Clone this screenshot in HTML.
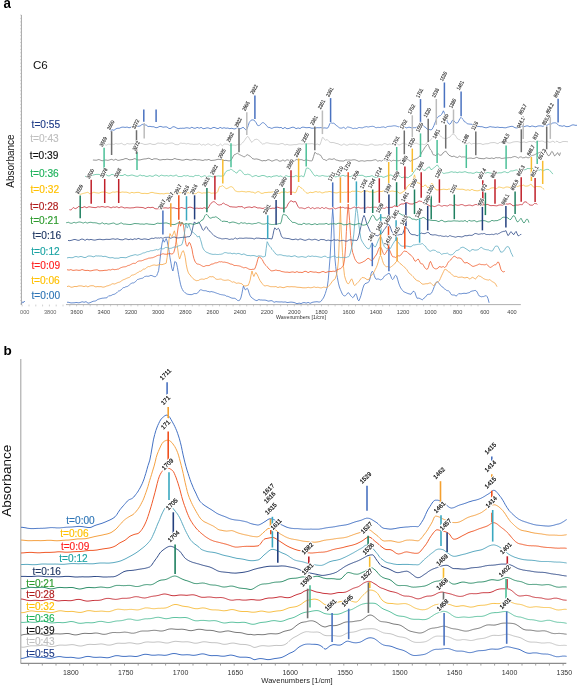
<!DOCTYPE html>
<html><head><meta charset="utf-8"><title>FTIR spectra</title><style>
html,body{margin:0;padding:0;background:#fff;}
svg{display:block;}
text{font-family:"Liberation Sans",Arial,sans-serif;}
.pl{font-weight:bold;font-size:13.5px;fill:#000;}
.c6{font-size:11.6px;fill:#111;}
.absa{font-size:10px;fill:#111;}
.absb{font-size:13.5px;fill:#111;}
.ta{font-size:5.6px;fill:#444;}
.ta2{fill:#666;}
.xla{font-size:5.3px;fill:#333;}
.tb{font-size:7px;fill:#333;}
.xlb{font-size:7.6px;fill:#222;}
.tt{font-size:10.4px;stroke-width:0.15px;}
.la{font-size:5.3px;fill:#1a1a1a;stroke:#1a1a1a;stroke-width:0.12px;}
.lb{font-size:6.1px;fill:#111;stroke:#111;stroke-width:0.2px;}
</style></head>
<body><svg width="577" height="685" viewBox="0 0 577 685">
<rect width="577" height="685" fill="#fff"/>
<text transform="translate(3.6,8.3) scale(0.86,1)" class="pl" style="font-size:15.5px">a</text>
<text x="3.6" y="355" class="pl">b</text>
<text x="33" y="69.3" class="c6">C6</text>
<text transform="translate(13.6,161) rotate(-90)" text-anchor="middle" class="absa">Absorbance</text>
<text transform="translate(10.6,480.7) rotate(-90)" text-anchor="middle" class="absb">Absorbance</text>
<line x1="21.4" y1="15" x2="21.4" y2="305" stroke="#a6a6a6" stroke-width="1"/>
<line x1="20.2" y1="15.0" x2="21.4" y2="15.0" stroke="#b0b0b0" stroke-width="0.6"/><line x1="20.2" y1="18.4" x2="21.4" y2="18.4" stroke="#b0b0b0" stroke-width="0.6"/><line x1="20.2" y1="21.9" x2="21.4" y2="21.9" stroke="#b0b0b0" stroke-width="0.6"/><line x1="20.2" y1="25.3" x2="21.4" y2="25.3" stroke="#b0b0b0" stroke-width="0.6"/><line x1="20.2" y1="28.8" x2="21.4" y2="28.8" stroke="#b0b0b0" stroke-width="0.6"/><line x1="20.2" y1="32.2" x2="21.4" y2="32.2" stroke="#b0b0b0" stroke-width="0.6"/><line x1="20.2" y1="35.6" x2="21.4" y2="35.6" stroke="#b0b0b0" stroke-width="0.6"/><line x1="20.2" y1="39.1" x2="21.4" y2="39.1" stroke="#b0b0b0" stroke-width="0.6"/><line x1="20.2" y1="42.5" x2="21.4" y2="42.5" stroke="#b0b0b0" stroke-width="0.6"/><line x1="20.2" y1="46.0" x2="21.4" y2="46.0" stroke="#b0b0b0" stroke-width="0.6"/><line x1="20.2" y1="49.4" x2="21.4" y2="49.4" stroke="#b0b0b0" stroke-width="0.6"/><line x1="20.2" y1="52.8" x2="21.4" y2="52.8" stroke="#b0b0b0" stroke-width="0.6"/><line x1="20.2" y1="56.3" x2="21.4" y2="56.3" stroke="#b0b0b0" stroke-width="0.6"/><line x1="20.2" y1="59.7" x2="21.4" y2="59.7" stroke="#b0b0b0" stroke-width="0.6"/><line x1="20.2" y1="63.2" x2="21.4" y2="63.2" stroke="#b0b0b0" stroke-width="0.6"/><line x1="20.2" y1="66.6" x2="21.4" y2="66.6" stroke="#b0b0b0" stroke-width="0.6"/><line x1="20.2" y1="70.0" x2="21.4" y2="70.0" stroke="#b0b0b0" stroke-width="0.6"/><line x1="20.2" y1="73.5" x2="21.4" y2="73.5" stroke="#b0b0b0" stroke-width="0.6"/><line x1="20.2" y1="76.9" x2="21.4" y2="76.9" stroke="#b0b0b0" stroke-width="0.6"/><line x1="20.2" y1="80.4" x2="21.4" y2="80.4" stroke="#b0b0b0" stroke-width="0.6"/><line x1="20.2" y1="83.8" x2="21.4" y2="83.8" stroke="#b0b0b0" stroke-width="0.6"/><line x1="20.2" y1="87.2" x2="21.4" y2="87.2" stroke="#b0b0b0" stroke-width="0.6"/><line x1="20.2" y1="90.7" x2="21.4" y2="90.7" stroke="#b0b0b0" stroke-width="0.6"/><line x1="20.2" y1="94.1" x2="21.4" y2="94.1" stroke="#b0b0b0" stroke-width="0.6"/><line x1="20.2" y1="97.6" x2="21.4" y2="97.6" stroke="#b0b0b0" stroke-width="0.6"/><line x1="20.2" y1="101.0" x2="21.4" y2="101.0" stroke="#b0b0b0" stroke-width="0.6"/><line x1="20.2" y1="104.4" x2="21.4" y2="104.4" stroke="#b0b0b0" stroke-width="0.6"/><line x1="20.2" y1="107.9" x2="21.4" y2="107.9" stroke="#b0b0b0" stroke-width="0.6"/><line x1="20.2" y1="111.3" x2="21.4" y2="111.3" stroke="#b0b0b0" stroke-width="0.6"/><line x1="20.2" y1="114.8" x2="21.4" y2="114.8" stroke="#b0b0b0" stroke-width="0.6"/><line x1="20.2" y1="118.2" x2="21.4" y2="118.2" stroke="#b0b0b0" stroke-width="0.6"/><line x1="20.2" y1="121.6" x2="21.4" y2="121.6" stroke="#b0b0b0" stroke-width="0.6"/><line x1="20.2" y1="125.1" x2="21.4" y2="125.1" stroke="#b0b0b0" stroke-width="0.6"/><line x1="20.2" y1="128.5" x2="21.4" y2="128.5" stroke="#b0b0b0" stroke-width="0.6"/><line x1="20.2" y1="132.0" x2="21.4" y2="132.0" stroke="#b0b0b0" stroke-width="0.6"/><line x1="20.2" y1="135.4" x2="21.4" y2="135.4" stroke="#b0b0b0" stroke-width="0.6"/><line x1="20.2" y1="138.8" x2="21.4" y2="138.8" stroke="#b0b0b0" stroke-width="0.6"/><line x1="20.2" y1="142.3" x2="21.4" y2="142.3" stroke="#b0b0b0" stroke-width="0.6"/><line x1="20.2" y1="145.7" x2="21.4" y2="145.7" stroke="#b0b0b0" stroke-width="0.6"/><line x1="20.2" y1="149.2" x2="21.4" y2="149.2" stroke="#b0b0b0" stroke-width="0.6"/><line x1="20.2" y1="152.6" x2="21.4" y2="152.6" stroke="#b0b0b0" stroke-width="0.6"/><line x1="20.2" y1="156.0" x2="21.4" y2="156.0" stroke="#b0b0b0" stroke-width="0.6"/><line x1="20.2" y1="159.5" x2="21.4" y2="159.5" stroke="#b0b0b0" stroke-width="0.6"/><line x1="20.2" y1="162.9" x2="21.4" y2="162.9" stroke="#b0b0b0" stroke-width="0.6"/><line x1="20.2" y1="166.4" x2="21.4" y2="166.4" stroke="#b0b0b0" stroke-width="0.6"/><line x1="20.2" y1="169.8" x2="21.4" y2="169.8" stroke="#b0b0b0" stroke-width="0.6"/><line x1="20.2" y1="173.2" x2="21.4" y2="173.2" stroke="#b0b0b0" stroke-width="0.6"/><line x1="20.2" y1="176.7" x2="21.4" y2="176.7" stroke="#b0b0b0" stroke-width="0.6"/><line x1="20.2" y1="180.1" x2="21.4" y2="180.1" stroke="#b0b0b0" stroke-width="0.6"/><line x1="20.2" y1="183.6" x2="21.4" y2="183.6" stroke="#b0b0b0" stroke-width="0.6"/><line x1="20.2" y1="187.0" x2="21.4" y2="187.0" stroke="#b0b0b0" stroke-width="0.6"/><line x1="20.2" y1="190.4" x2="21.4" y2="190.4" stroke="#b0b0b0" stroke-width="0.6"/><line x1="20.2" y1="193.9" x2="21.4" y2="193.9" stroke="#b0b0b0" stroke-width="0.6"/><line x1="20.2" y1="197.3" x2="21.4" y2="197.3" stroke="#b0b0b0" stroke-width="0.6"/><line x1="20.2" y1="200.8" x2="21.4" y2="200.8" stroke="#b0b0b0" stroke-width="0.6"/><line x1="20.2" y1="204.2" x2="21.4" y2="204.2" stroke="#b0b0b0" stroke-width="0.6"/><line x1="20.2" y1="207.6" x2="21.4" y2="207.6" stroke="#b0b0b0" stroke-width="0.6"/><line x1="20.2" y1="211.1" x2="21.4" y2="211.1" stroke="#b0b0b0" stroke-width="0.6"/><line x1="20.2" y1="214.5" x2="21.4" y2="214.5" stroke="#b0b0b0" stroke-width="0.6"/><line x1="20.2" y1="218.0" x2="21.4" y2="218.0" stroke="#b0b0b0" stroke-width="0.6"/><line x1="20.2" y1="221.4" x2="21.4" y2="221.4" stroke="#b0b0b0" stroke-width="0.6"/><line x1="20.2" y1="224.8" x2="21.4" y2="224.8" stroke="#b0b0b0" stroke-width="0.6"/><line x1="20.2" y1="228.3" x2="21.4" y2="228.3" stroke="#b0b0b0" stroke-width="0.6"/><line x1="20.2" y1="231.7" x2="21.4" y2="231.7" stroke="#b0b0b0" stroke-width="0.6"/><line x1="20.2" y1="235.2" x2="21.4" y2="235.2" stroke="#b0b0b0" stroke-width="0.6"/><line x1="20.2" y1="238.6" x2="21.4" y2="238.6" stroke="#b0b0b0" stroke-width="0.6"/><line x1="20.2" y1="242.0" x2="21.4" y2="242.0" stroke="#b0b0b0" stroke-width="0.6"/><line x1="20.2" y1="245.5" x2="21.4" y2="245.5" stroke="#b0b0b0" stroke-width="0.6"/><line x1="20.2" y1="248.9" x2="21.4" y2="248.9" stroke="#b0b0b0" stroke-width="0.6"/><line x1="20.2" y1="252.4" x2="21.4" y2="252.4" stroke="#b0b0b0" stroke-width="0.6"/><line x1="20.2" y1="255.8" x2="21.4" y2="255.8" stroke="#b0b0b0" stroke-width="0.6"/><line x1="20.2" y1="259.2" x2="21.4" y2="259.2" stroke="#b0b0b0" stroke-width="0.6"/><line x1="20.2" y1="262.7" x2="21.4" y2="262.7" stroke="#b0b0b0" stroke-width="0.6"/><line x1="20.2" y1="266.1" x2="21.4" y2="266.1" stroke="#b0b0b0" stroke-width="0.6"/><line x1="20.2" y1="269.6" x2="21.4" y2="269.6" stroke="#b0b0b0" stroke-width="0.6"/><line x1="20.2" y1="273.0" x2="21.4" y2="273.0" stroke="#b0b0b0" stroke-width="0.6"/><line x1="20.2" y1="276.4" x2="21.4" y2="276.4" stroke="#b0b0b0" stroke-width="0.6"/><line x1="20.2" y1="279.9" x2="21.4" y2="279.9" stroke="#b0b0b0" stroke-width="0.6"/><line x1="20.2" y1="283.3" x2="21.4" y2="283.3" stroke="#b0b0b0" stroke-width="0.6"/><line x1="20.2" y1="286.8" x2="21.4" y2="286.8" stroke="#b0b0b0" stroke-width="0.6"/><line x1="20.2" y1="290.2" x2="21.4" y2="290.2" stroke="#b0b0b0" stroke-width="0.6"/><line x1="20.2" y1="293.6" x2="21.4" y2="293.6" stroke="#b0b0b0" stroke-width="0.6"/><line x1="20.2" y1="297.1" x2="21.4" y2="297.1" stroke="#b0b0b0" stroke-width="0.6"/><line x1="20.2" y1="300.5" x2="21.4" y2="300.5" stroke="#b0b0b0" stroke-width="0.6"/><line x1="20.2" y1="304.0" x2="21.4" y2="304.0" stroke="#b0b0b0" stroke-width="0.6"/>
<line x1="66" y1="304.6" x2="520.8" y2="304.6" stroke="#a6a6a6" stroke-width="0.9"/>
<path d="M21.8,303.5 L22.6,301.8 L23.4,302.6 L24.2,301.2 L25,302" fill="none" stroke="#4472c4" stroke-width="0.8"/>
<line x1="22.2" y1="304.6" x2="22.2" y2="306.4" stroke="#b0b0b0" stroke-width="0.6"/>
<line x1="29.0" y1="304.6" x2="29.0" y2="306.4" stroke="#b0b0b0" stroke-width="0.6"/>
<line x1="35.8" y1="304.6" x2="35.8" y2="306.4" stroke="#b0b0b0" stroke-width="0.6"/>
<line x1="42.6" y1="304.6" x2="42.6" y2="306.4" stroke="#b0b0b0" stroke-width="0.6"/>
<line x1="49.4" y1="304.6" x2="49.4" y2="306.4" stroke="#b0b0b0" stroke-width="0.6"/>
<line x1="56.2" y1="304.6" x2="56.2" y2="306.4" stroke="#b0b0b0" stroke-width="0.6"/>
<line x1="63.0" y1="304.6" x2="63.0" y2="306.4" stroke="#b0b0b0" stroke-width="0.6"/>
<line x1="69.8" y1="304.6" x2="69.8" y2="306.4" stroke="#b0b0b0" stroke-width="0.6"/>
<line x1="76.6" y1="304.6" x2="76.6" y2="306.4" stroke="#b0b0b0" stroke-width="0.6"/>
<line x1="83.4" y1="304.6" x2="83.4" y2="306.4" stroke="#b0b0b0" stroke-width="0.6"/>
<line x1="90.2" y1="304.6" x2="90.2" y2="306.4" stroke="#b0b0b0" stroke-width="0.6"/>
<line x1="97.0" y1="304.6" x2="97.0" y2="306.4" stroke="#b0b0b0" stroke-width="0.6"/>
<line x1="103.8" y1="304.6" x2="103.8" y2="306.4" stroke="#b0b0b0" stroke-width="0.6"/>
<line x1="110.6" y1="304.6" x2="110.6" y2="306.4" stroke="#b0b0b0" stroke-width="0.6"/>
<line x1="117.4" y1="304.6" x2="117.4" y2="306.4" stroke="#b0b0b0" stroke-width="0.6"/>
<line x1="124.2" y1="304.6" x2="124.2" y2="306.4" stroke="#b0b0b0" stroke-width="0.6"/>
<line x1="131.0" y1="304.6" x2="131.0" y2="306.4" stroke="#b0b0b0" stroke-width="0.6"/>
<line x1="137.8" y1="304.6" x2="137.8" y2="306.4" stroke="#b0b0b0" stroke-width="0.6"/>
<line x1="144.6" y1="304.6" x2="144.6" y2="306.4" stroke="#b0b0b0" stroke-width="0.6"/>
<line x1="151.4" y1="304.6" x2="151.4" y2="306.4" stroke="#b0b0b0" stroke-width="0.6"/>
<line x1="158.2" y1="304.6" x2="158.2" y2="306.4" stroke="#b0b0b0" stroke-width="0.6"/>
<line x1="165.0" y1="304.6" x2="165.0" y2="306.4" stroke="#b0b0b0" stroke-width="0.6"/>
<line x1="171.8" y1="304.6" x2="171.8" y2="306.4" stroke="#b0b0b0" stroke-width="0.6"/>
<line x1="178.6" y1="304.6" x2="178.6" y2="306.4" stroke="#b0b0b0" stroke-width="0.6"/>
<line x1="185.4" y1="304.6" x2="185.4" y2="306.4" stroke="#b0b0b0" stroke-width="0.6"/>
<line x1="192.3" y1="304.6" x2="192.3" y2="306.4" stroke="#b0b0b0" stroke-width="0.6"/>
<line x1="199.1" y1="304.6" x2="199.1" y2="306.4" stroke="#b0b0b0" stroke-width="0.6"/>
<line x1="205.9" y1="304.6" x2="205.9" y2="306.4" stroke="#b0b0b0" stroke-width="0.6"/>
<line x1="212.7" y1="304.6" x2="212.7" y2="306.4" stroke="#b0b0b0" stroke-width="0.6"/>
<line x1="219.5" y1="304.6" x2="219.5" y2="306.4" stroke="#b0b0b0" stroke-width="0.6"/>
<line x1="226.3" y1="304.6" x2="226.3" y2="306.4" stroke="#b0b0b0" stroke-width="0.6"/>
<line x1="233.1" y1="304.6" x2="233.1" y2="306.4" stroke="#b0b0b0" stroke-width="0.6"/>
<line x1="239.9" y1="304.6" x2="239.9" y2="306.4" stroke="#b0b0b0" stroke-width="0.6"/>
<line x1="246.7" y1="304.6" x2="246.7" y2="306.4" stroke="#b0b0b0" stroke-width="0.6"/>
<line x1="253.5" y1="304.6" x2="253.5" y2="306.4" stroke="#b0b0b0" stroke-width="0.6"/>
<line x1="260.3" y1="304.6" x2="260.3" y2="306.4" stroke="#b0b0b0" stroke-width="0.6"/>
<line x1="267.1" y1="304.6" x2="267.1" y2="306.4" stroke="#b0b0b0" stroke-width="0.6"/>
<line x1="273.9" y1="304.6" x2="273.9" y2="306.4" stroke="#b0b0b0" stroke-width="0.6"/>
<line x1="280.7" y1="304.6" x2="280.7" y2="306.4" stroke="#b0b0b0" stroke-width="0.6"/>
<line x1="287.5" y1="304.6" x2="287.5" y2="306.4" stroke="#b0b0b0" stroke-width="0.6"/>
<line x1="294.3" y1="304.6" x2="294.3" y2="306.4" stroke="#b0b0b0" stroke-width="0.6"/>
<line x1="301.1" y1="304.6" x2="301.1" y2="306.4" stroke="#b0b0b0" stroke-width="0.6"/>
<line x1="307.9" y1="304.6" x2="307.9" y2="306.4" stroke="#b0b0b0" stroke-width="0.6"/>
<line x1="314.7" y1="304.6" x2="314.7" y2="306.4" stroke="#b0b0b0" stroke-width="0.6"/>
<line x1="321.5" y1="304.6" x2="321.5" y2="306.4" stroke="#b0b0b0" stroke-width="0.6"/>
<line x1="328.3" y1="304.6" x2="328.3" y2="306.4" stroke="#b0b0b0" stroke-width="0.6"/>
<line x1="335.1" y1="304.6" x2="335.1" y2="306.4" stroke="#b0b0b0" stroke-width="0.6"/>
<line x1="341.9" y1="304.6" x2="341.9" y2="306.4" stroke="#b0b0b0" stroke-width="0.6"/>
<line x1="348.7" y1="304.6" x2="348.7" y2="306.4" stroke="#b0b0b0" stroke-width="0.6"/>
<line x1="355.5" y1="304.6" x2="355.5" y2="306.4" stroke="#b0b0b0" stroke-width="0.6"/>
<line x1="362.3" y1="304.6" x2="362.3" y2="306.4" stroke="#b0b0b0" stroke-width="0.6"/>
<line x1="369.1" y1="304.6" x2="369.1" y2="306.4" stroke="#b0b0b0" stroke-width="0.6"/>
<line x1="375.9" y1="304.6" x2="375.9" y2="306.4" stroke="#b0b0b0" stroke-width="0.6"/>
<line x1="382.7" y1="304.6" x2="382.7" y2="306.4" stroke="#b0b0b0" stroke-width="0.6"/>
<line x1="389.5" y1="304.6" x2="389.5" y2="306.4" stroke="#b0b0b0" stroke-width="0.6"/>
<line x1="396.3" y1="304.6" x2="396.3" y2="306.4" stroke="#b0b0b0" stroke-width="0.6"/>
<line x1="403.1" y1="304.6" x2="403.1" y2="306.4" stroke="#b0b0b0" stroke-width="0.6"/>
<line x1="409.9" y1="304.6" x2="409.9" y2="306.4" stroke="#b0b0b0" stroke-width="0.6"/>
<line x1="416.8" y1="304.6" x2="416.8" y2="306.4" stroke="#b0b0b0" stroke-width="0.6"/>
<line x1="423.6" y1="304.6" x2="423.6" y2="306.4" stroke="#b0b0b0" stroke-width="0.6"/>
<line x1="430.4" y1="304.6" x2="430.4" y2="306.4" stroke="#b0b0b0" stroke-width="0.6"/>
<line x1="437.2" y1="304.6" x2="437.2" y2="306.4" stroke="#b0b0b0" stroke-width="0.6"/>
<line x1="444.0" y1="304.6" x2="444.0" y2="306.4" stroke="#b0b0b0" stroke-width="0.6"/>
<line x1="450.8" y1="304.6" x2="450.8" y2="306.4" stroke="#b0b0b0" stroke-width="0.6"/>
<line x1="457.6" y1="304.6" x2="457.6" y2="306.4" stroke="#b0b0b0" stroke-width="0.6"/>
<line x1="464.4" y1="304.6" x2="464.4" y2="306.4" stroke="#b0b0b0" stroke-width="0.6"/>
<line x1="471.2" y1="304.6" x2="471.2" y2="306.4" stroke="#b0b0b0" stroke-width="0.6"/>
<line x1="478.0" y1="304.6" x2="478.0" y2="306.4" stroke="#b0b0b0" stroke-width="0.6"/>
<text x="76.6" y="313.6" class="ta" text-anchor="middle">3600</text>
<text x="103.8" y="313.6" class="ta" text-anchor="middle">3400</text>
<text x="131.0" y="313.6" class="ta" text-anchor="middle">3200</text>
<text x="158.2" y="313.6" class="ta" text-anchor="middle">3000</text>
<text x="185.4" y="313.6" class="ta" text-anchor="middle">2800</text>
<text x="212.7" y="313.6" class="ta" text-anchor="middle">2600</text>
<text x="239.9" y="313.6" class="ta" text-anchor="middle">2400</text>
<text x="267.1" y="313.6" class="ta" text-anchor="middle">2200</text>
<text x="294.3" y="313.6" class="ta" text-anchor="middle">2000</text>
<text x="321.5" y="313.6" class="ta" text-anchor="middle">1800</text>
<text x="348.7" y="313.6" class="ta" text-anchor="middle">1600</text>
<text x="375.9" y="313.6" class="ta" text-anchor="middle">1400</text>
<text x="403.1" y="313.6" class="ta" text-anchor="middle">1200</text>
<text x="430.4" y="313.6" class="ta" text-anchor="middle">1000</text>
<text x="457.6" y="313.6" class="ta" text-anchor="middle">800</text>
<text x="484.8" y="313.6" class="ta" text-anchor="middle">600</text>
<text x="512.0" y="313.6" class="ta" text-anchor="middle">400</text>
<text x="24.7" y="313.6" class="ta ta2" text-anchor="middle">000</text>
<text x="50.2" y="313.6" class="ta ta2" text-anchor="middle">3800</text>
<text x="301" y="319" class="xla" text-anchor="middle">Wavenumbers [1/cm]</text>
<line x1="20.8" y1="359" x2="20.8" y2="663.5" stroke="#a6a6a6" stroke-width="1.1"/>
<line x1="20.8" y1="663.4" x2="566.3" y2="663.4" stroke="#8c8c8c" stroke-width="1.1"/>
<line x1="28.6" y1="663.4" x2="28.6" y2="665.6" stroke="#8c8c8c" stroke-width="0.8"/>
<line x1="42.3" y1="663.4" x2="42.3" y2="665.6" stroke="#8c8c8c" stroke-width="0.8"/>
<line x1="56.0" y1="663.4" x2="56.0" y2="665.6" stroke="#8c8c8c" stroke-width="0.8"/>
<line x1="69.7" y1="663.4" x2="69.7" y2="665.6" stroke="#8c8c8c" stroke-width="0.8"/>
<line x1="83.4" y1="663.4" x2="83.4" y2="665.6" stroke="#8c8c8c" stroke-width="0.8"/>
<line x1="97.1" y1="663.4" x2="97.1" y2="665.6" stroke="#8c8c8c" stroke-width="0.8"/>
<line x1="110.8" y1="663.4" x2="110.8" y2="665.6" stroke="#8c8c8c" stroke-width="0.8"/>
<line x1="124.5" y1="663.4" x2="124.5" y2="665.6" stroke="#8c8c8c" stroke-width="0.8"/>
<line x1="138.2" y1="663.4" x2="138.2" y2="665.6" stroke="#8c8c8c" stroke-width="0.8"/>
<line x1="151.9" y1="663.4" x2="151.9" y2="665.6" stroke="#8c8c8c" stroke-width="0.8"/>
<line x1="165.6" y1="663.4" x2="165.6" y2="665.6" stroke="#8c8c8c" stroke-width="0.8"/>
<line x1="179.3" y1="663.4" x2="179.3" y2="665.6" stroke="#8c8c8c" stroke-width="0.8"/>
<line x1="193.0" y1="663.4" x2="193.0" y2="665.6" stroke="#8c8c8c" stroke-width="0.8"/>
<line x1="206.8" y1="663.4" x2="206.8" y2="665.6" stroke="#8c8c8c" stroke-width="0.8"/>
<line x1="220.5" y1="663.4" x2="220.5" y2="665.6" stroke="#8c8c8c" stroke-width="0.8"/>
<line x1="234.2" y1="663.4" x2="234.2" y2="665.6" stroke="#8c8c8c" stroke-width="0.8"/>
<line x1="247.9" y1="663.4" x2="247.9" y2="665.6" stroke="#8c8c8c" stroke-width="0.8"/>
<line x1="261.6" y1="663.4" x2="261.6" y2="665.6" stroke="#8c8c8c" stroke-width="0.8"/>
<line x1="275.3" y1="663.4" x2="275.3" y2="665.6" stroke="#8c8c8c" stroke-width="0.8"/>
<line x1="289.0" y1="663.4" x2="289.0" y2="665.6" stroke="#8c8c8c" stroke-width="0.8"/>
<line x1="302.7" y1="663.4" x2="302.7" y2="665.6" stroke="#8c8c8c" stroke-width="0.8"/>
<line x1="316.4" y1="663.4" x2="316.4" y2="665.6" stroke="#8c8c8c" stroke-width="0.8"/>
<line x1="330.1" y1="663.4" x2="330.1" y2="665.6" stroke="#8c8c8c" stroke-width="0.8"/>
<line x1="343.8" y1="663.4" x2="343.8" y2="665.6" stroke="#8c8c8c" stroke-width="0.8"/>
<line x1="357.5" y1="663.4" x2="357.5" y2="665.6" stroke="#8c8c8c" stroke-width="0.8"/>
<line x1="371.2" y1="663.4" x2="371.2" y2="665.6" stroke="#8c8c8c" stroke-width="0.8"/>
<line x1="384.9" y1="663.4" x2="384.9" y2="665.6" stroke="#8c8c8c" stroke-width="0.8"/>
<line x1="398.6" y1="663.4" x2="398.6" y2="665.6" stroke="#8c8c8c" stroke-width="0.8"/>
<line x1="412.3" y1="663.4" x2="412.3" y2="665.6" stroke="#8c8c8c" stroke-width="0.8"/>
<line x1="426.0" y1="663.4" x2="426.0" y2="665.6" stroke="#8c8c8c" stroke-width="0.8"/>
<line x1="439.7" y1="663.4" x2="439.7" y2="665.6" stroke="#8c8c8c" stroke-width="0.8"/>
<line x1="453.4" y1="663.4" x2="453.4" y2="665.6" stroke="#8c8c8c" stroke-width="0.8"/>
<line x1="467.1" y1="663.4" x2="467.1" y2="665.6" stroke="#8c8c8c" stroke-width="0.8"/>
<line x1="480.9" y1="663.4" x2="480.9" y2="665.6" stroke="#8c8c8c" stroke-width="0.8"/>
<line x1="494.6" y1="663.4" x2="494.6" y2="665.6" stroke="#8c8c8c" stroke-width="0.8"/>
<line x1="508.3" y1="663.4" x2="508.3" y2="665.6" stroke="#8c8c8c" stroke-width="0.8"/>
<line x1="522.0" y1="663.4" x2="522.0" y2="665.6" stroke="#8c8c8c" stroke-width="0.8"/>
<line x1="535.7" y1="663.4" x2="535.7" y2="665.6" stroke="#8c8c8c" stroke-width="0.8"/>
<line x1="549.4" y1="663.4" x2="549.4" y2="665.6" stroke="#8c8c8c" stroke-width="0.8"/>
<line x1="563.1" y1="663.4" x2="563.1" y2="665.6" stroke="#8c8c8c" stroke-width="0.8"/>
<text x="70.9" y="675.4" class="tb" text-anchor="middle">1800</text>
<text x="125.7" y="675.4" class="tb" text-anchor="middle">1750</text>
<text x="180.5" y="675.4" class="tb" text-anchor="middle">1700</text>
<text x="235.4" y="675.4" class="tb" text-anchor="middle">1650</text>
<text x="290.2" y="675.4" class="tb" text-anchor="middle">1600</text>
<text x="345.0" y="675.4" class="tb" text-anchor="middle">1550</text>
<text x="399.8" y="675.4" class="tb" text-anchor="middle">1500</text>
<text x="454.6" y="675.4" class="tb" text-anchor="middle">1450</text>
<text x="509.5" y="675.4" class="tb" text-anchor="middle">1400</text>
<text x="564.3" y="675.4" class="tb" text-anchor="middle">1350</text>
<text x="297" y="683.4" class="xlb" text-anchor="middle">Wavenumbers [1/cm]</text>
<path d="M67.0,302.3 L68.0,302.2 L69.0,302.4 L70.0,302.7 L71.0,302.9 L72.0,302.9 L73.0,302.8 L74.0,302.8 L75.0,302.7 L76.0,302.5 L77.0,302.5 L78.0,302.8 L79.0,302.8 L80.0,302.5 L81.0,302.2 L82.0,301.8 L83.0,301.9 L84.0,302.3 L85.0,302.0 L86.0,301.6 L87.0,302.4 L88.0,303.1 L89.0,303.1 L90.0,302.6 L91.0,302.3 L92.0,301.7 L93.0,301.4 L93.9,301.1 L94.9,301.1 L95.9,300.8 L96.9,300.1 L97.9,299.4 L98.9,299.1 L99.9,298.8 L100.9,298.5 L101.9,298.3 L102.9,298.1 L103.9,298.1 L104.9,297.9 L105.9,297.9 L106.9,297.8 L107.8,296.7 L108.8,295.7 L109.8,295.9 L110.8,295.6 L111.8,295.2 L112.8,294.5 L113.8,294.4 L114.7,294.1 L115.7,293.5 L116.7,292.8 L117.7,291.8 L118.7,290.9 L119.7,290.8 L120.7,290.2 L121.7,289.1 L122.7,288.2 L123.7,287.5 L124.7,287.5 L125.7,286.8 L126.7,286.6 L127.7,286.3 L128.6,285.6 L129.6,284.8 L130.6,283.9 L131.6,283.3 L132.6,282.9 L133.6,282.9 L134.6,282.3 L135.5,281.7 L136.5,280.5 L137.5,279.5 L138.5,279.3 L139.5,278.9 L140.5,278.6 L141.5,278.4 L142.5,278.2 L143.5,277.6 L144.5,276.6 L145.5,276.4 L146.4,276.2 L147.3,276.3 L148.2,276.3 L149.2,276.1 L150.1,275.6 L151.0,275.3 L151.9,275.7 L152.9,276.0 L153.8,276.5 L154.8,276.7 L155.7,276.6 L156.7,275.6 L157.6,273.4 L158.6,270.7 L159.8,261.5 L161.1,249.8 L162.1,243.0 L163.0,239.3 L164.3,242.2 L165.2,240.6 L166.2,238.5 L167.1,241.0 L168.1,245.9 L169.1,251.4 L170.0,257.7 L171.0,263.2 L171.9,268.6 L172.9,271.0 L173.9,266.6 L174.8,261.5 L175.6,262.1 L176.3,262.4 L177.4,267.4 L178.6,274.5 L179.6,279.7 L180.5,284.2 L181.4,287.3 L182.4,289.5 L183.4,291.2 L184.3,291.9 L185.2,292.8 L186.2,293.6 L187.2,294.1 L188.1,294.3 L189.1,294.5 L190.0,294.6 L191.0,294.6 L191.9,294.6 L192.9,294.2 L193.9,293.7 L194.8,293.5 L195.8,293.6 L196.8,293.5 L197.7,292.9 L198.7,291.8 L199.6,290.3 L200.6,289.8 L201.5,289.9 L202.4,290.3 L203.4,290.6 L204.3,290.7 L205.3,290.7 L206.2,290.8 L207.2,291.4 L208.1,291.3 L209.1,291.8 L210.1,291.9 L211.0,291.6 L211.9,291.6 L212.9,292.0 L213.8,292.1 L214.8,292.5 L215.8,292.9 L216.7,293.2 L217.7,293.6 L218.6,293.8 L219.6,294.3 L220.5,294.5 L221.5,294.7 L222.4,294.8 L223.4,295.0 L224.4,295.1 L225.3,295.4 L226.3,296.2 L227.2,296.2 L228.2,296.5 L229.2,296.9 L230.1,297.4 L231.1,297.8 L232.0,298.2 L233.0,298.2 L233.9,298.3 L234.8,298.3 L235.8,298.9 L236.8,299.7 L237.7,300.5 L238.7,300.6 L239.6,300.3 L240.8,298.1 L241.9,293.7 L242.7,289.4 L243.4,286.1 L244.4,288.1 L245.3,289.9 L246.2,289.2 L247.2,288.3 L248.2,289.9 L249.1,293.1 L250.1,295.6 L251.1,297.1 L252.0,298.0 L252.9,298.5 L253.9,299.3 L254.9,300.0 L255.9,300.4 L256.9,300.6 L258.0,300.0 L259.0,299.4 L260.0,300.1 L261.0,299.9 L262.0,300.1 L263.0,300.1 L264.0,300.1 L265.0,300.1 L266.0,300.3 L267.0,300.6 L268.0,301.1 L269.0,301.1 L270.0,300.8 L271.0,300.7 L272.0,300.7 L273.0,301.4 L274.0,302.3 L275.0,302.0 L276.0,301.6 L277.0,301.8 L278.0,301.9 L279.0,301.9 L280.0,302.0 L281.0,301.9 L282.0,301.9 L283.0,302.1 L284.0,302.1 L285.0,301.9 L286.0,302.1 L287.0,302.5 L288.0,302.5 L289.0,302.3 L290.0,302.2 L291.0,302.1 L292.0,302.2 L293.0,302.3 L294.0,302.5 L295.0,302.8 L296.0,303.3 L297.0,303.7 L298.0,303.4 L299.0,303.2 L300.0,303.2 L301.0,303.7 L302.0,303.1 L303.0,302.7 L304.0,302.6 L305.0,302.7 L306.0,303.1 L307.0,302.9 L308.0,302.4 L309.0,302.7 L310.0,303.4 L311.0,303.0 L312.0,302.4 L313.0,302.2 L314.0,302.0 L315.0,301.9 L316.0,301.8 L317.0,301.7 L318.0,301.9 L319.1,302.1 L320.2,301.8 L321.3,301.0 L322.4,299.3 L323.4,298.0 L324.3,296.0 L325.3,293.5 L326.2,290.5 L327.2,287.4 L328.2,280.3 L329.1,269.5 L330.1,257.0 L331.1,238.4 L332.0,219.0 L332.7,209.1 L333.5,219.1 L334.8,257.1 L335.7,266.4 L336.5,273.1 L337.4,277.7 L338.4,283.1 L339.4,287.0 L340.4,289.6 L341.4,291.9 L342.4,294.2 L343.5,295.5 L344.5,295.9 L345.5,295.6 L346.6,294.6 L347.6,293.1 L348.6,292.7 L349.6,294.1 L350.6,295.7 L351.7,296.6 L352.7,297.7 L353.7,296.9 L354.8,294.9 L355.8,293.7 L356.8,295.8 L357.8,299.6 L358.8,300.9 L359.8,298.8 L360.9,295.7 L361.9,291.9 L362.9,288.1 L364.0,285.0 L365.0,283.7 L366.0,283.3 L367.1,282.9 L368.1,282.4 L369.1,281.5 L370.2,278.1 L371.2,273.2 L372.3,271.2 L373.3,272.4 L374.2,275.3 L375.2,278.0 L376.2,279.3 L377.2,279.0 L378.2,278.9 L379.3,279.3 L380.3,279.9 L381.3,279.6 L382.3,279.1 L383.4,277.7 L384.4,276.1 L385.4,275.4 L386.3,274.9 L387.1,274.3 L388.0,273.8 L388.9,273.3 L389.8,273.8 L390.8,276.1 L391.7,278.6 L392.6,279.6 L393.6,278.6 L394.6,276.3 L395.6,275.2 L396.6,276.1 L397.6,279.2 L398.7,283.1 L399.7,285.8 L400.7,287.9 L401.8,289.5 L402.8,290.7 L403.8,291.8 L404.8,292.2 L405.9,292.7 L406.9,293.1 L407.9,293.5 L409.0,293.9 L410.0,294.0 L411.0,294.3 L412.0,292.9 L413.0,291.4 L414.0,291.3 L415.0,292.6 L416.1,296.1 L417.1,298.3 L418.1,298.1 L419.1,298.2 L420.2,298.7 L421.2,299.2 L422.2,299.9 L423.2,299.1 L424.2,297.9 L425.3,297.2 L426.3,295.9 L427.2,294.7 L428.2,294.3 L429.2,294.3 L430.2,294.1 L431.3,293.3 L432.3,291.6 L433.3,289.2 L434.3,286.5 L435.4,284.3 L436.4,282.1 L437.4,281.6 L438.4,282.5 L439.4,283.8 L440.5,285.2 L441.5,286.4 L442.5,286.8 L443.5,288.1 L444.5,288.9 L445.6,289.5 L446.6,290.4 L447.6,290.7 L448.6,290.9 L449.6,291.8 L450.6,293.6 L451.7,294.9 L452.7,295.0 L453.7,295.0 L454.8,295.0 L455.8,296.1 L456.8,295.7 L457.8,294.5 L458.8,293.5 L459.9,293.8 L460.9,293.8 L461.9,293.7 L462.9,293.4 L464.0,293.3 L465.0,293.3 L466.0,293.5 L467.1,293.2 L468.1,292.8 L469.1,292.8 L470.1,291.9 L471.1,291.4 L472.1,291.0 L473.2,290.9 L474.2,290.6 L475.2,290.4 L476.2,290.9 L477.2,292.1 L478.2,294.3 L479.3,296.0 L480.3,296.4 L481.3,296.8 L482.3,296.6 L483.4,296.6 L484.4,296.2 L485.4,295.8 L486.3,295.7 L487.1,296.6 L488.0,298.6 L489.1,302.8" fill="none" stroke="#4472c4" stroke-width="0.8" stroke-linejoin="round"/><path d="M67.0,286.6 L68.0,286.3 L69.0,286.0 L70.0,286.7 L71.0,287.2 L72.0,287.2 L73.0,287.0 L74.0,286.6 L75.0,286.4 L76.0,286.6 L77.0,286.5 L78.0,286.1 L79.0,285.9 L80.0,285.9 L81.0,285.9 L82.0,286.0 L83.0,286.3 L84.0,286.6 L85.0,286.3 L86.0,285.8 L87.0,286.5 L88.0,287.0 L89.0,286.2 L90.0,286.0 L91.0,285.7 L92.0,285.8 L93.0,285.7 L94.0,286.0 L95.0,286.7 L96.0,286.9 L97.0,286.6 L98.0,286.6 L99.0,286.7 L100.0,286.7 L101.0,286.6 L102.0,286.9 L103.0,287.2 L104.0,287.0 L105.0,286.8 L105.9,286.4 L106.9,285.9 L107.9,285.8 L108.9,285.5 L109.8,285.0 L110.8,284.8 L111.8,284.0 L112.8,283.7 L113.8,283.9 L114.8,284.0 L115.8,283.5 L116.8,283.0 L117.8,282.6 L118.7,282.3 L119.7,282.1 L120.7,281.5 L121.7,280.7 L122.7,280.1 L123.7,279.6 L124.7,279.3 L125.7,278.8 L126.7,278.3 L127.7,277.9 L128.6,277.6 L129.6,277.3 L130.6,276.3 L131.6,275.2 L132.6,275.0 L133.6,274.9 L134.6,274.4 L135.5,274.0 L136.5,273.3 L137.5,272.6 L138.5,272.2 L139.5,271.3 L140.5,271.3 L141.5,270.9 L142.5,269.7 L143.5,269.1 L144.6,269.1 L145.6,268.5 L146.6,267.6 L147.6,267.0 L148.6,266.5 L149.6,266.6 L150.7,266.0 L151.7,265.6 L152.8,265.2 L153.8,265.0 L154.8,265.0 L155.9,265.3 L156.9,265.3 L158.0,265.0 L159.0,264.8 L160.0,264.4 L161.0,264.5 L162.0,264.7 L163.0,264.3 L164.1,264.0 L165.1,263.7 L166.2,263.2 L167.1,257.6 L168.1,248.1 L169.1,238.9 L170.0,233.6 L170.9,235.4 L171.9,236.6 L173.2,233.9 L174.4,230.8 L175.6,235.5 L176.7,242.9 L177.7,248.9 L178.6,255.5 L179.6,259.0 L180.6,256.2 L181.5,253.3 L182.4,251.3 L183.4,250.7 L184.4,253.5 L185.3,257.7 L186.2,264.2 L187.2,269.1 L188.1,272.1 L189.1,274.0 L190.1,275.0 L191.0,276.3 L192.0,277.4 L192.9,278.5 L193.9,279.3 L194.8,279.9 L195.8,280.4 L196.7,280.7 L197.7,280.5 L198.6,280.4 L199.6,279.7 L200.6,279.3 L201.5,279.1 L202.4,279.1 L203.4,279.3 L204.4,279.2 L205.3,278.6 L206.2,278.6 L207.2,278.3 L208.2,277.7 L209.1,276.9 L210.1,276.7 L211.0,276.7 L211.9,276.9 L212.9,276.5 L213.8,277.0 L214.8,278.2 L215.8,278.9 L216.7,279.3 L217.7,279.4 L218.6,279.3 L219.6,279.1 L220.5,279.0 L221.5,279.2 L222.4,279.8 L223.4,280.1 L224.4,280.3 L225.3,280.3 L226.3,280.2 L227.3,280.0 L228.4,280.0 L229.4,280.4 L230.4,280.9 L231.5,281.7 L232.5,282.2 L233.6,281.8 L234.6,282.0 L235.6,283.1 L236.7,283.3 L237.7,283.1 L238.8,283.0 L239.8,283.3 L240.8,283.5 L241.9,283.8 L242.9,285.0 L244.0,285.8 L245.0,286.0 L246.1,285.9 L247.1,285.4 L248.2,285.4 L249.1,283.2 L250.1,280.2 L251.1,274.8 L252.0,271.0 L252.9,274.3 L253.9,276.5 L254.9,274.0 L255.8,272.5 L256.9,274.0 L258.0,276.2 L259.0,278.6 L260.0,280.5 L261.0,282.0 L262.1,283.4 L263.1,284.7 L264.2,285.8 L265.3,285.9 L266.3,285.6 L267.3,285.6 L268.2,285.8 L269.2,286.2 L270.2,286.6 L271.2,286.7 L272.2,286.7 L273.1,286.7 L274.1,286.8 L275.1,286.6 L276.1,286.6 L277.1,287.2 L278.0,287.6 L279.0,287.1 L280.0,286.9 L281.0,287.1 L282.0,287.4 L283.0,287.7 L284.0,287.6 L285.0,287.2 L286.0,286.9 L287.0,286.6 L288.0,286.6 L289.0,286.8 L290.0,286.8 L291.0,286.7 L292.0,286.7 L293.0,286.8 L294.0,286.8 L295.0,286.8 L296.0,287.0 L297.0,287.2 L298.0,287.3 L299.0,287.3 L300.0,287.4 L301.0,287.5 L302.0,287.7 L303.0,287.8 L304.0,287.8 L305.1,287.8 L306.1,287.8 L307.1,287.6 L308.1,287.3 L309.1,287.5 L310.1,287.8 L311.1,287.7 L312.1,287.6 L313.1,287.2 L314.2,286.9 L315.2,287.3 L316.2,287.5 L317.2,287.3 L318.2,287.3 L319.2,287.6 L320.2,287.8 L321.2,287.9 L322.3,287.6 L323.3,287.2 L324.3,287.2 L325.3,287.4 L326.3,287.5 L327.2,287.2 L328.2,286.6 L329.1,285.7 L330.1,284.5 L331.1,283.1 L332.0,281.8 L332.9,280.5 L333.9,280.0 L335.1,278.8 L336.4,275.2 L337.4,270.2 L338.4,261.1 L339.7,230.0 L340.4,206.0 L341.2,230.0 L342.5,252.7 L343.5,266.7 L344.5,275.6 L345.5,279.2 L346.6,282.0 L347.6,283.5 L348.6,283.7 L349.6,282.3 L350.7,280.0 L351.7,278.8 L352.7,281.1 L353.8,284.5 L354.8,285.6 L355.8,284.4 L356.8,283.6 L357.8,282.6 L358.8,281.5 L359.8,280.2 L360.9,278.7 L361.9,277.7 L362.9,277.5 L363.9,277.8 L364.9,278.0 L366.0,278.9 L367.0,279.6 L368.0,279.7 L369.1,279.1 L370.1,277.4 L371.1,275.5 L372.2,274.7 L373.2,273.5 L374.2,271.7 L375.2,269.6 L376.2,267.7 L377.2,265.3 L378.3,261.7 L379.4,257.6 L380.5,255.3 L381.5,257.1 L382.4,260.3 L383.4,263.3 L384.4,265.1 L385.4,266.0 L386.4,266.7 L387.5,266.6 L388.5,266.7 L389.5,267.2 L390.5,267.2 L391.5,266.5 L392.6,265.6 L393.6,264.7 L394.6,264.0 L395.9,262.0 L397.1,260.9 L398.0,261.1 L399.0,262.4 L399.9,263.4 L400.9,263.9 L401.8,265.0 L402.8,265.7 L403.8,266.7 L404.9,267.6 L405.9,268.5 L406.9,269.7 L407.9,271.4 L408.9,272.9 L409.9,273.7 L410.9,274.5 L412.0,275.5 L413.0,276.6 L414.0,277.5 L415.0,279.0 L416.1,279.9 L417.1,280.6 L418.1,280.9 L419.2,281.2 L420.2,282.3 L421.2,283.0 L422.2,284.1 L423.1,284.2 L424.1,284.1 L425.1,283.9 L426.1,283.7 L427.1,283.8 L428.2,283.5 L429.2,283.1 L430.2,282.8 L431.3,283.5 L432.3,284.5 L433.3,285.7 L434.3,284.9 L435.4,283.3 L436.4,282.3 L437.4,282.4 L438.4,281.4 L439.4,280.7 L440.4,278.4 L441.5,275.9 L442.5,273.8 L443.5,271.7 L444.6,269.5 L445.6,269.4 L446.6,269.8 L447.6,271.1 L448.6,271.8 L449.6,272.0 L450.6,273.3 L451.7,274.5 L452.7,275.1 L453.7,276.0 L454.8,276.5 L455.8,276.3 L456.8,276.5 L457.8,277.2 L458.8,277.4 L459.9,277.2 L460.9,277.2 L461.9,277.0 L462.9,277.3 L464.0,277.8 L465.0,277.9 L466.0,277.6 L467.0,277.3 L468.1,277.8 L469.1,278.7 L470.1,279.1 L471.1,278.1 L472.2,277.3 L473.2,277.6 L474.2,278.2 L475.2,279.1 L476.2,278.4 L477.2,276.8 L478.3,275.7 L479.3,276.1 L480.3,276.3 L481.3,277.0 L482.3,277.6 L483.4,278.5 L484.4,279.0 L485.4,279.4 L486.4,279.7 L487.4,279.9 L488.5,280.1 L489.5,279.6 L490.5,280.2 L491.5,281.0 L492.6,281.8 L493.6,282.3 L494.6,282.8 L495.6,284.1 L497.0,286.7" fill="none" stroke="#f5a243" stroke-width="0.8" stroke-linejoin="round"/><path d="M67.0,269.8 L68.0,269.8 L69.0,270.2 L70.0,269.8 L71.0,269.6 L72.0,270.1 L73.0,270.4 L74.0,270.3 L75.0,270.2 L76.0,270.0 L77.0,270.0 L78.0,270.3 L79.0,270.3 L80.0,270.3 L81.0,270.0 L82.0,269.5 L83.0,269.8 L84.0,270.2 L85.0,270.4 L86.0,270.5 L87.0,270.4 L88.0,270.3 L89.0,270.7 L90.0,270.9 L91.0,270.8 L92.0,270.6 L93.0,270.3 L94.0,270.1 L95.0,270.0 L96.0,269.9 L97.0,269.8 L98.0,270.1 L99.0,270.7 L100.0,270.8 L101.0,270.7 L102.0,270.7 L103.0,270.6 L104.0,270.4 L105.0,270.3 L106.0,270.3 L106.9,270.3 L107.9,270.0 L108.9,269.7 L109.9,269.9 L110.8,270.0 L111.8,269.5 L112.8,269.2 L113.8,269.5 L114.8,269.7 L115.7,269.5 L116.7,269.4 L117.7,269.1 L118.7,269.0 L119.7,268.3 L120.7,267.8 L121.7,267.4 L122.7,267.1 L123.7,266.9 L124.7,266.8 L125.6,266.7 L126.6,266.3 L127.6,265.7 L128.6,265.4 L129.6,265.2 L130.6,264.6 L131.6,264.1 L132.6,263.6 L133.6,263.3 L134.6,263.4 L135.6,263.3 L136.6,262.3 L137.6,261.5 L138.6,261.1 L139.5,260.9 L140.5,260.9 L141.5,260.8 L142.5,260.5 L143.5,260.1 L144.5,259.6 L145.5,259.3 L146.5,259.0 L147.5,258.7 L148.5,258.2 L149.5,258.1 L150.5,258.0 L151.6,257.8 L152.6,257.7 L153.6,257.3 L154.6,256.9 L155.6,256.5 L156.6,255.9 L157.6,255.5 L158.5,255.2 L159.5,255.2 L160.4,255.0 L161.4,254.3 L162.3,253.9 L163.3,253.8 L164.3,254.1 L165.2,254.2 L166.2,254.3 L167.1,254.1 L168.1,253.9 L169.1,253.6 L170.0,253.6 L171.0,253.9 L171.9,254.0 L172.9,253.7 L173.8,252.4 L174.8,249.0 L175.7,244.3 L176.9,236.1 L178.2,227.0 L179.5,221.1 L180.5,226.2 L181.2,224.7 L182.0,222.2 L183.4,225.0 L184.4,232.3 L185.3,240.3 L186.2,244.7 L187.2,246.3 L188.1,244.9 L189.1,242.4 L190.1,243.2 L191.0,245.8 L192.0,249.2 L192.9,254.5 L193.9,258.5 L194.8,261.0 L195.8,262.7 L196.8,263.8 L197.7,264.1 L198.6,264.2 L199.6,264.5 L200.6,265.0 L201.5,265.6 L202.4,266.1 L203.4,266.5 L204.4,266.4 L205.3,265.9 L206.2,265.6 L207.2,265.6 L208.2,265.6 L209.1,265.5 L210.1,265.0 L211.0,264.3 L212.0,264.0 L212.9,264.0 L213.8,263.6 L214.8,263.0 L215.8,262.8 L216.7,262.8 L217.7,262.5 L218.6,262.0 L219.6,261.7 L220.5,261.9 L221.5,261.7 L222.4,262.0 L223.4,262.2 L224.3,262.1 L225.3,262.3 L226.3,262.5 L227.2,262.7 L228.2,263.0 L229.1,263.4 L230.1,264.0 L231.1,264.1 L232.2,264.3 L233.2,264.9 L234.2,265.5 L235.3,265.5 L236.3,265.5 L237.4,265.7 L238.4,265.8 L239.4,266.0 L240.5,266.3 L241.5,266.9 L242.5,267.2 L243.6,267.8 L244.6,267.7 L245.6,267.5 L246.7,267.9 L247.7,268.4 L248.7,269.0 L249.8,269.4 L250.8,269.5 L251.8,269.5 L252.9,269.2 L253.9,269.3 L254.9,268.7 L255.8,266.2 L256.8,263.2 L257.7,259.6 L258.6,257.1 L259.5,257.0 L260.5,257.6 L261.4,258.8 L262.3,259.6 L263.1,261.3 L264.0,263.1 L265.1,264.7 L266.1,265.6 L267.2,266.7 L268.1,268.0 L269.1,269.0 L270.0,269.9 L271.0,270.6 L271.9,271.0 L272.9,270.7 L273.9,270.6 L274.9,270.3 L275.9,270.0 L276.9,270.3 L277.9,270.6 L278.9,270.6 L279.9,270.7 L280.9,271.2 L281.9,271.6 L282.9,271.7 L283.9,271.9 L284.9,272.1 L285.9,272.2 L287.0,272.1 L288.0,272.2 L289.0,272.4 L290.0,272.4 L291.0,272.1 L292.0,272.0 L293.0,271.9 L294.0,272.2 L295.0,272.5 L296.0,272.0 L297.0,271.6 L298.0,272.1 L299.0,272.5 L300.0,272.2 L301.0,272.4 L302.0,272.5 L303.0,272.3 L304.0,271.6 L305.0,271.3 L306.0,271.4 L307.0,271.9 L308.0,272.6 L309.0,272.3 L310.0,271.5 L311.0,271.6 L312.0,271.9 L313.0,272.0 L314.0,272.2 L315.0,272.1 L316.0,272.0 L317.0,272.4 L318.0,272.7 L319.0,272.7 L320.0,272.6 L321.0,272.1 L322.0,271.7 L323.0,271.5 L324.0,271.7 L325.0,272.4 L326.0,272.5 L327.0,272.0 L328.0,271.8 L329.0,271.6 L330.0,271.5 L331.0,271.4 L332.0,271.7 L332.9,271.1 L333.9,271.3 L334.9,271.4 L335.8,270.8 L336.8,270.0 L337.7,269.6 L338.7,269.3 L339.6,268.8 L340.6,268.7 L341.6,267.7 L342.5,266.4 L343.5,265.2 L344.6,259.2 L345.6,246.7 L346.4,231.4 L347.2,216.0 L348.2,204.0 L349.6,220.4 L350.6,235.7 L351.7,247.1 L352.7,252.5 L353.8,255.8 L354.8,258.8 L355.8,260.6 L356.8,261.9 L357.8,262.9 L358.8,263.2 L359.8,263.2 L360.9,262.8 L361.9,262.4 L362.9,262.0 L363.9,261.3 L364.9,260.9 L366.0,259.9 L367.0,259.0 L368.0,258.2 L369.0,258.7 L370.1,259.6 L371.1,260.5 L372.1,260.3 L373.1,259.6 L374.1,257.9 L375.2,256.2 L376.2,255.0 L377.3,252.8 L378.4,249.6 L379.4,247.6 L380.5,247.0 L381.5,248.4 L382.4,251.1 L383.4,253.6 L384.4,254.8 L385.4,253.6 L386.4,251.8 L387.5,249.9 L388.5,249.5 L389.5,250.0 L390.5,252.2 L391.6,255.0 L392.6,256.6 L393.6,256.9 L394.6,257.0 L395.6,257.5 L396.6,256.7 L397.7,255.9 L398.7,255.8 L399.7,255.9 L400.7,255.2 L401.7,253.9 L402.8,252.3 L403.8,251.3 L404.8,251.0 L405.9,251.5 L406.9,251.6 L407.9,252.7 L409.0,253.9 L410.0,254.5 L411.1,255.3 L412.1,256.5 L413.1,257.7 L414.2,259.9 L415.2,261.3 L416.2,260.8 L417.2,259.6 L418.2,259.0 L419.2,260.5 L420.3,262.9 L421.3,264.0 L422.3,263.7 L423.4,265.2 L424.4,267.1 L425.4,268.4 L426.4,269.2 L427.4,269.1 L428.4,267.4 L429.5,263.1 L430.5,261.4 L431.6,263.8 L432.8,266.8 L433.8,268.1 L434.7,268.5 L435.7,268.9 L436.6,268.8 L437.7,268.4 L438.9,266.9 L440.0,266.5 L441.1,267.3 L442.2,266.9 L443.4,266.6 L444.5,267.5 L445.5,267.0 L446.6,265.6 L447.6,263.3 L448.6,261.8 L449.7,260.7 L450.7,260.0 L451.7,258.6 L452.8,257.3 L453.8,256.4 L454.8,256.3 L455.8,257.0 L456.8,257.7 L457.8,258.2 L458.8,257.8 L459.8,258.1 L460.9,258.5 L461.9,259.3 L462.9,260.8 L463.9,262.4 L464.9,262.9 L466.0,262.8 L467.0,262.4 L468.0,263.2 L469.0,263.8 L470.1,264.5 L471.1,265.3 L472.1,266.1 L473.1,266.4 L474.1,266.2 L475.2,265.8 L476.2,265.4 L477.2,265.1 L478.2,264.5 L479.3,264.0 L480.3,264.3 L481.3,264.6 L482.4,264.6 L483.4,264.7 L484.4,264.8 L485.4,264.7 L486.5,264.2 L487.5,264.9 L488.5,266.1 L489.5,267.2 L490.5,267.4 L491.6,266.8 L492.6,266.1 L493.6,265.4 L494.6,264.8 L495.6,264.9 L496.6,263.7 L497.7,262.1 L498.7,262.3 L499.7,265.0 L500.8,269.2 L501.8,270.9 L502.8,271.7 L503.8,271.9 L504.8,271.3" fill="none" stroke="#f05a2a" stroke-width="0.8" stroke-linejoin="round"/><path d="M67.0,257.8 L68.0,257.8 L69.0,257.4 L70.0,257.6 L71.0,257.7 L72.0,257.7 L73.0,257.6 L74.0,257.0 L75.0,256.7 L76.0,256.5 L77.0,256.7 L78.0,257.1 L79.0,257.0 L80.0,256.5 L81.0,256.5 L82.0,256.7 L83.0,257.1 L84.0,257.5 L85.0,257.5 L86.0,257.4 L87.0,256.7 L88.0,256.1 L89.0,256.0 L90.0,256.0 L91.0,256.1 L92.0,256.3 L93.0,256.8 L94.0,256.8 L95.0,256.1 L96.0,255.8 L97.0,256.0 L98.0,256.0 L99.0,255.9 L100.0,256.2 L101.0,255.9 L102.0,256.2 L103.0,256.6 L104.0,256.5 L105.0,256.2 L106.0,256.6 L107.0,256.9 L108.0,257.3 L109.0,257.6 L110.0,257.8 L111.0,257.8 L112.0,257.6 L113.0,257.7 L114.0,258.1 L115.0,258.3 L116.0,258.1 L117.0,258.2 L118.0,258.2 L119.0,258.2 L120.0,257.6 L121.0,257.5 L122.0,257.5 L123.0,257.5 L124.0,257.6 L125.0,257.7 L126.0,257.8 L127.0,257.3 L128.0,256.8 L129.0,256.5 L130.0,256.1 L131.0,255.7 L132.0,255.6 L133.0,255.2 L133.9,255.0 L134.9,254.7 L135.9,254.7 L136.8,255.1 L137.8,255.2 L138.8,254.8 L139.7,254.5 L140.7,254.2 L141.6,253.8 L142.6,253.2 L143.6,252.9 L144.5,252.8 L145.5,252.4 L146.5,251.9 L147.4,251.6 L148.4,251.6 L149.4,251.3 L150.3,250.8 L151.3,250.7 L152.3,250.7 L153.3,250.5 L154.2,250.1 L155.2,250.1 L156.2,249.4 L157.3,249.8 L158.3,250.0 L159.3,249.0 L160.4,248.3 L161.4,248.7 L162.4,248.9 L163.5,248.7 L164.5,248.2 L165.5,247.5 L166.6,247.5 L167.6,247.7 L168.6,248.1 L169.6,248.4 L170.7,248.3 L171.7,248.1 L172.7,247.6 L173.8,247.2 L174.8,247.0 L175.8,247.2 L176.7,246.9 L177.7,246.5 L178.6,245.9 L179.6,245.6 L180.5,245.4 L181.5,245.0 L182.4,243.2 L183.4,239.2 L184.3,234.5 L185.1,228.2 L185.8,224.1 L186.6,226.5 L187.3,228.1 L188.1,226.1 L188.8,224.0 L190.0,228.1 L190.8,230.3 L191.6,231.5 L192.7,232.0 L193.7,233.1 L194.8,233.9 L195.8,234.7 L196.7,235.7 L197.5,237.0 L198.3,236.7 L199.2,236.0 L200.5,239.5 L201.5,243.0 L202.4,246.7 L203.4,249.0 L204.3,250.3 L205.3,251.4 L206.2,252.1 L207.2,252.5 L208.2,252.9 L209.1,253.5 L210.0,253.7 L211.0,254.0 L211.9,254.2 L212.9,254.4 L213.8,254.4 L214.8,254.3 L215.8,254.3 L216.7,254.5 L217.7,254.5 L218.6,254.5 L219.6,254.3 L220.5,254.3 L221.5,254.1 L222.4,253.9 L223.4,253.3 L224.4,252.7 L225.3,252.6 L226.3,252.7 L227.2,253.0 L228.2,253.2 L229.2,253.2 L230.1,253.0 L231.1,253.3 L232.0,253.8 L233.0,253.7 L233.9,253.2 L234.9,253.5 L235.8,253.8 L236.8,253.9 L237.8,253.4 L238.9,253.5 L239.9,253.8 L240.9,254.3 L241.9,254.7 L243.0,254.1 L244.0,253.9 L245.0,254.5 L246.0,255.0 L247.1,255.4 L248.1,255.6 L249.1,255.4 L250.1,255.8 L251.1,255.7 L252.1,255.6 L253.1,255.5 L254.1,255.6 L255.0,255.8 L256.0,256.2 L257.0,256.5 L258.0,256.1 L259.0,255.7 L260.0,256.2 L261.1,255.9 L262.1,256.7 L263.2,256.9 L264.2,256.6 L265.3,256.2 L266.2,248.6 L267.2,241.7 L268.1,243.3 L269.1,245.7 L270.1,246.5 L271.0,247.7 L271.9,249.4 L272.9,250.5 L273.9,251.4 L274.8,252.7 L275.8,254.1 L276.7,254.5 L277.7,255.0 L278.7,254.9 L279.8,254.7 L280.8,254.8 L281.8,255.0 L282.8,255.4 L283.9,255.7 L284.9,255.7 L285.9,255.8 L286.9,256.1 L288.0,256.1 L289.0,255.9 L290.0,256.2 L291.0,256.6 L292.0,256.5 L293.0,256.2 L294.0,255.9 L295.0,255.7 L296.0,256.3 L297.0,256.8 L297.9,257.0 L298.9,257.1 L299.9,256.9 L300.9,256.7 L301.9,256.6 L302.9,256.7 L303.9,257.0 L304.9,257.2 L305.9,257.3 L306.9,256.9 L307.9,256.1 L308.9,256.0 L309.9,256.5 L310.9,256.4 L311.9,256.0 L312.8,256.1 L313.8,256.4 L314.8,256.4 L315.8,256.3 L316.8,256.5 L317.8,256.7 L318.8,256.9 L319.8,257.1 L320.8,257.3 L321.8,257.3 L322.8,256.8 L323.8,256.4 L324.8,256.2 L325.8,256.3 L326.7,257.2 L327.7,257.6 L328.7,257.5 L329.7,257.3 L330.7,257.1 L331.7,256.8 L332.7,256.4 L333.7,256.2 L334.7,256.2 L335.7,256.8 L336.7,257.6 L337.7,257.4 L338.7,257.0 L339.7,257.3 L340.7,257.6 L341.6,257.5 L342.6,257.5 L343.6,257.4 L344.6,257.4 L345.6,257.5 L346.6,257.4 L347.6,256.9 L348.6,256.8 L349.6,255.3 L350.6,252.1 L351.7,247.7 L352.7,242.7 L353.8,234.1 L354.8,222.4 L355.6,212.6 L356.4,206.1 L357.6,213.4 L358.8,224.4 L359.9,232.7 L360.9,238.6 L361.9,241.0 L362.9,242.7 L364.0,244.3 L365.0,245.9 L366.0,247.1 L367.1,248.1 L368.1,248.7 L369.1,248.8 L370.1,247.4 L371.1,244.7 L372.1,243.0 L373.1,244.6 L374.2,246.5 L375.2,247.0 L376.1,245.8 L377.0,243.5 L377.9,241.2 L378.9,239.0 L379.8,237.3 L380.7,236.7 L381.6,238.3 L382.5,241.7 L383.5,244.8 L384.4,246.7 L385.4,247.7 L386.4,248.6 L387.5,248.6 L388.5,248.7 L389.5,248.9 L390.4,248.5 L391.4,246.7 L392.3,244.9 L393.3,243.3 L394.2,241.8 L395.2,240.4 L396.1,240.4 L397.1,241.1 L398.0,242.3 L399.0,243.2 L399.9,244.5 L400.9,245.8 L401.8,246.0 L402.8,246.3 L403.9,246.2 L404.9,246.0 L405.9,246.0 L406.9,246.2 L407.9,246.3 L409.0,246.5 L410.0,246.8 L411.0,246.6 L411.9,246.1 L412.9,245.3 L413.8,244.8 L414.8,245.0 L415.8,244.7 L416.7,244.6 L417.7,244.4 L418.6,244.3 L419.6,244.2 L420.5,244.2 L421.5,243.8 L422.4,243.6 L423.4,244.5 L424.3,245.4 L425.3,246.0 L426.2,247.4 L427.2,248.8 L428.2,249.9 L429.2,250.7 L430.2,251.3 L431.3,250.8 L432.3,250.3 L433.3,250.1 L434.3,250.3 L435.4,250.5 L436.4,251.5 L437.4,252.1 L438.4,252.2 L439.4,252.3 L440.4,253.4 L441.5,254.3 L442.5,254.0 L443.5,253.6 L444.5,253.5 L445.5,253.5 L446.6,253.3 L447.6,253.2 L448.6,254.1 L449.6,254.6 L450.6,254.9 L451.7,254.7 L452.7,254.4 L453.7,253.5 L454.7,252.2 L455.8,251.1 L456.8,250.4 L457.8,250.3 L458.8,249.9 L459.8,248.7 L460.9,247.7 L461.9,247.5 L462.9,247.1 L463.9,247.5 L464.9,248.1 L466.0,248.8 L467.0,249.4 L468.0,250.1 L469.1,250.9 L470.1,251.5 L471.1,250.2 L472.1,249.6 L473.1,249.5 L474.2,250.0 L475.2,250.1 L476.2,250.1 L477.2,249.9 L478.2,249.7 L479.3,248.7 L480.3,247.8 L481.3,247.4 L482.3,248.0 L483.4,248.8 L484.4,249.2 L485.4,249.5 L486.4,249.7 L487.4,249.8 L488.5,249.9 L489.5,250.5 L490.5,250.8 L491.6,251.0 L492.6,250.8 L493.6,249.0 L494.6,247.3 L495.7,246.0 L496.7,246.1 L497.7,246.2 L498.7,247.9 L499.8,250.3 L500.8,252.2 L501.8,252.0 L502.8,251.8 L503.8,250.9 L504.9,249.3 L505.9,247.5 L506.9,246.9 L507.9,246.5 L508.9,247.2 L510.0,249.6 L511.0,252.6 L512.0,254.5 L513.0,256.7" fill="none" stroke="#5aa9c0" stroke-width="0.8" stroke-linejoin="round"/><path d="M68.0,240.3 L69.0,240.7 L70.0,240.6 L71.0,240.4 L72.0,240.2 L73.0,239.8 L74.0,239.5 L75.0,239.5 L76.0,239.7 L77.0,240.1 L78.0,240.3 L79.0,240.3 L80.0,239.9 L81.0,239.2 L82.0,239.1 L83.0,239.2 L84.0,239.7 L85.0,240.4 L86.0,239.8 L87.0,239.1 L88.0,239.5 L89.0,239.9 L90.0,239.6 L91.0,239.4 L92.0,239.7 L93.0,239.9 L94.0,240.1 L95.0,240.1 L96.0,239.9 L97.0,239.6 L98.0,239.5 L99.0,239.3 L100.0,239.3 L101.0,239.4 L102.0,239.7 L103.0,239.7 L104.0,239.7 L105.0,239.5 L106.0,239.3 L107.0,239.3 L108.0,239.4 L109.0,239.4 L110.0,239.4 L111.0,239.2 L112.0,238.9 L113.0,238.9 L114.0,238.9 L115.0,239.3 L116.0,239.2 L117.0,238.8 L118.0,238.9 L119.0,239.3 L120.0,239.6 L121.0,239.7 L122.0,239.8 L123.0,239.8 L124.0,239.3 L125.0,238.8 L126.0,238.9 L127.0,239.1 L128.0,239.5 L129.0,239.7 L130.0,239.2 L131.0,239.0 L132.0,239.6 L133.0,239.6 L134.0,238.9 L135.0,238.8 L136.0,239.3 L137.0,239.1 L138.0,238.4 L139.0,238.5 L140.0,239.1 L141.0,239.3 L142.0,239.4 L143.0,239.2 L144.0,238.9 L145.0,239.0 L146.0,239.0 L147.0,239.3 L148.0,239.5 L149.0,239.5 L150.0,238.9 L150.9,238.6 L151.9,238.2 L152.8,238.4 L153.8,238.5 L154.8,238.0 L155.7,237.8 L156.7,238.0 L157.6,238.1 L158.6,237.9 L159.5,238.1 L160.5,237.7 L161.5,237.8 L162.5,238.2 L163.4,238.1 L164.4,237.6 L165.4,237.4 L166.4,237.4 L167.4,237.3 L168.4,237.2 L169.4,237.6 L170.3,238.2 L171.3,238.0 L172.3,237.5 L173.3,237.2 L174.3,237.0 L175.3,237.4 L176.3,237.8 L177.3,237.9 L178.2,237.9 L179.2,237.8 L180.2,237.6 L181.2,237.5 L182.2,237.4 L183.2,237.3 L184.2,237.2 L185.1,237.3 L186.1,237.2 L187.1,236.8 L188.1,236.7 L189.1,236.8 L190.0,236.2 L191.0,234.7 L192.1,230.9 L193.3,225.2 L194.4,221.9 L195.4,223.1 L196.5,223.5 L197.5,223.2 L198.5,222.3 L199.5,223.2 L200.5,225.0 L201.5,227.1 L202.4,229.5 L203.4,230.3 L204.3,229.5 L205.3,227.6 L206.2,226.6 L207.2,227.7 L208.1,229.4 L209.1,230.7 L210.1,231.3 L211.0,232.4 L211.9,233.4 L212.9,234.6 L213.8,235.5 L214.8,236.1 L215.8,236.5 L216.7,237.2 L217.7,237.6 L218.6,238.0 L219.6,238.2 L220.5,238.4 L221.5,238.8 L222.5,238.9 L223.4,238.8 L224.4,238.7 L225.3,238.5 L226.3,238.6 L227.3,238.7 L228.3,239.1 L229.3,239.4 L230.3,239.3 L231.3,239.0 L232.2,239.1 L233.2,239.3 L234.2,238.6 L235.2,237.9 L236.2,238.5 L237.2,239.0 L238.2,238.6 L239.2,238.2 L240.2,238.2 L241.2,238.2 L242.2,238.3 L243.2,238.4 L244.1,238.2 L245.1,238.1 L246.1,238.0 L247.1,238.1 L248.1,238.2 L249.1,238.2 L250.1,238.2 L251.1,238.3 L252.1,238.3 L253.1,238.6 L254.1,239.1 L255.0,238.7 L256.0,238.0 L257.0,238.1 L258.0,238.2 L259.0,238.1 L260.0,238.4 L261.0,238.4 L262.0,238.7 L263.0,238.5 L264.0,238.4 L265.0,238.7 L266.0,238.8 L267.0,238.6 L268.0,238.5 L269.0,238.5 L270.0,238.6 L271.0,238.9 L272.0,238.9 L272.9,235.4 L273.9,230.3 L274.8,227.8 L275.8,229.1 L276.7,229.7 L277.4,228.9 L278.2,228.2 L279.2,229.4 L280.3,232.5 L281.3,235.8 L282.4,237.5 L283.3,238.1 L284.3,238.1 L285.2,238.2 L286.2,238.4 L287.1,238.5 L288.1,238.5 L289.1,238.6 L290.0,239.0 L291.0,239.2 L292.0,239.6 L293.0,239.6 L294.0,239.5 L295.0,239.2 L296.0,239.0 L297.0,239.5 L298.0,240.0 L299.0,239.4 L300.0,238.9 L301.0,239.1 L302.0,239.4 L303.0,239.8 L304.0,240.1 L305.0,240.3 L306.0,240.2 L306.9,239.8 L307.9,239.5 L308.9,239.1 L309.9,239.3 L310.9,239.8 L311.9,239.9 L312.9,239.8 L313.9,239.5 L314.9,239.2 L315.9,239.5 L316.9,239.8 L317.9,240.3 L318.9,240.6 L319.9,239.9 L320.9,239.4 L321.9,239.5 L322.9,239.6 L323.9,239.6 L324.9,239.9 L325.9,240.5 L326.9,240.6 L327.9,240.1 L328.9,240.2 L329.9,240.5 L330.9,240.7 L331.9,240.7 L332.9,240.2 L333.9,239.7 L334.9,239.9 L335.9,240.3 L336.9,240.1 L337.9,239.9 L338.9,240.5 L339.9,241.0 L340.8,240.7 L341.8,240.5 L342.8,240.4 L343.8,240.4 L344.8,240.9 L345.8,241.1 L346.8,241.1 L347.8,240.8 L348.8,240.1 L349.8,239.9 L350.8,239.9 L351.8,240.0 L352.8,240.3 L353.8,240.3 L354.8,240.3 L355.8,240.4 L356.8,240.6 L357.8,238.9 L358.9,235.2 L359.9,231.0 L360.9,226.6 L361.9,222.2 L363.0,217.6 L364.0,215.4 L365.0,217.5 L366.0,221.1 L367.0,224.3 L368.0,226.4 L369.1,229.0 L370.1,231.3 L371.1,232.4 L372.1,232.9 L373.1,234.1 L374.2,234.9 L375.2,235.0 L376.2,235.4 L377.2,235.8 L378.2,235.5 L379.3,234.5 L380.3,234.1 L381.3,233.7 L382.3,232.8 L383.4,230.8 L384.4,229.3 L385.4,228.2 L386.3,226.7 L387.1,225.4 L388.0,224.7 L388.9,224.5 L389.8,225.9 L390.8,228.4 L391.7,231.2 L392.6,232.7 L393.6,233.9 L394.6,234.7 L395.7,235.0 L396.7,235.3 L397.7,234.9 L398.7,234.9 L399.8,234.5 L400.8,234.3 L401.8,234.6 L402.8,233.6 L403.9,230.5 L404.9,228.1 L405.9,227.5 L406.9,228.2 L407.9,229.4 L409.0,231.6 L410.0,233.4 L411.0,234.0 L412.0,234.6 L413.1,234.7 L414.1,234.7 L415.1,234.8 L416.1,235.3 L417.1,235.7 L418.1,235.5 L419.1,234.5 L420.2,233.7 L421.2,233.0 L422.2,233.4 L423.1,233.5 L424.0,233.6 L424.9,233.6 L425.9,233.2 L426.8,232.7 L427.7,232.4 L428.9,232.7 L430.0,234.3 L431.0,234.6 L432.1,234.9 L433.1,235.0 L434.2,234.8 L435.2,234.8 L436.2,235.0 L437.3,235.3 L438.3,235.7 L439.4,235.8 L440.4,235.6 L441.4,236.0 L442.4,236.2 L443.5,236.4 L444.5,236.4 L445.5,236.1 L446.5,236.2 L447.6,236.7 L448.6,236.4 L449.6,235.7 L450.6,235.8 L451.7,236.3 L452.7,236.5 L453.7,236.7 L454.8,237.0 L455.8,237.2 L456.8,236.8 L457.8,236.5 L458.8,236.5 L459.9,236.7 L460.9,236.8 L461.9,237.0 L462.9,236.6 L464.0,236.1 L465.0,235.6 L466.0,235.7 L467.0,235.8 L468.0,235.5 L469.1,235.2 L470.1,235.3 L471.1,235.4 L472.1,235.3 L473.1,234.8 L474.2,233.9 L475.2,233.5 L476.2,233.6 L477.2,233.9 L478.2,234.3 L479.3,234.2 L480.3,234.0 L481.3,233.7 L482.3,233.9 L483.4,233.6 L484.4,233.5 L485.4,234.1 L486.4,234.5 L487.4,234.5 L488.5,234.5 L489.5,234.6 L490.5,234.5 L491.6,234.3 L492.6,234.4 L493.6,234.6 L494.6,234.2 L495.6,233.8 L496.7,233.8 L497.7,234.2 L498.7,233.5 L499.8,233.1 L500.8,232.4 L501.8,231.9 L502.8,231.6 L503.8,231.3 L504.9,231.3 L505.9,230.6 L506.9,233.1 L507.9,235.6 L508.9,234.9 L510.0,232.9 L511.0,231.6 L512.0,232.9 L513.0,234.2 L514.0,234.5 L515.0,232.7 L516.1,231.4 L517.1,233.7 L518.1,235.8 L519.2,235.6 L520.2,234.6 L521.3,234.4" fill="none" stroke="#2f4a88" stroke-width="0.8" stroke-linejoin="round"/><path d="M66.2,222.7 L67.2,222.6 L68.2,222.2 L69.2,222.7 L70.2,223.1 L71.2,223.3 L72.2,223.2 L73.2,222.6 L74.2,222.3 L75.2,222.8 L76.2,222.9 L77.2,222.5 L78.2,222.2 L79.2,222.0 L80.2,222.1 L81.2,222.3 L82.2,222.7 L83.2,223.1 L84.2,222.7 L85.2,222.1 L86.2,222.6 L87.2,223.1 L88.1,222.8 L89.1,222.5 L90.1,222.3 L91.1,222.3 L92.1,222.6 L93.1,222.8 L94.1,222.7 L95.1,222.8 L96.1,222.9 L97.1,223.1 L98.1,223.6 L99.1,223.8 L100.1,223.9 L101.1,223.4 L102.1,222.7 L103.1,223.2 L104.1,224.0 L105.1,223.8 L106.1,223.4 L107.1,223.8 L108.1,224.1 L109.1,224.0 L110.1,223.8 L111.1,223.5 L112.1,223.3 L113.1,223.0 L114.1,223.1 L115.1,223.8 L116.1,224.3 L117.1,224.3 L118.1,224.2 L119.1,223.8 L120.1,223.3 L121.1,222.8 L122.1,223.3 L123.1,224.0 L124.1,224.1 L125.1,224.0 L126.1,224.2 L127.1,224.3 L128.1,224.4 L129.1,224.5 L130.0,224.5 L131.0,224.5 L132.0,224.2 L133.0,224.0 L134.0,223.6 L135.0,223.5 L136.0,223.6 L137.0,223.7 L138.0,223.7 L139.0,223.8 L140.0,224.1 L141.0,224.1 L142.0,224.0 L143.0,224.1 L144.0,224.3 L145.0,224.0 L146.0,223.7 L147.0,223.8 L148.0,223.9 L149.0,224.3 L150.0,224.1 L151.0,224.4 L152.0,224.3 L153.0,224.5 L154.0,224.5 L155.0,224.2 L156.0,223.8 L157.0,223.2 L158.0,223.1 L159.0,223.4 L160.0,223.4 L161.0,223.3 L162.0,223.3 L163.0,223.2 L164.0,223.1 L165.0,223.0 L166.0,222.9 L167.0,223.0 L168.0,223.4 L169.0,223.7 L170.0,224.0 L171.0,224.3 L172.0,224.4 L173.0,224.5 L174.0,224.6 L175.0,224.4 L176.0,224.0 L177.0,223.5 L178.0,222.9 L179.0,222.9 L180.0,223.0 L181.0,223.0 L182.0,222.8 L183.0,223.6 L184.0,224.4 L185.0,223.9 L186.0,223.4 L187.0,223.8 L188.0,224.1 L189.0,223.8 L190.0,223.6 L191.0,223.8 L192.0,224.0 L193.0,224.3 L194.0,224.3 L195.0,224.1 L196.0,223.6 L197.0,223.4 L198.0,223.0 L199.0,223.0 L200.0,222.0 L201.0,220.7 L202.0,220.1 L203.0,219.8 L204.0,217.8 L204.9,215.7 L205.9,214.6 L206.9,214.5 L207.9,215.6 L208.9,217.3 L210.0,218.0 L211.0,218.3 L212.0,217.5 L213.0,217.2 L213.9,217.3 L214.9,217.2 L215.9,216.6 L216.9,217.4 L217.9,218.0 L219.0,218.9 L220.0,219.7 L221.0,220.4 L222.0,221.5 L223.0,221.3 L224.0,221.1 L225.0,221.3 L226.0,221.5 L227.0,221.5 L228.0,221.8 L229.0,222.8 L230.0,222.8 L231.0,222.4 L232.0,222.1 L233.0,222.0 L234.0,222.2 L235.1,222.5 L236.1,222.8 L237.1,223.2 L238.1,223.6 L239.1,224.0 L240.1,223.2 L241.1,222.5 L242.1,223.0 L243.1,223.3 L244.1,222.9 L245.2,222.9 L246.2,223.6 L247.2,223.8 L248.2,223.4 L249.2,223.4 L250.2,223.6 L251.2,223.9 L252.2,224.0 L253.2,223.8 L254.2,223.5 L255.2,223.5 L256.3,223.4 L257.3,222.9 L258.3,222.6 L259.3,222.8 L260.3,223.1 L261.3,223.7 L262.3,224.0 L263.3,224.1 L264.3,224.1 L265.4,223.9 L266.4,223.5 L267.4,222.9 L268.4,223.4 L269.4,224.1 L270.4,224.3 L271.4,224.5 L272.4,224.5 L273.4,224.5 L274.4,224.4 L275.4,224.3 L276.5,224.2 L277.5,224.0 L278.5,223.7 L279.5,223.5 L280.5,223.7 L281.5,221.0 L282.4,216.2 L283.4,214.2 L284.3,214.6 L285.3,215.0 L286.2,215.3 L287.2,216.2 L288.1,217.9 L289.1,219.1 L290.1,219.9 L291.0,220.9 L291.9,221.9 L292.9,222.7 L293.9,222.3 L294.9,222.6 L295.9,223.0 L297.0,223.6 L298.0,224.2 L299.0,224.4 L300.0,224.1 L301.0,224.6 L302.0,224.5 L303.0,223.6 L304.0,223.1 L305.0,223.8 L306.0,224.2 L307.0,224.1 L308.0,223.9 L309.0,223.7 L310.0,224.0 L311.0,224.6 L312.0,224.6 L313.0,224.4 L314.0,224.0 L315.0,223.7 L316.0,224.1 L317.0,224.7 L318.0,224.3 L319.0,223.9 L320.0,224.0 L321.0,224.0 L322.0,224.0 L323.0,224.0 L324.0,224.0 L325.0,223.9 L326.0,223.4 L327.0,223.6 L328.0,224.4 L329.0,224.4 L330.0,223.9 L331.0,223.9 L332.0,224.0 L333.0,223.8 L334.0,223.6 L335.0,223.9 L336.0,224.3 L337.0,223.8 L338.0,223.3 L339.0,223.3 L340.0,223.3 L341.0,223.5 L342.0,223.9 L343.0,224.6 L344.0,224.9 L345.0,224.7 L346.0,224.6 L347.0,224.7 L348.0,224.3 L349.0,223.6 L350.0,223.7 L351.0,224.1 L352.0,224.4 L353.0,224.7 L354.0,224.8 L355.0,224.8 L356.0,224.5 L357.0,224.1 L358.0,223.8 L359.0,223.5 L360.0,223.8 L361.0,224.2 L362.0,224.8 L363.0,225.2 L364.0,225.1 L365.0,224.9 L366.0,224.6 L367.0,224.3 L367.9,223.4 L368.9,221.8 L369.9,219.8 L370.8,217.7 L371.8,215.9 L372.7,215.1 L373.8,215.8 L374.9,218.0 L376.1,220.1 L377.2,220.3 L378.2,219.6 L379.2,218.1 L380.3,217.2 L381.3,217.2 L382.3,217.6 L383.2,217.9 L384.2,217.8 L385.1,217.6 L386.1,218.1 L387.0,218.8 L388.0,219.2 L389.0,219.6 L389.9,218.7 L390.9,217.3 L391.9,216.0 L392.8,214.7 L393.8,213.3 L394.8,212.0 L395.7,211.2 L396.7,210.9 L397.7,211.8 L398.7,213.2 L399.8,213.6 L400.8,214.0 L401.8,215.0 L402.8,215.2 L403.9,215.1 L404.9,215.3 L405.9,216.0 L406.9,216.5 L407.9,216.8 L409.0,217.1 L410.0,217.3 L411.0,218.2 L412.0,219.1 L413.1,219.1 L414.1,219.1 L415.1,219.5 L416.1,220.0 L417.1,219.6 L418.1,219.3 L419.1,218.6 L420.2,218.4 L421.2,218.5 L422.2,217.8 L423.2,217.4 L424.1,217.7 L425.1,218.3 L426.1,219.2 L427.1,220.2 L428.1,220.1 L429.0,219.8 L430.0,220.1 L431.0,220.3 L432.0,220.4 L433.0,220.5 L434.0,220.5 L435.0,220.5 L436.0,220.6 L437.0,220.9 L438.0,221.5 L439.0,221.5 L440.0,221.0 L441.0,220.3 L442.0,220.3 L443.0,220.8 L444.0,221.6 L445.0,221.8 L446.0,221.7 L447.0,221.4 L448.0,221.1 L449.0,221.1 L450.0,221.2 L451.0,221.2 L452.0,221.1 L453.0,220.9 L454.0,220.8 L455.0,220.9 L456.0,221.0 L457.0,221.0 L458.0,221.0 L459.0,221.3 L460.0,221.2 L461.0,221.0 L462.0,221.0 L463.0,221.3 L464.0,221.0 L465.0,220.4 L466.0,221.1 L467.0,222.1 L468.0,221.3 L469.0,220.2 L470.0,220.7 L471.0,221.1 L472.0,221.0 L473.0,220.9 L474.0,220.6 L475.0,220.7 L476.0,221.6 L477.0,221.9 L478.0,221.4 L479.0,221.0 L480.0,221.0 L481.0,220.7 L482.0,220.8 L483.0,220.7 L484.0,220.6 L485.0,220.8 L486.0,221.1 L487.0,221.6 L488.0,222.0 L489.0,221.9 L490.0,221.7 L491.0,220.9 L492.0,220.3 L493.0,220.7 L494.0,221.0 L495.0,220.7 L496.0,220.6 L497.0,220.7 L498.0,220.4 L499.0,219.7 L500.0,219.7 L501.0,218.8 L501.9,218.0 L502.9,217.3 L503.8,217.2 L504.8,217.3 L505.8,217.6 L506.9,217.3 L507.9,218.1 L509.0,218.8 L510.0,219.8 L511.0,219.2 L512.0,217.5 L513.0,215.9 L514.0,215.8 L515.0,216.7 L516.0,219.5 L517.0,221.6 L518.0,221.9 L519.0,220.7 L520.0,219.4 L521.0,218.2 L522.0,220.0 L523.0,222.1 L524.0,223.0 L525.0,221.9 L526.0,219.9 L527.0,218.9 L528.0,219.9 L529.0,222.7" fill="none" stroke="#2f8f6a" stroke-width="0.8" stroke-linejoin="round"/><path d="M69.4,209.7 L70.4,209.9 L71.3,209.8 L72.3,208.6 L73.3,207.5 L74.2,208.1 L75.2,208.7 L76.1,208.3 L77.1,207.9 L78.1,206.9 L79.0,206.3 L80.0,207.0 L81.0,207.6 L82.0,207.6 L83.0,207.4 L84.0,206.8 L85.0,206.7 L86.0,207.6 L87.0,207.7 L88.0,207.0 L89.0,206.8 L90.0,206.9 L91.0,207.1 L92.0,207.3 L93.0,207.4 L94.0,207.5 L95.0,207.6 L96.0,207.6 L97.0,207.1 L98.0,206.7 L99.0,207.0 L100.0,207.1 L101.0,206.7 L102.0,206.6 L103.0,206.7 L104.0,206.9 L105.0,207.2 L106.0,207.1 L107.0,206.7 L108.0,206.7 L109.0,207.0 L110.0,207.4 L111.0,207.9 L112.0,207.5 L113.0,206.9 L114.0,207.1 L115.0,207.4 L116.0,207.0 L117.0,206.7 L118.0,207.4 L119.0,207.9 L120.0,207.3 L121.0,206.9 L122.0,207.0 L123.0,207.3 L124.0,207.9 L125.0,208.0 L126.0,207.7 L127.0,207.7 L128.0,207.8 L129.0,207.9 L130.0,208.0 L131.0,207.9 L132.0,207.8 L133.0,207.8 L134.0,207.7 L135.0,207.4 L136.0,207.2 L137.0,207.2 L138.0,207.2 L139.0,207.3 L140.0,207.4 L141.0,207.4 L142.0,207.5 L143.0,207.6 L144.0,207.9 L145.0,208.5 L146.0,208.3 L147.0,207.6 L148.0,207.4 L149.0,207.3 L150.0,207.8 L151.0,207.5 L152.0,207.4 L153.0,207.3 L154.0,208.0 L155.0,208.7 L156.0,208.8 L157.0,208.9 L158.0,208.7 L159.0,208.6 L160.0,208.8 L161.0,208.7 L162.0,208.3 L163.0,208.0 L164.0,207.9 L165.0,207.9 L166.0,207.8 L167.0,208.0 L168.0,208.2 L169.0,208.0 L170.0,207.5 L171.0,207.7 L172.0,208.0 L173.0,207.9 L174.0,207.8 L175.0,208.1 L176.0,208.4 L177.0,208.6 L178.0,208.7 L179.0,208.5 L180.0,208.1 L181.0,207.6 L182.0,207.5 L183.0,208.0 L184.0,208.3 L185.0,208.4 L186.0,208.3 L187.0,208.1 L188.0,207.7 L189.0,207.2 L190.0,207.2 L191.0,207.2 L192.0,207.7 L193.0,208.1 L194.0,208.3 L195.0,208.4 L196.0,208.2 L197.0,208.1 L198.0,208.3 L199.0,208.4 L200.0,208.2 L201.0,208.2 L202.0,208.5 L203.0,208.3 L204.0,207.6 L205.0,207.9 L206.0,208.5 L207.0,208.6 L208.0,208.2 L209.0,206.6 L210.0,204.7 L211.1,203.2 L212.2,202.3 L213.4,201.7 L214.5,201.8 L215.5,202.6 L216.4,203.5 L217.4,204.4 L218.3,204.8 L219.3,205.0 L220.4,204.7 L221.4,204.7 L222.4,203.5 L223.5,203.1 L224.6,203.8 L225.7,204.6 L226.8,204.8 L227.8,205.4 L228.9,205.9 L230.0,206.8 L231.0,206.7 L232.0,206.9 L233.0,207.0 L234.0,207.0 L235.0,207.1 L236.0,207.2 L237.0,207.1 L238.0,206.7 L239.0,206.6 L240.0,206.8 L241.0,206.7 L242.0,206.5 L243.0,207.2 L244.0,208.2 L245.0,208.0 L246.0,207.5 L247.0,207.3 L248.0,207.1 L249.0,207.0 L250.0,207.0 L251.0,207.4 L252.0,207.7 L253.0,207.1 L254.0,206.7 L255.0,206.9 L256.0,207.2 L257.0,207.8 L258.0,208.0 L259.0,207.9 L260.0,207.9 L261.0,208.2 L262.0,208.3 L263.0,208.5 L264.0,208.1 L265.0,207.6 L266.0,207.9 L267.0,208.4 L268.0,208.5 L269.0,208.5 L270.0,208.6 L271.0,208.5 L272.0,208.2 L273.0,208.1 L274.0,208.3 L275.0,208.2 L276.0,207.4 L277.0,207.1 L278.0,207.3 L279.0,207.6 L280.0,208.0 L281.0,208.1 L282.0,208.1 L283.0,208.2 L284.0,208.2 L285.0,208.0 L286.0,207.9 L287.0,206.4 L288.0,204.0 L289.0,202.8 L290.0,201.3 L291.0,200.8 L292.0,201.0 L293.0,202.0 L294.0,201.9 L295.0,201.4 L295.9,201.9 L296.8,204.0 L297.8,206.1 L298.7,207.5 L299.6,208.0 L300.6,207.9 L301.6,207.9 L302.6,208.1 L303.6,208.4 L304.6,208.7 L305.6,208.4 L306.6,207.8 L307.6,207.5 L308.6,207.2 L309.6,207.8 L310.6,208.6 L311.6,208.2 L312.6,207.6 L313.6,208.2 L314.6,208.7 L315.6,208.3 L316.6,207.9 L317.6,207.9 L318.6,207.9 L319.6,208.4 L320.6,208.4 L321.6,207.6 L322.6,207.6 L323.6,208.4 L324.6,208.4 L325.6,207.7 L326.6,207.9 L327.6,208.4 L328.6,208.7 L329.6,208.9 L330.6,208.8 L331.6,208.7 L332.6,208.2 L333.6,207.7 L334.6,208.4 L335.6,208.8 L336.6,208.4 L337.6,208.0 L338.6,207.7 L339.6,207.6 L340.6,207.7 L341.6,207.6 L342.6,207.3 L343.6,207.5 L344.5,208.0 L345.5,208.1 L346.5,207.9 L347.5,208.0 L348.5,208.1 L349.5,208.4 L350.5,208.7 L351.5,208.3 L352.5,207.8 L353.5,207.4 L354.5,207.1 L355.5,207.7 L356.5,208.0 L357.5,207.5 L358.5,207.3 L359.5,207.8 L360.5,208.1 L361.5,208.1 L362.5,208.0 L363.5,207.9 L364.5,208.0 L365.5,208.2 L366.5,207.8 L367.5,207.2 L368.5,207.3 L369.5,207.6 L370.5,207.5 L371.5,207.3 L372.5,207.4 L373.5,207.3 L374.5,207.2 L375.5,207.2 L376.5,207.3 L377.5,207.6 L378.5,208.2 L379.5,208.7 L380.5,208.8 L381.5,208.7 L382.5,208.3 L383.5,208.2 L384.5,208.4 L385.5,207.9 L386.5,207.1 L387.5,207.6 L388.4,207.4 L389.2,207.5 L390.1,207.5 L391.0,207.2 L392.0,207.5 L393.0,206.9 L394.0,205.8 L395.0,206.0 L396.0,206.3 L397.0,206.7 L398.0,206.5 L399.0,205.4 L400.0,204.7 L401.0,204.1 L402.0,203.9 L403.0,204.0 L404.0,203.9 L405.0,203.0 L406.0,202.7 L407.0,202.7 L408.0,203.0 L409.0,203.7 L410.0,203.9 L411.0,204.0 L412.0,204.0 L413.0,204.0 L414.0,203.4 L415.0,202.6 L416.0,202.7 L417.0,202.4 L418.1,201.6 L419.1,200.9 L420.2,201.3 L421.2,201.1 L422.1,202.0 L423.1,203.0 L424.1,204.1 L425.0,204.3 L426.0,204.3 L427.0,204.3 L428.0,204.8 L429.0,205.5 L430.0,206.0 L431.0,206.3 L432.1,205.9 L433.1,206.2 L434.2,206.6 L435.2,206.4 L436.2,206.1 L437.3,205.4 L438.3,205.0 L439.4,205.1 L440.4,205.7 L441.4,206.1 L442.4,206.1 L443.4,205.6 L444.4,205.5 L445.3,205.6 L446.3,205.8 L447.3,206.0 L448.3,205.6 L449.3,204.9 L450.3,204.9 L451.3,204.9 L452.3,205.3 L453.3,205.6 L454.3,205.1 L455.2,204.7 L456.2,205.0 L457.2,205.3 L458.2,205.3 L459.2,205.2 L460.2,204.8 L461.2,204.6 L462.2,204.6 L463.2,204.9 L464.2,205.5 L465.1,205.8 L466.1,205.7 L467.1,205.5 L468.1,205.2 L469.1,205.1 L470.1,205.1 L471.1,205.4 L472.1,205.9 L473.1,205.5 L474.1,205.0 L475.1,204.7 L476.0,204.4 L477.0,204.7 L478.0,205.0 L479.0,205.0 L480.0,205.0 L481.0,205.1 L482.0,205.0 L483.0,204.8 L484.0,204.8 L485.0,204.9 L486.0,204.8 L487.0,204.3 L488.0,204.5 L489.0,205.1 L490.0,205.5 L491.0,205.7 L492.0,205.6 L493.0,205.5 L494.0,205.6 L495.0,205.7 L496.0,205.8 L497.0,205.9 L498.0,205.4 L499.0,205.0 L500.0,205.0 L501.0,204.9 L502.0,205.2 L503.0,205.0 L504.0,204.4 L505.0,204.0 L506.0,203.9 L507.0,204.0 L508.0,204.2 L509.0,203.8 L510.0,203.7 L511.0,204.0 L512.0,205.2 L513.0,205.6 L514.0,205.8 L515.0,205.2 L516.0,205.0 L517.1,205.1 L518.1,205.1 L519.2,204.8 L520.2,204.6 L521.3,204.7 L522.3,204.7 L523.2,203.4 L524.1,202.1 L525.0,201.8 L526.0,201.9 L527.0,202.5 L528.0,203.5 L529.0,204.5 L530.0,205.0 L530.9,205.2 L531.9,205.2 L532.8,205.1 L533.7,204.3 L534.7,203.3 L535.6,203.6 L536.4,203.5 L537.2,204.6" fill="none" stroke="#c8343c" stroke-width="0.8" stroke-linejoin="round"/><path d="M76.6,193.5 L77.6,193.5 L78.6,193.8 L79.7,194.2 L80.7,194.3 L81.7,193.9 L82.7,193.6 L83.7,193.3 L84.7,193.1 L85.8,192.8 L86.8,192.5 L87.8,192.3 L88.8,192.9 L89.8,193.8 L90.8,193.6 L91.9,193.2 L92.9,192.6 L93.9,192.2 L94.9,192.5 L95.9,192.8 L96.9,192.9 L98.0,193.0 L99.0,193.2 L100.0,192.7 L101.0,192.3 L102.0,192.1 L103.0,192.1 L104.0,192.0 L105.0,191.9 L106.0,192.3 L107.0,192.7 L108.0,193.0 L109.0,193.3 L110.0,193.2 L111.0,192.9 L112.0,192.3 L113.0,191.9 L114.0,192.2 L115.0,192.2 L116.0,191.9 L117.0,191.8 L118.0,191.9 L119.0,192.1 L120.0,192.5 L121.0,192.3 L122.0,192.0 L123.0,192.0 L124.0,192.2 L125.0,192.2 L126.0,192.1 L127.0,192.3 L128.0,192.6 L129.0,193.0 L130.0,193.3 L131.0,192.6 L132.0,192.3 L133.0,192.7 L134.0,192.9 L135.0,192.7 L136.0,192.5 L137.0,192.4 L138.0,192.4 L139.0,192.4 L140.0,192.8 L141.0,193.3 L142.0,193.4 L143.0,193.5 L144.0,193.4 L145.0,193.3 L146.0,193.5 L147.0,193.6 L148.0,193.5 L149.0,193.3 L150.0,192.8 L151.0,192.5 L152.0,192.4 L153.0,192.5 L154.0,192.9 L155.0,193.1 L156.0,193.2 L157.0,193.3 L158.0,193.5 L159.0,193.6 L160.0,193.8 L161.0,193.7 L162.0,193.6 L163.0,193.8 L164.0,193.9 L165.0,193.6 L166.0,193.3 L167.0,193.4 L168.0,193.2 L169.0,193.5 L170.0,193.5 L171.0,193.2 L172.0,193.1 L173.0,193.4 L174.0,193.6 L175.0,193.7 L176.0,193.5 L176.9,193.1 L177.9,192.9 L178.9,192.7 L179.9,192.7 L180.9,192.7 L181.9,192.9 L182.9,193.2 L183.9,193.1 L184.9,193.1 L185.9,193.0 L186.9,192.9 L187.9,192.8 L188.9,192.7 L189.9,193.1 L190.9,193.4 L191.9,193.3 L192.8,193.3 L193.8,193.6 L194.8,193.7 L195.8,193.7 L196.8,193.2 L197.8,192.2 L198.8,192.1 L199.8,192.5 L200.8,192.8 L201.8,193.2 L202.8,193.1 L203.8,192.8 L204.8,192.9 L205.8,192.9 L206.8,192.6 L207.8,192.2 L208.7,192.3 L209.7,192.5 L210.7,193.0 L211.7,193.3 L212.7,193.1 L213.7,193.0 L214.7,193.2 L215.7,193.3 L216.7,192.8 L217.7,191.8 L218.6,188.9 L219.6,186.5 L220.5,186.5 L221.5,186.2 L222.4,185.6 L223.4,186.4 L224.3,187.1 L225.3,188.0 L226.2,188.7 L227.2,188.4 L228.2,188.0 L229.3,187.3 L230.3,186.8 L231.4,186.7 L232.5,187.1 L233.5,188.4 L234.6,189.9 L235.6,191.2 L236.7,191.3 L237.7,191.7 L238.8,191.7 L239.8,191.7 L240.8,191.5 L241.9,191.3 L242.9,191.5 L243.9,191.7 L245.0,191.7 L246.0,192.2 L247.0,191.7 L248.0,191.7 L249.0,191.6 L250.0,191.7 L251.0,192.1 L252.0,192.2 L253.0,192.1 L254.0,192.6 L255.0,193.3 L256.0,192.7 L257.0,191.9 L258.0,191.7 L259.0,191.7 L260.0,192.5 L261.0,193.3 L262.0,193.3 L263.0,193.3 L264.0,192.8 L265.0,192.5 L266.0,192.6 L267.0,192.5 L268.0,192.3 L269.0,192.2 L270.0,192.3 L271.0,192.2 L272.0,192.1 L273.0,191.9 L274.0,191.7 L275.0,192.4 L276.0,193.4 L277.0,193.3 L278.0,193.2 L279.0,193.2 L280.0,193.2 L281.0,192.4 L282.0,191.9 L283.0,192.4 L284.0,192.6 L285.0,192.0 L286.0,191.9 L287.0,192.6 L288.0,192.6 L289.0,191.9 L290.0,192.0 L291.0,192.5 L292.0,192.4 L293.0,191.9 L294.0,192.5 L295.0,192.8 L295.9,192.4 L296.8,190.1 L297.7,187.5 L298.6,186.0 L299.7,186.6 L300.9,187.9 L302.0,188.3 L303.0,189.5 L304.0,190.4 L305.0,191.6 L306.0,192.6 L307.0,193.2 L308.0,193.2 L309.0,192.9 L310.0,192.2 L311.0,192.3 L312.0,192.7 L313.0,192.5 L314.0,192.1 L315.0,191.8 L316.0,191.5 L317.0,191.9 L318.0,192.3 L319.0,191.9 L320.0,191.8 L321.0,192.5 L322.0,193.0 L323.0,192.8 L324.0,192.5 L325.0,192.0 L326.0,191.9 L327.0,192.0 L328.0,191.8 L329.0,191.5 L330.0,191.5 L331.0,191.8 L332.0,192.1 L333.0,192.3 L334.0,192.5 L335.0,192.8 L336.0,192.9 L337.0,192.9 L338.0,192.6 L339.0,192.2 L340.0,192.0 L341.0,192.0 L342.0,192.4 L343.0,192.5 L344.0,192.2 L345.0,192.1 L346.0,192.4 L347.0,192.1 L348.0,191.6 L349.0,191.9 L350.0,192.4 L351.0,191.9 L352.0,191.1 L353.0,191.2 L354.0,191.4 L355.0,191.2 L356.0,191.1 L357.0,191.2 L358.0,191.4 L359.0,191.6 L360.0,191.8 L361.0,192.2 L362.0,192.0 L363.0,191.0 L364.0,190.8 L365.0,191.4 L366.0,191.3 L367.0,190.9 L368.0,191.3 L369.0,191.9 L370.0,191.9 L371.0,191.8 L372.0,192.0 L373.0,192.3 L374.0,192.3 L375.0,192.2 L376.0,191.9 L377.0,191.5 L378.0,191.1 L379.0,191.0 L380.0,191.4 L381.0,191.6 L382.0,191.4 L383.0,191.1 L384.0,191.0 L385.0,190.8 L386.0,190.7 L387.0,191.2 L388.0,192.1 L389.0,191.9 L390.0,191.5 L391.0,191.2 L392.0,191.0 L393.0,191.1 L394.0,191.3 L395.0,191.6 L396.0,191.3 L397.0,191.5 L398.0,192.0 L399.0,193.0 L400.0,193.3 L401.0,193.1 L402.0,192.5 L403.0,191.8 L404.0,191.0 L405.0,190.6 L406.0,189.0 L407.0,186.9 L408.0,185.7 L409.0,184.9 L410.0,184.3 L411.0,183.5 L412.0,182.0 L413.0,180.7 L413.8,177.1 L414.5,174.8 L415.2,177.8 L416.0,181.2 L417.0,182.5 L418.0,182.9 L419.0,183.1 L420.0,183.5 L421.0,184.7 L422.0,186.1 L423.0,186.9 L424.0,185.8 L425.0,185.0 L426.0,185.3 L427.0,186.8 L428.0,188.0 L429.0,186.7 L430.0,185.5 L431.0,183.8 L432.0,183.6 L433.0,184.4 L434.0,186.8 L435.0,188.4 L436.0,189.8 L437.0,189.8 L438.0,190.2 L439.0,189.5 L440.0,189.7 L441.0,189.6 L442.0,189.5 L443.0,189.2 L444.0,189.2 L445.0,189.4 L446.0,189.5 L447.0,189.7 L448.0,189.3 L449.0,188.9 L450.0,189.3 L451.0,189.3 L452.0,189.0 L453.0,188.8 L454.0,189.2 L455.0,189.4 L456.0,189.0 L457.0,188.9 L458.0,189.1 L459.0,189.2 L460.0,189.3 L461.0,189.3 L462.0,189.2 L463.0,189.3 L464.0,189.6 L465.0,189.9 L466.0,190.3 L467.0,190.0 L468.0,189.7 L469.0,190.1 L470.0,190.5 L471.0,189.8 L472.0,189.3 L473.0,189.9 L474.0,190.4 L475.0,190.5 L476.0,190.7 L477.0,190.8 L478.0,190.8 L479.0,190.5 L480.0,190.1 L481.0,189.7 L482.0,189.9 L483.0,190.2 L484.0,190.2 L485.0,190.0 L485.9,189.7 L486.9,189.4 L487.9,189.4 L488.9,189.5 L489.9,188.8 L490.9,188.1 L491.9,187.9 L492.9,187.8 L493.9,187.8 L494.9,188.0 L495.9,188.6 L496.8,188.6 L497.8,187.5 L498.8,187.0 L499.8,187.1 L500.8,187.4 L501.8,187.6 L502.8,188.0 L503.9,188.0 L504.9,187.6 L505.9,187.0 L506.9,187.0 L507.9,187.0 L509.0,187.3 L510.0,187.5 L511.0,186.7 L512.0,186.1 L513.1,185.9 L514.1,185.8 L515.1,185.9 L516.1,186.2 L517.2,186.6 L518.2,186.3 L519.2,185.8 L520.2,185.9 L521.3,186.0 L522.3,185.6 L523.2,185.0 L524.2,185.6 L525.1,186.1 L526.1,186.1 L527.0,186.1 L528.0,185.9 L528.9,185.6 L529.9,184.8 L530.8,184.3 L531.8,184.9 L532.8,186.6 L533.7,187.0 L534.8,187.4 L535.8,186.7 L536.9,186.4 L537.9,186.6 L539.0,186.6 L540.0,186.7 L541.0,186.8 L542.1,187.6 L543.2,188.7 L544.2,189.4" fill="none" stroke="#f8c14a" stroke-width="0.8" stroke-linejoin="round"/><path d="M85.0,176.3 L86.0,176.5 L87.0,177.0 L88.0,176.9 L89.0,176.7 L90.0,176.1 L91.0,175.5 L92.0,175.3 L93.0,175.1 L94.0,174.8 L95.0,174.6 L96.0,174.4 L97.0,174.4 L98.0,174.4 L99.0,174.4 L100.0,174.8 L101.0,175.0 L102.0,175.6 L103.0,175.1 L104.0,174.4 L105.0,174.4 L106.0,174.5 L107.0,175.3 L108.0,175.9 L109.0,175.9 L110.0,175.6 L111.0,174.8 L112.0,174.3 L113.0,174.6 L114.0,175.1 L115.0,175.8 L116.0,175.7 L117.0,175.1 L118.0,175.1 L119.0,175.3 L120.0,175.4 L121.0,175.5 L122.0,175.5 L123.0,175.5 L124.0,174.8 L125.0,174.4 L126.0,175.1 L127.0,175.7 L128.0,175.8 L129.0,175.7 L130.0,175.4 L131.0,175.1 L132.0,175.0 L133.0,175.2 L134.0,175.6 L135.0,175.9 L136.0,176.2 L137.0,176.3 L138.0,176.3 L139.0,175.6 L140.0,174.9 L141.0,175.3 L142.0,175.9 L143.0,175.7 L144.0,175.5 L145.0,176.0 L146.0,176.4 L147.0,176.4 L148.0,176.3 L149.0,175.8 L150.0,175.6 L151.0,176.1 L152.0,176.3 L153.0,176.3 L154.0,175.8 L155.0,175.0 L156.0,175.0 L157.0,175.3 L158.0,175.9 L159.0,176.5 L160.1,175.8 L161.1,175.1 L162.1,175.3 L163.1,175.6 L164.1,175.8 L165.1,175.9 L166.1,175.6 L167.1,175.6 L168.1,176.1 L169.1,176.0 L170.1,175.4 L171.1,175.4 L172.1,175.9 L173.1,176.0 L174.1,175.9 L175.1,175.5 L176.1,174.9 L177.1,175.7 L178.2,176.5 L179.2,176.5 L180.2,176.5 L181.2,176.6 L182.2,176.4 L183.2,175.8 L184.2,175.5 L185.2,175.9 L186.2,175.9 L187.2,175.5 L188.2,175.7 L189.2,176.3 L190.2,176.4 L191.2,176.3 L192.2,176.5 L193.2,176.8 L194.2,176.1 L195.2,175.4 L196.3,175.5 L197.3,175.6 L198.3,175.4 L199.3,175.5 L200.3,176.5 L201.3,176.9 L202.3,176.6 L203.3,176.2 L204.3,175.7 L205.3,175.9 L206.3,176.5 L207.3,176.5 L208.3,176.2 L209.3,176.1 L210.3,176.1 L211.3,176.4 L212.3,176.8 L213.3,176.8 L214.4,176.7 L215.4,176.4 L216.4,176.2 L217.4,176.0 L218.4,175.9 L219.4,176.0 L220.4,176.1 L221.4,176.1 L222.4,175.9 L223.4,176.1 L224.3,174.6 L225.3,172.5 L226.2,171.4 L227.3,170.7 L228.4,170.4 L229.5,170.2 L230.6,169.3 L231.6,169.6 L232.7,170.3 L233.7,171.2 L234.8,171.7 L235.8,172.8 L236.8,173.1 L237.7,172.0 L238.7,170.6 L239.6,170.2 L240.6,170.2 L241.5,171.1 L242.5,172.3 L243.4,173.5 L244.4,174.5 L245.3,174.6 L246.3,174.6 L247.3,174.2 L248.3,174.3 L249.2,174.6 L250.2,174.9 L251.2,175.8 L252.2,176.7 L253.2,176.4 L254.1,176.0 L255.1,175.7 L256.1,175.4 L257.1,176.0 L258.0,176.5 L259.0,176.4 L260.0,176.3 L261.0,175.8 L262.0,175.5 L263.0,175.5 L264.0,175.6 L265.0,175.9 L266.0,176.4 L267.0,177.0 L268.0,176.9 L269.0,176.4 L270.0,176.6 L271.0,177.2 L272.0,176.8 L273.0,176.2 L274.0,176.1 L275.0,176.0 L276.0,175.8 L277.0,175.6 L278.0,176.1 L279.0,176.5 L280.0,176.0 L281.0,175.9 L281.9,176.7 L282.9,177.2 L283.9,176.8 L284.9,176.3 L285.9,175.7 L286.9,175.8 L287.9,176.4 L288.9,176.5 L289.9,176.4 L290.9,176.5 L291.9,176.7 L292.9,176.7 L293.9,176.6 L294.9,176.1 L295.9,175.6 L296.9,176.0 L297.9,176.4 L298.9,176.5 L299.9,176.5 L300.9,176.0 L301.9,175.8 L302.9,176.7 L303.9,176.7 L305.0,172.9 L306.2,168.4 L307.1,168.0 L308.1,168.2 L309.1,168.5 L310.0,169.7 L311.0,170.5 L311.9,172.0 L312.9,173.6 L313.9,174.9 L314.8,175.9 L315.8,175.9 L316.8,175.2 L317.8,175.7 L318.8,176.2 L319.8,176.1 L320.8,176.0 L321.8,175.6 L322.8,175.5 L323.8,175.8 L324.8,176.1 L325.8,176.2 L326.8,176.3 L327.8,176.4 L328.8,176.0 L329.9,175.4 L330.9,175.2 L331.9,175.2 L332.9,175.7 L333.9,176.4 L334.9,176.7 L335.9,176.9 L336.9,176.5 L337.9,176.2 L338.9,176.5 L339.9,176.6 L340.9,176.1 L341.9,175.7 L342.9,175.4 L343.9,175.6 L344.9,176.1 L345.9,176.1 L346.9,175.7 L347.9,176.0 L348.9,176.6 L349.9,176.6 L350.9,176.5 L351.9,175.8 L352.9,175.1 L353.9,175.4 L354.9,175.7 L355.9,176.2 L357.0,176.4 L358.0,175.6 L359.0,175.2 L360.0,175.4 L361.0,175.4 L362.0,175.2 L363.0,175.5 L364.0,176.2 L365.0,176.6 L366.0,176.9 L367.0,176.7 L368.0,176.4 L369.0,176.6 L370.0,176.3 L371.0,176.1 L372.0,175.5 L373.0,176.3 L374.0,176.9 L375.0,177.2 L376.0,177.4 L377.0,177.3 L378.0,177.0 L379.0,176.4 L380.0,176.5 L381.0,176.2 L382.0,176.6 L383.0,177.3 L384.0,177.2 L385.0,176.8 L386.0,176.4 L387.0,176.0 L388.0,175.7 L389.0,175.4 L390.0,175.1 L391.0,174.9 L392.0,175.6 L393.0,176.1 L394.0,175.8 L395.0,175.5 L396.0,175.1 L397.0,174.9 L398.0,175.0 L399.0,175.6 L400.0,176.3 L401.0,177.3 L402.0,177.7 L403.0,177.5 L404.0,176.9 L405.0,177.6 L406.0,177.1 L407.0,177.5 L408.0,177.9 L409.0,176.9 L410.0,176.1 L411.0,175.7 L412.0,174.9 L413.0,173.2 L414.0,171.8 L415.0,170.5 L416.0,168.9 L417.0,167.8 L418.0,166.6 L419.0,166.3 L420.0,166.4 L421.2,168.2 L422.5,169.1 L423.7,170.2 L424.9,170.4 L426.1,169.5 L427.3,167.9 L428.2,167.7 L429.1,166.7 L430.1,168.1 L431.0,169.7 L432.2,169.2 L433.4,168.2 L434.6,167.3 L435.8,166.3 L436.7,165.2 L437.6,165.2 L438.5,166.6 L439.4,167.9 L440.6,170.9 L441.9,172.2 L442.8,173.1 L443.7,173.4 L444.6,173.4 L445.5,173.1 L446.6,172.9 L447.8,172.8 L448.9,172.6 L450.0,172.1 L451.0,171.9 L452.0,171.7 L453.0,172.2 L454.0,172.3 L455.0,172.0 L456.0,172.1 L457.0,172.7 L458.0,172.6 L459.0,172.0 L460.0,172.0 L461.0,172.3 L462.0,172.3 L463.0,172.2 L464.0,171.9 L465.0,171.6 L466.0,172.0 L467.0,172.4 L468.0,172.7 L469.0,172.9 L470.0,172.8 L471.0,172.8 L472.0,173.2 L473.0,173.3 L474.0,173.2 L475.0,172.8 L476.0,172.1 L477.0,172.1 L478.0,172.5 L479.0,172.6 L480.0,172.5 L481.0,172.2 L482.0,171.7 L483.0,172.6 L484.0,173.6 L485.0,173.3 L486.0,173.0 L487.0,172.6 L488.0,172.4 L489.0,172.8 L490.0,173.0 L491.0,173.1 L492.0,173.1 L493.0,173.3 L494.0,173.4 L495.0,173.5 L496.0,173.4 L497.0,173.0 L498.0,172.9 L499.0,172.8 L500.0,172.8 L501.0,172.9 L502.0,172.6 L503.0,172.1 L504.1,171.8 L505.1,171.7 L506.1,172.3 L507.1,172.7 L508.1,172.6 L509.1,172.1 L510.1,171.2 L511.1,170.9 L512.2,171.0 L513.2,170.8 L514.2,170.5 L515.2,170.2 L516.2,169.9 L517.2,170.2 L518.2,170.6 L519.3,170.1 L520.3,169.7 L521.3,169.4 L522.3,169.5 L523.2,169.6 L524.2,169.8 L525.1,169.7 L526.1,169.4 L527.0,168.7 L528.0,168.4 L528.9,168.6 L529.9,168.6 L530.9,168.4 L531.8,168.3 L532.8,168.5 L533.7,168.8 L534.6,169.1 L535.6,169.4 L536.5,169.7 L537.5,169.9 L538.4,169.9 L539.4,170.2 L540.4,169.6 L541.3,169.8 L542.3,170.5 L543.2,170.8 L544.2,170.3 L545.2,169.8 L546.1,169.5 L547.1,169.3 L548.0,169.5 L549.0,169.7 L550.0,170.7 L550.9,171.9 L551.8,172.6 L552.8,174.1" fill="none" stroke="#5fc3a1" stroke-width="0.8" stroke-linejoin="round"/><path d="M92.9,160.1 L93.9,160.0 L94.9,160.2 L95.9,160.2 L96.9,160.2 L97.9,159.7 L98.9,159.5 L99.9,159.9 L100.9,160.3 L101.9,160.7 L102.9,160.7 L103.9,160.3 L104.9,160.1 L105.9,160.0 L106.9,160.2 L107.9,160.4 L108.9,160.1 L109.9,159.8 L110.9,159.5 L111.9,159.3 L112.9,159.9 L113.9,160.3 L114.9,159.6 L115.9,159.2 L116.9,159.9 L117.9,160.4 L118.9,160.3 L119.9,160.1 L120.9,159.8 L122.0,159.6 L123.0,159.5 L124.0,159.1 L125.0,158.6 L126.0,158.6 L127.0,158.7 L128.0,159.2 L129.0,159.8 L130.0,159.8 L131.0,159.7 L132.0,159.6 L133.0,159.4 L134.0,158.8 L135.0,158.6 L136.0,159.2 L137.0,159.7 L138.0,159.9 L139.0,160.0 L140.0,159.9 L141.0,159.7 L142.0,159.4 L143.0,159.2 L144.0,159.0 L145.0,158.9 L146.0,158.9 L147.0,158.6 L148.0,158.3 L149.0,158.2 L150.0,158.7 L151.0,159.2 L152.0,159.8 L153.0,159.2 L154.0,158.8 L155.0,158.8 L156.0,158.8 L157.0,158.9 L158.0,159.3 L159.0,159.8 L160.0,160.0 L161.0,159.9 L162.0,159.7 L163.0,159.5 L164.0,159.5 L165.0,159.7 L166.0,159.4 L167.0,159.2 L168.0,159.3 L169.0,159.5 L170.0,159.6 L171.0,159.7 L172.0,159.6 L173.0,159.4 L174.0,158.7 L175.0,158.5 L176.0,159.0 L177.0,159.3 L178.0,159.4 L179.0,159.5 L180.0,159.7 L181.0,159.9 L182.0,160.2 L183.0,160.1 L184.0,160.0 L185.0,159.7 L186.0,159.3 L187.0,159.4 L188.0,159.5 L189.0,159.8 L190.0,160.1 L191.0,160.1 L192.0,160.0 L193.0,159.6 L194.0,159.4 L195.0,159.4 L196.0,159.6 L197.0,159.8 L198.0,159.9 L199.0,159.7 L200.0,159.9 L201.0,160.1 L202.0,160.3 L203.0,160.5 L204.0,160.1 L205.0,159.7 L206.0,159.9 L207.0,160.0 L208.0,159.6 L209.0,159.4 L210.0,160.1 L211.0,160.5 L212.0,160.4 L213.0,160.3 L214.0,160.2 L215.0,160.1 L216.0,159.8 L217.0,159.5 L218.0,159.3 L219.0,159.3 L220.0,159.5 L221.0,159.6 L222.0,159.6 L223.0,160.1 L224.0,160.6 L225.0,160.4 L226.0,160.3 L227.0,160.6 L228.0,160.8 L229.0,160.9 L230.0,160.8 L231.0,160.1 L231.9,158.8 L232.9,156.9 L233.9,155.1 L234.8,154.4 L235.8,154.2 L236.7,153.5 L237.7,153.3 L238.6,154.0 L239.6,154.7 L240.6,155.1 L241.5,155.6 L242.4,156.0 L243.4,156.6 L244.3,156.8 L245.3,156.4 L246.2,155.4 L247.2,154.6 L248.2,155.1 L249.1,155.6 L250.1,156.2 L251.0,157.1 L252.0,158.1 L252.9,158.9 L253.9,158.9 L254.9,159.3 L255.9,158.9 L256.9,159.0 L258.0,159.3 L259.0,159.5 L260.0,160.1 L261.0,160.3 L262.0,161.0 L263.0,160.7 L264.0,160.5 L265.0,160.7 L266.0,160.8 L267.0,160.1 L268.0,159.7 L269.1,159.8 L270.1,160.2 L271.1,160.9 L272.1,161.1 L273.1,160.8 L274.1,160.4 L275.1,159.9 L276.1,159.8 L277.1,159.7 L278.1,160.4 L279.1,161.1 L280.1,161.1 L281.1,161.1 L282.1,160.3 L283.1,159.9 L284.1,160.8 L285.1,161.1 L286.1,160.2 L287.2,159.8 L288.2,160.1 L289.2,160.4 L290.2,160.6 L291.2,160.8 L292.2,161.0 L293.2,161.1 L294.2,161.2 L295.2,160.4 L296.2,159.5 L297.2,159.7 L298.2,159.9 L299.2,159.8 L300.2,159.7 L301.2,159.6 L302.2,159.8 L303.2,160.4 L304.3,160.5 L305.3,160.0 L306.3,159.9 L307.3,160.2 L308.3,160.4 L309.3,160.7 L310.3,160.8 L311.3,160.9 L312.3,160.5 L313.6,156.4 L314.8,152.3 L315.8,152.9 L316.7,153.7 L317.7,154.1 L318.6,154.1 L319.6,154.8 L320.6,155.2 L321.5,156.7 L322.5,158.6 L323.4,159.4 L324.4,159.5 L325.3,160.0 L326.2,160.5 L327.2,160.2 L328.2,159.2 L329.1,158.9 L330.1,159.0 L331.0,159.2 L331.9,159.4 L332.9,159.2 L333.9,158.7 L334.8,159.0 L335.8,159.9 L336.9,160.2 L337.9,160.3 L339.0,160.9 L340.0,160.8 L341.0,161.0 L342.0,160.9 L343.0,161.1 L344.0,161.0 L345.0,160.2 L346.0,159.9 L347.0,160.1 L347.9,160.2 L348.9,160.0 L349.9,160.1 L350.9,160.2 L351.9,160.1 L352.9,159.8 L353.9,159.8 L354.9,159.8 L355.9,160.1 L356.9,160.5 L357.9,160.9 L358.9,161.4 L359.9,161.1 L360.9,160.8 L361.8,160.8 L362.8,160.8 L363.8,161.1 L364.8,161.2 L365.8,160.9 L366.8,160.7 L367.8,160.6 L368.8,160.7 L369.8,160.7 L370.8,160.7 L371.8,160.6 L372.8,160.3 L373.8,160.0 L374.8,159.8 L375.8,159.7 L376.7,160.3 L377.7,161.1 L378.7,160.9 L379.7,160.5 L380.7,160.8 L381.7,161.1 L382.7,160.3 L383.7,159.6 L384.7,160.1 L385.7,160.6 L386.7,161.0 L387.7,161.1 L388.7,160.1 L389.7,159.9 L390.6,160.9 L391.6,161.2 L392.6,160.5 L393.6,160.3 L394.6,160.5 L395.6,160.6 L396.6,160.7 L397.6,160.7 L398.6,160.7 L399.6,160.5 L400.6,160.2 L401.6,160.7 L402.6,161.3 L403.6,160.7 L404.5,160.1 L405.5,159.8 L406.5,159.5 L407.5,159.5 L408.5,159.8 L409.5,160.8 L410.5,161.2 L411.5,160.5 L412.5,159.9 L413.5,159.7 L414.4,159.4 L415.4,159.1 L416.4,158.6 L417.3,158.1 L418.2,157.5 L419.1,156.7 L420.0,156.0 L420.9,154.3 L421.9,152.0 L422.8,150.8 L423.7,149.4 L424.6,147.8 L425.5,146.7 L426.7,145.1 L427.9,144.2 L428.5,145.4 L429.7,148.4 L430.6,149.9 L431.6,150.8 L432.5,153.4 L433.4,154.9 L434.6,155.0 L435.8,155.7 L437.0,154.2 L438.2,153.8 L439.4,154.9 L440.7,155.3 L441.9,154.7 L443.1,152.8 L444.3,152.2 L445.5,150.9 L446.7,152.4 L447.9,153.9 L448.9,155.1 L450.0,155.8 L451.0,156.0 L451.9,156.8 L452.9,156.4 L453.9,156.1 L454.8,156.5 L455.8,157.1 L456.8,157.3 L457.7,157.5 L458.6,156.8 L459.6,156.1 L460.6,156.5 L461.5,157.1 L462.5,156.9 L463.6,156.9 L464.6,156.9 L465.6,157.1 L466.6,158.0 L467.7,158.4 L468.7,158.2 L469.7,158.1 L470.8,158.1 L471.8,158.2 L472.8,158.5 L473.8,158.4 L474.9,158.2 L475.9,157.6 L476.9,157.3 L477.9,157.9 L479.0,158.4 L480.0,158.3 L481.0,158.6 L482.0,158.6 L483.0,158.7 L484.0,158.8 L485.1,158.4 L486.1,157.8 L487.1,158.0 L488.1,158.3 L489.1,158.4 L490.1,158.5 L491.1,158.1 L492.1,158.0 L493.1,158.5 L494.1,158.6 L495.1,157.9 L496.2,157.6 L497.2,157.8 L498.2,157.8 L499.2,157.6 L500.2,157.9 L501.2,158.4 L502.2,158.4 L503.2,158.3 L504.2,158.1 L505.2,158.0 L506.3,157.9 L507.3,157.8 L508.3,157.7 L509.3,157.6 L510.3,157.7 L511.3,157.6 L512.3,157.1 L513.3,156.8 L514.3,156.5 L515.4,156.6 L516.4,157.0 L517.4,157.5 L518.4,158.1 L519.4,157.3 L520.4,156.9 L521.4,157.0 L522.3,157.8 L523.2,157.7 L524.2,157.8 L525.2,157.2 L526.2,157.1 L527.3,157.6 L528.3,157.8 L529.3,157.4 L530.3,156.7 L531.4,155.8 L532.4,155.4 L533.4,155.2 L534.4,154.8 L535.5,154.3 L536.5,153.7 L537.5,153.2 L538.5,152.9 L539.4,152.5 L540.4,152.0 L541.4,151.4 L542.3,151.0 L543.3,150.5 L544.2,150.7 L545.2,150.6 L546.2,151.9 L547.1,153.9 L548.0,155.5 L549.0,155.7 L549.9,155.0 L550.9,152.9 L551.8,151.4 L552.8,152.2 L553.7,154.4 L554.7,156.0 L555.7,155.1 L556.6,153.8 L557.6,152.6 L558.5,154.5 L559.5,155.6 L560.4,152.6" fill="none" stroke="#7a7a7a" stroke-width="0.8" stroke-linejoin="round"/><path d="M102.6,145.0 L103.6,145.0 L104.6,144.5 L105.6,144.9 L106.6,145.1 L107.6,144.5 L108.7,144.1 L109.7,144.3 L110.7,144.3 L111.7,144.1 L112.7,144.1 L113.7,144.4 L114.7,144.1 L115.7,143.5 L116.7,143.7 L117.7,144.0 L118.7,143.9 L119.7,143.8 L120.8,143.5 L121.8,143.3 L122.8,144.1 L123.8,144.7 L124.8,144.8 L125.8,144.5 L126.8,143.6 L127.8,143.5 L128.8,143.9 L129.8,144.0 L130.8,143.9 L131.8,143.8 L132.9,143.6 L133.9,143.7 L134.9,143.9 L135.9,143.9 L136.9,143.9 L137.9,143.5 L138.9,143.2 L139.9,143.3 L140.9,143.4 L141.9,143.5 L142.9,143.8 L143.9,144.3 L145.0,144.5 L146.0,144.4 L147.0,144.3 L148.0,144.1 L149.0,143.8 L150.0,143.5 L151.0,143.8 L152.0,144.3 L153.0,144.4 L154.0,144.5 L155.0,144.4 L156.0,144.1 L157.0,143.4 L158.0,143.0 L159.1,143.2 L160.1,143.3 L161.1,143.1 L162.1,143.2 L163.1,143.4 L164.1,143.8 L165.1,144.2 L166.1,144.0 L167.1,143.7 L168.1,143.5 L169.1,143.3 L170.1,143.2 L171.1,143.0 L172.1,143.0 L173.1,143.2 L174.1,143.9 L175.1,144.5 L176.1,144.6 L177.2,144.7 L178.2,144.7 L179.2,144.1 L180.2,143.2 L181.2,143.1 L182.2,143.4 L183.2,143.4 L184.2,143.3 L185.2,143.6 L186.2,144.0 L187.2,143.7 L188.2,143.5 L189.2,143.8 L190.2,144.1 L191.2,144.1 L192.2,144.1 L193.2,144.4 L194.2,144.4 L195.2,144.3 L196.3,144.3 L197.3,144.3 L198.3,144.0 L199.3,143.5 L200.3,144.2 L201.3,145.2 L202.3,144.8 L203.3,144.3 L204.3,144.8 L205.3,145.2 L206.3,144.6 L207.3,144.1 L208.3,143.9 L209.3,144.1 L210.3,145.1 L211.3,145.4 L212.3,144.9 L213.3,144.5 L214.4,144.2 L215.4,144.6 L216.4,145.5 L217.4,145.7 L218.4,145.6 L219.4,144.9 L220.4,144.0 L221.4,144.9 L222.4,145.7 L223.4,144.8 L224.4,144.1 L225.4,144.1 L226.4,144.2 L227.4,144.2 L228.4,144.6 L229.4,145.3 L230.4,145.5 L231.4,145.3 L232.5,145.1 L233.5,145.1 L234.5,145.2 L235.5,145.4 L236.5,145.0 L237.5,144.6 L238.5,144.3 L239.5,144.1 L240.5,144.7 L241.5,143.8 L242.4,143.0 L243.4,141.8 L244.4,140.6 L245.3,139.2 L246.3,137.7 L247.2,136.7 L248.2,136.7 L249.1,138.1 L250.1,140.0 L251.0,141.5 L252.0,142.4 L252.9,141.3 L253.9,140.3 L254.9,139.4 L255.8,139.5 L256.8,139.2 L257.7,139.6 L258.6,140.3 L259.6,141.2 L260.6,142.1 L261.5,143.3 L262.4,144.1 L263.4,143.8 L264.4,143.8 L265.4,143.1 L266.3,142.8 L267.3,142.8 L268.3,143.0 L269.3,143.3 L270.2,143.6 L271.2,143.7 L272.2,143.8 L273.2,143.8 L274.1,143.9 L275.1,144.0 L276.1,144.1 L277.1,144.3 L278.0,144.4 L279.0,144.3 L280.0,144.0 L281.0,143.6 L282.0,143.6 L283.0,143.6 L284.0,144.3 L285.0,145.1 L286.0,144.6 L287.0,144.2 L288.0,144.7 L289.0,145.0 L290.0,145.0 L291.0,145.0 L292.0,144.9 L293.0,144.8 L294.0,144.6 L295.0,144.6 L296.0,144.7 L297.0,144.5 L298.0,144.1 L299.0,143.9 L300.0,143.8 L301.0,144.0 L302.0,144.2 L303.0,144.0 L304.0,143.8 L305.0,143.8 L306.0,143.8 L307.0,143.8 L308.0,143.8 L309.0,143.8 L310.0,143.8 L311.0,143.7 L312.0,143.6 L313.0,143.8 L314.0,144.2 L315.0,144.8 L316.0,144.6 L317.0,143.9 L318.0,144.2 L319.0,144.9 L320.0,144.8 L321.2,141.4 L322.4,137.4 L323.4,137.7 L324.3,139.3 L325.3,140.2 L326.2,139.9 L327.2,139.5 L328.1,140.5 L329.1,141.6 L330.1,142.3 L331.0,142.6 L332.0,142.5 L333.0,142.5 L334.0,142.7 L335.0,143.0 L336.0,143.4 L337.0,143.6 L338.0,143.7 L339.0,144.3 L340.0,144.7 L341.0,145.2 L342.0,145.2 L343.0,144.4 L344.0,143.8 L345.0,144.5 L346.0,145.1 L347.0,145.2 L348.0,145.1 L349.0,144.3 L350.0,144.1 L351.0,144.4 L352.0,144.3 L353.0,144.1 L354.0,144.1 L355.1,144.3 L356.1,144.6 L357.1,145.0 L358.1,144.5 L359.1,143.9 L360.1,144.2 L361.1,144.5 L362.1,144.6 L363.1,144.8 L364.1,145.0 L365.1,145.2 L366.1,145.3 L367.1,145.3 L368.1,145.3 L369.1,145.0 L370.1,144.4 L371.1,144.2 L372.1,144.1 L373.1,144.5 L374.1,145.1 L375.1,145.2 L376.1,145.1 L377.1,145.1 L378.1,145.0 L379.1,144.8 L380.1,144.6 L381.1,145.0 L382.1,145.0 L383.2,144.2 L384.2,143.6 L385.2,143.7 L386.2,144.0 L387.2,144.6 L388.2,144.5 L389.2,144.0 L390.2,144.1 L391.2,144.5 L392.2,144.5 L393.2,144.4 L394.2,144.5 L395.2,144.5 L396.2,144.1 L397.2,143.8 L398.2,144.6 L399.2,145.0 L400.2,144.6 L401.2,144.1 L402.2,143.5 L403.2,143.3 L404.2,143.6 L405.2,143.9 L406.2,144.1 L407.2,144.4 L408.2,144.8 L409.2,144.6 L410.2,144.4 L411.3,144.6 L412.3,144.9 L413.3,144.3 L414.3,143.7 L415.3,143.4 L416.3,143.2 L417.3,143.6 L418.3,144.0 L419.3,144.5 L420.3,144.6 L421.3,144.2 L422.3,144.2 L423.3,144.5 L424.3,144.6 L425.3,144.2 L426.2,143.8 L427.2,142.2 L428.1,141.9 L429.1,141.1 L430.1,140.3 L431.0,139.7 L431.9,138.3 L432.9,137.2 L433.9,135.1 L434.8,133.1 L435.8,130.4 L436.7,129.5 L437.7,130.5 L438.6,132.9 L439.6,135.1 L440.6,136.0 L441.5,137.0 L442.4,137.8 L443.4,138.1 L444.4,138.4 L445.3,138.5 L446.3,138.6 L447.2,138.3 L448.2,137.5 L449.1,137.5 L450.1,136.9 L451.0,135.7 L452.0,134.4 L452.9,134.1 L453.9,134.3 L454.8,134.9 L455.8,136.2 L456.8,137.8 L457.7,139.0 L458.6,139.4 L459.6,139.7 L460.6,140.5 L461.5,141.4 L462.4,142.4 L463.4,143.2 L464.4,143.6 L465.3,143.2 L466.3,143.7 L467.3,143.8 L468.2,143.2 L469.2,142.6 L470.2,143.3 L471.2,144.2 L472.2,143.8 L473.1,143.5 L474.1,143.5 L475.1,143.5 L476.1,143.7 L477.1,143.8 L478.0,143.7 L479.0,143.5 L480.0,143.7 L481.0,143.6 L482.0,144.3 L483.0,144.5 L484.0,144.2 L485.0,143.9 L486.0,143.8 L487.0,143.7 L488.0,143.8 L489.0,143.4 L490.0,142.9 L491.0,142.7 L492.0,142.7 L493.0,142.6 L494.0,142.5 L495.0,142.7 L496.0,143.0 L497.0,143.5 L498.0,143.7 L499.0,142.8 L500.0,142.2 L501.0,142.4 L502.0,142.7 L503.0,143.2 L504.0,143.1 L505.0,142.3 L506.0,142.2 L507.0,142.5 L508.0,142.8 L509.0,143.1 L510.0,143.0 L511.0,142.8 L512.0,142.4 L513.0,142.0 L514.0,141.9 L515.0,141.7 L516.0,141.7 L517.0,141.6 L518.0,141.7 L519.0,141.9 L520.0,142.2 L521.0,142.8 L522.0,142.4 L523.0,142.1 L524.0,141.9 L525.0,142.1 L526.0,142.7 L527.0,142.4 L528.0,141.8 L529.0,141.6 L530.0,141.4 L531.0,141.6 L532.0,141.9 L533.0,141.5 L534.0,141.2 L535.0,142.1 L536.0,142.5 L537.0,141.6 L538.0,141.0 L539.0,141.4 L540.0,141.4 L541.0,141.1 L542.0,141.0 L543.0,141.2 L544.0,141.7 L545.0,142.4 L546.0,142.0 L547.0,141.3 L548.0,141.6 L549.0,142.3 L550.0,142.2 L551.0,142.1 L552.0,141.5 L553.0,141.0 L554.0,141.9 L555.0,142.5 L556.0,141.5 L557.0,141.1 L558.0,141.9 L559.0,142.5 L560.0,142.6 L561.0,142.4 L562.0,141.8 L563.0,141.5 L564.0,141.5 L565.0,141.5 L566.0,141.5 L567.0,141.7 L568.0,141.8" fill="none" stroke="#c4c4c4" stroke-width="0.8" stroke-linejoin="round"/><path d="M110.0,131.1 L111.0,130.5 L112.0,129.7 L113.0,130.1 L114.0,130.3 L115.0,129.5 L116.0,128.8 L117.0,128.4 L118.0,128.2 L119.0,128.3 L120.0,128.0 L121.0,127.4 L122.0,127.2 L123.0,127.1 L124.0,127.2 L125.0,127.4 L126.0,127.3 L127.0,127.0 L128.0,127.4 L129.0,127.8 L130.0,127.5 L131.0,127.2 L132.0,127.1 L133.0,126.9 L134.0,126.7 L135.0,126.8 L136.0,126.3 L137.1,126.2 L138.1,126.3 L139.1,126.2 L140.1,126.0 L141.1,125.2 L142.2,124.4 L143.2,124.6 L144.2,125.2 L145.1,125.0 L146.1,124.9 L147.1,125.8 L148.1,126.6 L149.0,126.4 L150.0,126.4 L151.0,126.5 L152.0,126.8 L153.0,126.7 L154.0,126.8 L155.0,127.4 L156.0,127.7 L157.0,127.6 L158.0,127.3 L159.0,126.7 L160.0,126.4 L161.0,126.5 L162.0,126.8 L163.0,127.2 L164.0,127.1 L165.0,126.9 L166.0,126.9 L167.0,127.0 L168.0,127.8 L169.0,128.5 L170.0,128.5 L171.0,128.3 L172.0,127.4 L173.0,126.7 L174.0,126.8 L175.0,127.0 L176.0,127.7 L177.0,128.2 L178.0,128.5 L179.0,128.7 L180.0,128.1 L181.0,128.4 L182.0,128.2 L183.0,128.2 L184.0,128.3 L185.0,128.1 L186.0,127.8 L187.0,127.8 L188.0,127.9 L189.0,128.2 L190.0,128.4 L191.0,127.6 L192.0,127.2 L193.0,127.9 L194.0,128.2 L195.0,128.3 L196.0,128.0 L197.0,127.4 L198.0,127.6 L199.0,128.2 L200.0,128.0 L201.0,127.3 L202.0,127.9 L203.0,128.7 L204.0,128.6 L205.0,128.4 L206.0,128.1 L207.0,127.8 L208.0,127.9 L209.0,128.1 L210.0,128.6 L211.0,128.7 L212.0,128.0 L213.0,127.6 L214.0,127.4 L215.0,127.6 L216.0,128.1 L217.0,128.4 L218.0,128.6 L219.0,128.2 L220.0,127.4 L221.0,127.7 L222.0,128.4 L223.0,128.1 L224.0,127.7 L225.0,128.0 L226.0,128.3 L227.0,128.1 L228.0,128.0 L229.0,128.5 L230.0,128.7 L231.0,128.3 L232.0,128.3 L233.0,128.7 L234.0,128.9 L235.0,128.9 L236.0,128.4 L237.0,127.5 L238.0,127.8 L239.0,128.7 L240.0,128.7 L241.0,128.5 L242.0,127.9 L243.0,127.3 L244.0,127.9 L245.2,129.2 L246.3,130.2 L247.2,128.5 L248.2,125.6 L249.2,122.6 L250.1,121.3 L251.1,120.2 L252.0,119.9 L252.9,119.9 L253.9,120.0 L254.8,121.1 L255.8,122.2 L256.8,124.0 L257.7,125.5 L258.6,125.6 L259.6,125.3 L260.5,124.6 L261.5,123.3 L262.4,122.7 L263.4,122.7 L264.3,123.3 L265.3,124.1 L266.2,125.2 L267.2,126.5 L268.2,127.4 L269.1,127.4 L270.1,127.7 L271.1,128.3 L272.1,128.3 L273.1,127.8 L274.1,127.5 L275.0,127.3 L276.0,127.3 L277.0,127.2 L278.0,127.3 L279.0,127.5 L280.0,127.8 L281.0,127.2 L282.0,128.1 L283.0,128.8 L284.0,127.9 L285.0,127.4 L286.0,128.2 L287.0,128.7 L288.0,128.6 L289.0,128.4 L290.0,128.1 L291.0,127.7 L292.0,127.3 L293.0,127.2 L294.0,127.4 L295.0,127.9 L296.0,128.7 L297.0,128.4 L298.0,127.9 L299.0,128.2 L300.0,128.6 L301.0,127.9 L302.0,127.2 L303.0,127.2 L304.0,127.2 L305.0,127.5 L306.0,127.7 L307.0,127.7 L308.0,127.6 L309.0,127.5 L310.0,127.6 L311.0,128.1 L312.0,128.2 L313.0,128.2 L314.0,128.1 L315.0,128.1 L316.0,127.9 L317.0,127.7 L318.0,127.7 L319.0,127.8 L320.0,127.7 L321.0,127.6 L322.0,127.9 L323.0,128.1 L324.0,127.9 L325.0,127.9 L326.0,128.1 L327.0,128.2 L327.9,127.9 L328.8,126.2 L329.7,123.8 L330.6,122.8 L331.6,123.0 L332.7,123.3 L333.7,123.2 L334.8,123.9 L335.8,125.0 L336.7,125.9 L337.7,126.4 L338.6,127.2 L339.6,127.9 L340.5,128.1 L341.5,128.1 L342.5,127.8 L343.5,127.3 L344.5,127.9 L345.5,128.7 L346.5,127.9 L347.5,127.0 L348.5,127.1 L349.5,127.3 L350.5,127.6 L351.5,127.9 L352.5,128.4 L353.5,128.6 L354.5,128.3 L355.5,128.3 L356.5,128.5 L357.5,128.2 L358.5,127.6 L359.5,127.5 L360.5,127.7 L361.5,127.8 L362.5,127.8 L363.5,127.4 L364.5,127.0 L365.5,126.8 L366.5,126.6 L367.5,126.9 L368.5,127.0 L369.6,126.7 L370.6,126.5 L371.6,126.4 L372.6,126.3 L373.6,126.5 L374.6,126.9 L375.6,127.6 L376.6,127.7 L377.6,127.4 L378.6,127.4 L379.6,127.5 L380.6,127.4 L381.6,127.1 L382.6,127.0 L383.6,126.9 L384.6,127.3 L385.6,127.6 L386.6,127.0 L387.6,126.5 L388.6,126.4 L389.6,126.3 L390.6,126.3 L391.6,126.2 L392.6,126.0 L393.6,125.8 L394.6,125.8 L395.6,125.9 L396.6,126.2 L397.6,126.5 L398.6,126.8 L399.6,126.6 L400.5,126.3 L401.5,126.5 L402.4,126.9 L403.4,127.0 L404.3,126.9 L405.2,127.3 L406.2,127.9 L407.2,127.7 L408.1,127.4 L409.1,127.2 L410.0,127.4 L411.0,127.7 L411.9,127.9 L412.9,127.8 L413.9,127.7 L414.8,127.7 L415.8,127.8 L416.7,126.9 L417.7,126.3 L418.6,125.6 L419.6,125.1 L420.6,123.9 L421.5,123.6 L422.4,124.2 L423.4,125.8 L424.3,126.6 L425.3,127.1 L426.2,128.2 L427.2,129.1 L428.1,129.4 L429.1,129.4 L430.0,129.8 L431.0,129.8 L431.9,129.5 L432.9,127.8 L433.9,125.7 L434.8,123.2 L435.8,121.0 L436.7,118.4 L437.7,117.5 L438.6,116.3 L439.6,115.9 L440.5,115.5 L441.5,114.5 L442.4,113.0 L443.4,110.8 L444.4,112.9 L445.3,115.4 L446.3,118.1 L447.2,121.4 L448.2,123.2 L449.1,124.2 L450.1,124.0 L451.0,123.0 L452.0,120.9 L452.9,120.0 L453.9,120.6 L454.8,122.0 L455.8,122.8 L456.8,123.0 L457.7,122.7 L458.7,121.1 L459.9,118.5 L461.1,117.4 L462.2,118.6 L463.3,119.7 L464.4,121.7 L465.3,122.0 L466.3,122.8 L467.2,123.6 L468.2,123.9 L469.1,124.0 L470.1,124.2 L471.0,124.1 L472.0,124.4 L473.0,124.8 L473.9,125.3 L474.9,125.8 L475.9,126.3 L476.9,126.6 L478.0,126.5 L479.0,126.4 L480.0,126.7 L481.0,126.7 L482.0,126.7 L483.0,127.0 L484.0,127.4 L485.0,127.6 L486.0,127.8 L487.0,127.6 L488.0,127.3 L489.0,127.0 L490.0,126.6 L491.0,126.8 L492.0,127.0 L493.0,127.1 L494.0,127.1 L495.0,127.4 L496.0,127.4 L497.0,127.1 L498.0,127.1 L499.0,127.4 L500.0,127.5 L501.0,127.5 L502.0,127.4 L503.0,127.5 L504.0,127.8 L505.0,127.7 L506.0,127.9 L507.0,127.3 L508.0,127.1 L509.0,126.9 L510.0,126.6 L511.0,126.4 L512.0,126.3 L513.0,126.5 L514.0,127.2 L515.0,127.7 L516.0,127.9 L517.0,127.9 L518.0,127.6 L519.0,127.2 L520.0,126.7 L521.0,126.3 L522.0,126.1 L523.0,126.3 L524.0,126.7 L525.0,126.4 L526.0,126.0 L527.0,125.9 L528.0,125.9 L529.0,126.4 L530.0,126.8 L531.0,126.3 L532.0,125.9 L533.0,126.2 L534.0,126.4 L535.0,126.8 L536.0,126.8 L537.0,126.3 L538.0,126.0 L539.0,125.9 L540.0,125.9 L541.0,125.9 L542.0,126.1 L542.9,126.4 L543.9,125.8 L544.9,124.9 L545.9,124.9 L546.8,125.3 L547.8,124.8 L548.8,124.1 L549.8,124.2 L550.7,124.4 L551.7,123.7 L552.7,123.0 L553.7,122.9 L554.6,122.8 L555.6,122.9 L556.6,123.4 L557.7,124.3 L558.9,125.6 L560.0,125.8 L561.0,125.8 L562.0,126.3 L563.0,126.1 L564.0,125.6 L565.0,126.1 L566.0,126.6 L567.0,126.6 L568.0,126.6 L569.0,126.4 L570.0,126.1 L571.0,125.5 L572.0,125.0 L573.0,124.9 L574.0,124.9 L575.0,125.3 L576.0,125.3 L577.0,125.3" fill="none" stroke="#4472c4" stroke-width="0.8" stroke-linejoin="round"/><path d="M21.0,527.3 L22.0,527.3 L23.0,527.4 L24.0,527.6 L25.0,527.7 L26.0,527.9 L27.0,528.1 L27.9,528.3 L28.9,528.4 L29.9,528.5 L30.9,528.6 L31.9,528.6 L32.9,528.6 L33.9,528.6 L34.9,528.5 L35.9,528.5 L36.9,528.4 L37.9,528.4 L38.8,528.4 L39.8,528.4 L40.8,528.3 L41.8,528.3 L42.8,528.3 L43.8,528.2 L44.8,528.2 L45.8,528.1 L46.8,528.0 L47.8,527.9 L48.7,527.8 L49.7,527.7 L50.7,527.6 L51.7,527.6 L52.7,527.6 L53.7,527.7 L54.7,527.7 L55.7,527.8 L56.7,527.9 L57.6,527.9 L58.6,527.9 L59.6,527.9 L60.6,527.8 L61.6,527.7 L62.6,527.6 L63.6,527.5 L64.7,527.4 L65.7,527.3 L66.7,527.2 L67.7,527.2 L68.8,527.1 L69.8,527.1 L70.8,527.0 L71.8,527.0 L72.8,526.9 L73.9,526.8 L74.9,526.7 L75.9,526.6 L76.9,526.5 L78.0,526.4 L79.0,526.4 L80.0,526.4 L81.0,526.5 L82.0,526.6 L83.0,526.7 L84.0,526.9 L85.0,527.1 L86.0,527.2 L87.0,527.4 L88.0,527.5 L89.0,527.5 L90.0,527.5 L91.0,527.3 L92.0,526.9 L93.0,526.4 L94.0,525.9 L95.0,525.5 L96.0,525.1 L97.0,524.8 L98.0,524.5 L99.0,524.2 L100.0,523.9 L101.0,523.6 L102.0,523.3 L103.0,522.9 L104.0,522.5 L105.0,522.1 L106.0,521.7 L107.0,521.2 L108.0,520.8 L109.0,520.4 L110.0,519.9 L111.0,519.4 L112.0,518.9 L113.0,518.3 L114.0,517.6 L115.0,516.8 L116.0,515.7 L117.0,514.3 L118.0,512.7 L119.0,511.1 L120.0,509.7 L121.1,508.3 L122.2,507.0 L123.3,505.8 L124.4,504.5 L125.4,503.4 L126.4,502.2 L127.3,501.1 L128.3,500.3 L129.4,499.6 L130.5,499.2 L131.6,498.7 L132.7,498.0 L133.7,497.1 L134.6,496.0 L135.6,494.7 L136.6,493.4 L137.5,492.2 L138.3,490.9 L139.2,489.4 L140.1,487.9 L141.1,485.9 L142.2,483.7 L143.2,481.2 L144.1,478.9 L144.9,476.2 L145.8,473.4 L146.9,469.5 L148.0,465.6 L148.9,463.0 L149.8,460.1 L150.9,454.5 L152.0,448.0 L153.4,439.9 L154.7,434.6 L155.9,430.4 L156.8,428.0 L157.7,425.6 L158.7,423.5 L159.6,421.6 L160.5,420.0 L161.4,418.8 L162.3,417.8 L163.3,417.0 L164.2,416.2 L165.1,415.6 L166.1,415.2 L167.0,415.1 L168.0,415.5 L169.0,416.3 L170.0,417.7 L170.9,419.3 L171.9,421.1 L172.9,422.9 L173.9,424.7 L174.8,426.5 L175.7,428.5 L176.7,430.8 L177.6,433.3 L178.5,436.0 L179.4,438.8 L180.3,442.2 L181.3,446.2 L182.2,450.5 L183.1,454.9 L184.1,459.1 L185.0,462.9 L186.0,466.6 L187.0,470.1 L188.1,473.4 L189.1,476.6 L190.1,479.6 L191.1,482.4 L192.2,485.0 L193.2,487.5 L194.2,489.8 L195.3,492.0 L196.3,494.1 L197.2,496.2 L198.2,498.2 L199.1,500.0 L200.1,501.4 L201.1,502.5 L202.1,503.5 L203.0,504.3 L204.0,505.0 L205.0,505.7 L206.0,506.4 L207.0,507.0 L208.0,507.6 L208.9,508.2 L209.9,508.8 L210.9,509.4 L211.9,510.0 L212.9,510.7 L213.9,511.4 L214.9,512.0 L215.8,512.7 L216.8,513.3 L217.8,513.8 L218.8,514.3 L219.8,514.7 L220.8,515.1 L221.8,515.5 L222.8,515.9 L223.8,516.2 L224.8,516.6 L225.8,517.0 L226.8,517.4 L227.8,517.9 L228.8,518.3 L229.7,518.7 L230.7,519.0 L231.7,519.3 L232.7,519.5 L233.7,519.7 L234.7,519.9 L235.7,520.0 L236.6,520.1 L237.6,520.2 L238.6,520.3 L239.6,520.4 L240.6,520.6 L241.6,520.8 L242.6,521.0 L243.6,521.2 L244.6,521.4 L245.6,521.7 L246.6,521.9 L247.5,522.2 L248.4,522.6 L249.3,523.0 L250.3,523.4 L251.2,523.7 L252.1,523.9 L253.1,524.2 L254.2,524.4 L255.2,524.6 L256.3,524.8 L257.3,525.0 L258.3,525.0 L259.2,524.8 L260.2,524.4 L261.1,523.9 L262.1,523.4 L263.1,522.8 L264.0,522.1 L265.0,521.6 L266.0,520.9 L267.0,520.2 L268.0,519.5 L269.0,519.0 L270.0,518.8 L271.1,518.9 L272.3,519.1 L273.4,519.4 L274.4,519.8 L275.5,520.5 L276.5,521.3 L277.6,522.1 L278.6,523.0 L279.7,523.7 L280.7,524.4 L281.8,524.9 L282.8,525.4 L283.9,525.9 L285.0,526.4 L286.0,526.9 L287.1,527.3 L288.2,527.6 L289.2,527.9 L290.2,528.1 L291.3,528.3 L292.4,528.4 L293.4,528.5 L294.4,528.6 L295.5,528.6 L296.5,528.6 L297.5,528.6 L298.5,528.7 L299.5,528.8 L300.5,528.9 L301.6,529.0 L302.6,529.1 L303.6,529.2 L304.6,529.2 L305.6,529.2 L306.6,529.2 L307.6,529.2 L308.6,529.2 L309.6,529.2 L310.5,529.1 L311.5,529.1 L312.5,529.2 L313.5,529.2 L314.5,529.2 L315.5,529.2 L316.5,529.2 L317.4,529.2 L318.4,529.2 L319.4,529.1 L320.4,528.9 L321.4,528.8 L322.4,528.6 L323.4,528.4 L324.4,528.2 L325.4,528.0 L326.4,527.8 L327.4,527.7 L328.3,527.5 L329.3,527.4 L330.3,527.3 L331.3,527.2 L332.3,527.1 L333.3,526.9 L334.3,526.8 L335.3,526.6 L336.3,526.4 L337.3,526.2 L338.3,526.0 L339.3,525.8 L340.3,525.7 L341.2,525.5 L342.2,525.4 L343.2,525.3 L344.2,525.1 L345.2,525.0 L346.2,524.8 L347.2,524.6 L348.2,524.3 L349.2,524.0 L350.2,523.7 L351.2,523.3 L352.2,522.9 L353.2,522.6 L354.2,522.2 L355.2,521.9 L356.2,521.6 L357.2,521.3 L358.2,521.1 L359.2,520.8 L360.2,520.5 L361.3,520.2 L362.4,519.7 L363.4,519.3 L364.4,518.8 L365.5,518.5 L366.6,518.2 L367.6,518.2 L368.6,518.3 L369.7,518.5 L370.7,519.0 L371.8,519.5 L372.8,520.2 L373.8,520.8 L374.9,521.5 L375.9,522.1 L376.9,522.8 L378.0,523.7 L379.0,524.7 L380.0,525.7 L381.1,526.7 L382.1,527.5 L383.2,528.1 L384.2,528.4 L385.2,528.5 L386.1,528.6 L387.1,528.8 L388.1,528.9 L389.0,529.0 L390.0,529.1 L391.0,529.1 L392.0,529.0 L393.0,528.9 L394.1,528.7 L395.1,528.6 L396.1,528.4 L397.1,528.1 L398.1,528.0 L399.1,527.8 L400.1,527.6 L401.1,527.5 L402.1,527.4 L403.2,527.3 L404.2,527.2 L405.2,527.1 L406.2,527.0 L407.2,527.0 L408.3,526.9 L409.3,526.8 L410.3,526.6 L411.3,526.6 L412.4,526.5 L413.4,526.5 L414.4,526.5 L415.4,526.5 L416.5,526.6 L417.5,526.7 L418.5,526.4 L419.5,525.5 L420.4,524.1 L421.4,522.6 L422.4,521.0 L423.5,519.2 L424.6,516.9 L425.6,514.5 L426.7,512.1 L427.8,509.9 L428.9,508.1 L430.0,506.4 L431.1,504.7 L432.1,503.0 L433.2,501.6 L434.3,500.6 L435.4,500.2 L436.5,500.2 L437.5,500.2 L438.6,500.4 L439.7,500.6 L440.7,500.9 L441.8,501.3 L442.8,501.7 L443.8,502.4 L444.7,503.3 L445.7,504.2 L446.7,505.2 L447.7,506.1 L448.7,506.9 L449.6,507.5 L450.6,507.9 L451.6,508.1 L452.6,507.9 L453.6,507.7 L454.6,507.3 L455.6,506.8 L456.7,506.3 L457.7,505.8 L458.7,505.4 L459.7,505.0 L460.7,504.7 L461.8,504.4 L462.8,504.1 L463.8,503.8 L464.8,503.4 L465.9,503.1 L466.9,502.7 L467.9,502.3 L468.9,501.9 L470.0,501.6 L471.0,501.3 L472.0,501.0 L472.9,500.7 L473.9,500.5 L474.9,500.3 L475.9,500.1 L476.8,499.8 L477.8,499.5 L478.8,499.2 L479.7,498.8 L480.7,498.4 L481.7,497.9 L482.7,497.4 L483.7,496.8 L484.8,496.2 L485.8,495.5 L486.8,494.9 L487.8,494.3 L488.8,493.7 L489.8,493.0 L490.8,492.1 L491.7,491.3 L492.7,490.6 L493.7,490.3 L494.8,490.5 L495.9,491.2 L496.9,492.3 L498.0,493.6 L499.1,495.0 L500.2,496.4 L501.2,497.7 L502.1,499.1 L503.1,500.7 L504.1,502.4 L505.0,504.2 L506.0,505.8 L507.0,507.5 L508.0,508.9 L508.9,510.3 L509.9,511.4 L510.9,512.4 L511.8,513.4 L512.8,514.3 L513.8,515.2 L514.8,516.1 L515.7,516.9 L516.7,517.7 L517.7,518.4 L518.6,519.1 L519.6,519.6 L520.6,520.1 L521.6,520.6 L522.6,521.0 L523.6,521.3 L524.6,521.7 L525.6,522.0 L526.6,522.3 L527.6,522.7 L528.6,523.0 L529.6,523.3 L530.6,523.6 L531.6,523.9 L532.6,524.2 L533.6,524.5 L534.6,524.7 L535.6,524.9 L536.6,525.1 L537.7,525.2 L538.7,525.3 L539.7,525.4 L540.7,525.5 L541.7,525.6 L542.7,525.7 L543.7,525.8 L544.8,525.9 L545.8,526.0 L546.8,526.0 L547.8,526.1 L548.8,526.1 L549.8,526.0 L550.7,525.9 L551.7,525.7 L552.7,525.5 L553.6,525.3 L554.6,525.0 L555.6,524.7 L556.6,524.4 L557.5,524.2 L558.5,524.0 L559.5,523.7 L560.5,523.3 L561.5,522.8 L562.5,522.2 L563.6,521.6 L564.6,520.9 L565.6,520.2 L566.6,519.6" fill="none" stroke="#4472c4" stroke-width="1" stroke-linejoin="round"/><path d="M21.0,540.1 L22.0,540.1 L23.0,540.2 L24.0,540.3 L25.0,540.4 L26.0,540.5 L27.0,540.6 L28.0,540.7 L29.0,540.7 L30.0,540.7 L31.0,540.7 L32.0,540.7 L33.0,540.6 L34.0,540.6 L35.0,540.6 L36.0,540.6 L37.0,540.6 L38.0,540.6 L39.0,540.6 L40.0,540.7 L41.0,540.7 L42.0,540.6 L43.0,540.6 L44.0,540.5 L45.0,540.5 L46.0,540.4 L47.0,540.3 L48.0,540.3 L49.0,540.3 L50.0,540.3 L51.0,540.3 L52.0,540.4 L53.0,540.5 L54.0,540.6 L55.0,540.7 L56.0,540.7 L57.0,540.8 L58.0,540.7 L59.0,540.7 L60.0,540.6 L61.0,540.5 L62.0,540.4 L63.0,540.3 L64.0,540.3 L65.0,540.2 L66.0,540.1 L67.0,540.1 L68.0,540.1 L69.0,540.0 L70.0,539.9 L71.0,539.8 L72.0,539.7 L73.0,539.6 L74.0,539.4 L75.0,539.3 L76.0,539.1 L77.0,539.0 L78.0,538.9 L79.0,538.9 L80.0,538.9 L81.0,538.9 L82.0,538.9 L83.0,538.8 L84.0,538.8 L85.0,538.7 L86.0,538.6 L87.0,538.4 L88.0,538.2 L89.0,538.0 L90.0,537.7 L91.0,537.5 L92.0,537.2 L93.0,537.0 L94.0,536.7 L95.0,536.5 L96.0,536.3 L97.0,536.1 L98.0,535.9 L99.0,535.7 L100.0,535.5 L101.0,535.3 L102.0,535.1 L103.0,534.9 L104.0,534.6 L105.0,534.4 L106.0,534.2 L107.0,534.0 L108.0,533.7 L109.0,533.4 L110.0,533.0 L111.0,532.6 L112.0,532.0 L113.0,531.3 L114.0,530.6 L115.0,529.9 L116.0,529.0 L117.0,528.0 L118.0,526.9 L119.0,525.7 L120.0,524.6 L121.1,523.4 L122.2,522.1 L123.3,521.0 L124.4,520.0 L125.5,519.1 L126.6,518.3 L127.7,517.6 L128.8,516.9 L129.9,516.3 L130.9,515.7 L132.0,515.2 L133.1,514.5 L134.2,513.5 L135.3,512.4 L136.4,511.1 L137.5,509.7 L138.6,508.2 L139.6,506.6 L140.7,504.7 L141.7,502.7 L142.8,500.6 L143.9,498.1 L144.9,495.3 L146.0,492.3 L147.1,489.1 L148.0,486.4 L148.8,483.4 L149.7,480.4 L150.6,477.5 L151.5,474.7 L152.3,471.9 L153.2,469.0 L154.1,466.1 L155.2,461.9 L156.2,457.5 L157.3,454.0 L158.3,451.6 L159.3,449.2 L160.3,447.0 L161.2,445.1 L162.2,443.4 L163.2,442.1 L164.2,441.3 L165.2,440.8 L166.3,440.4 L167.3,440.2 L168.4,440.2 L169.3,440.5 L170.2,441.1 L171.1,441.9 L172.0,442.7 L172.9,443.9 L173.8,445.2 L174.8,446.6 L175.7,448.3 L176.6,450.1 L177.5,452.3 L178.5,455.1 L179.4,458.4 L180.3,461.9 L181.3,465.6 L182.2,469.2 L183.2,473.4 L184.2,478.1 L185.2,482.8 L186.3,487.4 L187.3,491.6 L188.3,494.9 L189.3,497.6 L190.3,500.0 L191.3,502.3 L192.3,504.4 L193.3,506.4 L194.3,508.2 L195.3,510.0 L196.3,511.8 L197.3,513.5 L198.3,515.2 L199.2,516.7 L200.2,518.1 L201.2,519.3 L202.2,520.2 L203.1,521.0 L204.0,521.5 L204.9,522.1 L205.9,522.5 L206.8,522.9 L207.7,523.4 L208.6,523.8 L209.6,524.3 L210.5,524.7 L211.4,525.2 L212.4,525.6 L213.3,526.1 L214.3,526.7 L215.3,527.4 L216.3,528.1 L217.2,528.8 L218.2,529.4 L219.2,529.8 L220.2,530.1 L221.1,530.2 L222.1,530.4 L223.0,530.6 L223.9,530.8 L224.9,530.9 L225.8,531.0 L226.7,531.1 L227.6,531.0 L228.6,530.9 L229.5,530.8 L230.4,530.7 L231.3,530.6 L232.3,530.7 L233.3,531.0 L234.3,531.3 L235.2,531.8 L236.2,532.2 L237.2,532.6 L238.2,533.0 L239.2,533.3 L240.3,533.6 L241.3,533.9 L242.4,534.2 L243.4,534.4 L244.5,534.7 L245.5,534.9 L246.6,535.1 L247.6,535.3 L248.6,535.5 L249.6,535.8 L250.5,536.0 L251.5,536.2 L252.5,536.4 L253.5,536.5 L254.4,536.6 L255.4,536.7 L256.4,536.8 L257.3,536.8 L258.3,536.6 L259.2,536.2 L260.2,535.5 L261.1,534.7 L262.1,533.8 L263.0,532.9 L264.0,532.0 L265.0,531.2 L266.0,530.2 L267.0,529.3 L268.0,528.6 L269.0,528.3 L270.0,528.4 L271.0,528.5 L272.0,528.7 L273.0,528.9 L274.0,529.1 L275.0,529.5 L275.9,530.1 L276.9,530.9 L277.8,531.8 L278.8,532.7 L279.7,533.5 L280.7,534.2 L281.7,534.7 L282.7,535.3 L283.7,535.8 L284.6,536.4 L285.6,536.9 L286.6,537.3 L287.6,537.8 L288.6,538.1 L289.6,538.5 L290.6,538.7 L291.6,539.0 L292.5,539.1 L293.5,539.3 L294.5,539.5 L295.5,539.6 L296.5,539.8 L297.5,540.0 L298.4,540.2 L299.4,540.4 L300.4,540.6 L301.4,540.8 L302.3,541.0 L303.3,541.2 L304.3,541.3 L305.3,541.4 L306.2,541.5 L307.2,541.6 L308.2,541.7 L309.2,541.8 L310.1,541.9 L311.1,542.0 L312.1,542.1 L313.1,542.1 L314.1,542.2 L315.0,542.2 L316.0,542.1 L317.0,542.0 L318.0,541.9 L318.9,541.7 L319.9,541.5 L320.9,541.2 L321.9,540.9 L322.8,540.7 L323.8,540.4 L324.8,540.2 L325.8,540.1 L326.7,539.9 L327.7,539.8 L328.7,539.7 L329.7,539.6 L330.7,539.4 L331.6,539.3 L332.6,539.2 L333.6,539.0 L334.6,538.8 L335.6,538.7 L336.6,538.5 L337.5,538.4 L338.5,538.3 L339.5,538.2 L340.5,538.1 L341.5,538.0 L342.5,537.9 L343.4,537.8 L344.4,537.6 L345.4,537.4 L346.4,537.2 L347.4,536.9 L348.4,536.6 L349.3,536.2 L350.3,535.8 L351.3,535.5 L352.3,535.1 L353.3,534.7 L354.3,534.4 L355.3,534.0 L356.2,533.7 L357.2,533.4 L358.2,533.1 L359.2,532.8 L360.2,532.4 L361.3,531.9 L362.4,531.3 L363.4,530.6 L364.4,530.1 L365.5,529.6 L366.6,529.3 L367.6,529.2 L368.6,529.4 L369.7,529.9 L370.7,530.5 L371.8,531.3 L372.8,532.2 L373.8,533.0 L374.9,533.9 L375.9,534.6 L376.9,535.4 L378.0,536.3 L379.0,537.3 L380.0,538.4 L381.1,539.3 L382.1,540.2 L383.2,540.7 L384.2,541.0 L385.2,541.0 L386.1,540.9 L387.1,540.9 L388.1,540.8 L389.0,540.8 L390.0,540.8 L391.0,540.8 L392.1,541.0 L393.1,541.2 L394.1,541.4 L395.2,541.7 L396.2,541.9 L397.3,542.2 L398.3,542.3 L399.3,542.3 L400.4,542.1 L401.4,541.8 L402.5,541.5 L403.5,541.1 L404.5,540.7 L405.6,540.4 L406.6,540.2 L407.6,540.1 L408.6,540.1 L409.6,540.0 L410.6,540.1 L411.6,540.1 L412.7,540.2 L413.7,540.3 L414.7,540.5 L415.7,540.6 L416.7,540.7 L417.7,540.8 L418.7,540.6 L419.7,539.9 L420.7,539.0 L421.7,537.8 L422.7,536.5 L423.7,535.1 L424.7,533.9 L425.7,532.6 L426.7,531.2 L427.7,529.7 L428.6,528.1 L429.6,526.5 L430.6,524.8 L431.6,523.1 L432.6,521.2 L433.5,518.9 L434.4,517.0 L435.4,516.2 L436.4,516.2 L437.4,516.4 L438.4,516.7 L439.4,517.1 L440.5,517.7 L441.5,518.2 L442.5,518.7 L443.5,519.2 L444.5,519.6 L445.6,520.1 L446.6,520.5 L447.6,520.9 L448.6,521.3 L449.7,521.7 L450.7,522.0 L451.7,522.2 L452.7,522.4 L453.8,522.6 L454.8,522.6 L455.8,522.6 L456.8,522.5 L457.8,522.4 L458.8,522.1 L459.8,521.8 L460.8,521.3 L461.8,520.8 L462.8,520.3 L463.8,519.7 L464.8,519.1 L465.8,518.5 L466.8,518.0 L467.8,517.5 L468.8,517.1 L469.8,516.8 L470.8,516.4 L471.8,516.1 L472.8,515.9 L473.8,515.6 L474.7,515.3 L475.7,515.0 L476.7,514.6 L477.7,514.2 L478.7,513.8 L479.7,513.4 L480.7,512.9 L481.7,512.4 L482.7,511.7 L483.7,511.0 L484.7,510.3 L485.7,509.5 L486.7,508.7 L487.7,507.9 L488.7,507.2 L489.7,506.5 L490.7,505.9 L491.7,505.4 L492.7,505.0 L493.7,504.8 L494.7,504.8 L495.7,505.0 L496.7,505.5 L497.8,506.1 L498.8,506.8 L499.8,507.7 L500.8,508.6 L501.8,509.5 L502.8,510.6 L503.7,511.8 L504.7,513.1 L505.7,514.6 L506.6,516.1 L507.6,517.6 L508.6,519.1 L509.6,520.4 L510.5,521.6 L511.5,522.6 L512.5,523.6 L513.6,524.6 L514.6,525.6 L515.6,526.5 L516.7,527.4 L517.7,528.2 L518.8,528.9 L519.8,529.5 L520.8,530.0 L521.9,530.4 L522.9,530.6 L523.9,530.8 L524.9,531.0 L526.0,531.1 L527.0,531.4 L528.0,531.6 L529.0,531.8 L530.0,532.1 L531.1,532.4 L532.1,532.6 L533.1,532.8 L534.1,533.0 L535.2,533.2 L536.2,533.3 L537.2,533.4 L538.2,533.6 L539.2,533.7 L540.3,533.8 L541.3,533.9 L542.3,534.1 L543.3,534.3 L544.3,534.4 L545.3,534.6 L546.3,534.8 L547.4,534.9 L548.4,535.0 L549.4,535.1 L550.4,535.1 L551.4,535.1 L552.4,535.1 L553.4,535.1 L554.5,535.1 L555.5,535.2 L556.5,535.2 L557.5,535.3 L558.5,535.4 L559.5,535.4 L560.5,535.4 L561.5,535.4 L562.5,535.3 L563.6,535.2 L564.6,535.0 L565.6,534.9 L566.6,534.7" fill="none" stroke="#f5a243" stroke-width="1" stroke-linejoin="round"/><path d="M21.0,553.0 L22.0,552.9 L23.0,552.9 L24.0,552.8 L25.0,552.7 L26.0,552.6 L27.0,552.5 L28.0,552.5 L29.0,552.4 L30.0,552.4 L31.0,552.4 L32.0,552.4 L33.0,552.5 L34.0,552.6 L35.0,552.7 L36.0,552.7 L37.0,552.8 L38.0,552.8 L39.0,552.8 L40.0,552.8 L41.0,552.7 L42.0,552.6 L43.0,552.6 L44.0,552.5 L45.0,552.4 L46.0,552.4 L47.0,552.4 L48.0,552.4 L49.0,552.4 L50.0,552.4 L51.0,552.3 L52.0,552.3 L53.0,552.2 L54.0,552.2 L55.0,552.1 L56.0,552.0 L57.0,551.9 L58.0,551.8 L59.0,551.8 L60.0,551.8 L61.0,551.9 L62.0,551.9 L63.0,552.0 L64.0,552.1 L65.0,552.2 L66.0,552.2 L67.0,552.2 L68.0,552.2 L69.0,552.1 L70.0,552.1 L71.0,552.0 L72.0,551.9 L73.0,551.8 L74.0,551.7 L75.0,551.7 L76.0,551.6 L77.0,551.6 L78.0,551.6 L79.0,551.6 L80.0,551.5 L81.0,551.4 L82.0,551.3 L83.0,551.2 L84.0,551.1 L85.0,550.9 L86.0,550.8 L87.0,550.7 L88.0,550.6 L89.0,550.5 L90.0,550.4 L91.0,550.4 L92.0,550.4 L93.0,550.4 L94.0,550.3 L95.0,550.2 L96.0,550.1 L97.0,550.0 L98.0,549.8 L99.0,549.6 L100.0,549.4 L101.0,549.3 L102.0,549.1 L103.0,548.9 L104.0,548.8 L105.0,548.6 L106.0,548.5 L107.0,548.4 L108.0,548.2 L109.0,548.1 L110.0,547.9 L111.0,547.6 L112.0,547.3 L113.0,547.0 L114.0,546.6 L115.0,546.1 L116.0,545.6 L117.0,544.9 L118.0,544.1 L119.0,543.4 L120.0,542.8 L121.0,542.3 L122.0,541.8 L123.0,541.3 L124.0,540.8 L125.0,540.2 L126.0,539.5 L127.0,538.6 L128.0,537.8 L129.0,536.9 L130.0,536.3 L131.0,535.7 L132.0,535.3 L133.0,534.9 L134.0,534.5 L135.0,534.2 L136.0,534.0 L137.0,533.8 L138.0,533.5 L139.0,532.8 L140.0,531.9 L141.0,530.7 L142.0,529.3 L143.0,527.8 L144.0,526.0 L145.0,524.0 L146.0,521.8 L147.0,519.3 L148.0,516.4 L149.0,513.3 L150.0,510.1 L151.0,506.8 L152.0,503.3 L153.0,499.7 L154.0,496.0 L155.0,492.3 L156.1,488.0 L157.2,483.5 L158.3,479.4 L159.4,476.2 L160.3,474.3 L161.2,472.7 L162.1,471.4 L163.0,470.4 L164.0,469.5 L165.0,468.7 L166.0,468.2 L167.0,467.9 L167.9,468.0 L168.8,468.3 L169.8,468.7 L170.7,469.2 L171.6,469.8 L172.5,470.5 L173.4,471.6 L174.3,473.3 L175.2,475.4 L176.2,477.9 L177.1,480.6 L178.0,483.2 L178.9,486.2 L179.9,489.5 L180.8,493.1 L181.7,496.6 L182.7,500.0 L183.6,502.9 L184.5,505.6 L185.5,508.2 L186.4,510.8 L187.3,513.2 L188.3,515.5 L189.2,517.6 L190.2,519.5 L191.1,521.2 L192.1,522.7 L193.0,524.2 L194.0,525.5 L195.0,526.8 L195.9,528.0 L196.9,529.1 L197.9,530.2 L198.9,531.1 L199.8,532.0 L200.8,532.9 L201.8,533.7 L202.8,534.6 L203.8,535.3 L204.7,536.1 L205.7,536.8 L206.7,537.5 L207.7,538.1 L208.7,538.7 L209.6,539.3 L210.6,539.8 L211.6,540.2 L212.6,540.6 L213.5,541.0 L214.5,541.3 L215.5,541.5 L216.4,541.8 L217.4,542.0 L218.5,542.3 L219.5,542.5 L220.6,542.8 L221.6,543.1 L222.7,543.3 L223.7,543.6 L224.8,543.9 L225.8,544.1 L226.8,544.4 L227.7,544.7 L228.7,545.0 L229.7,545.4 L230.7,545.7 L231.6,546.1 L232.6,546.4 L233.6,546.7 L234.5,546.9 L235.5,547.1 L236.5,547.1 L237.5,547.1 L238.5,547.0 L239.4,546.9 L240.4,546.8 L241.4,546.7 L242.4,546.5 L243.3,546.5 L244.3,546.4 L245.2,546.4 L246.2,546.3 L247.2,546.3 L248.1,546.3 L249.1,546.3 L250.0,546.3 L251.0,546.3 L252.0,546.3 L253.0,546.3 L254.0,546.3 L255.0,546.2 L256.0,546.1 L257.0,546.0 L258.0,545.9 L259.0,545.4 L260.0,544.4 L261.0,543.1 L262.0,541.7 L263.0,540.4 L264.0,539.4 L265.0,538.8 L266.0,538.6 L267.0,538.4 L268.0,538.2 L269.0,538.0 L270.0,537.8 L271.0,537.6 L272.0,537.5 L273.0,537.5 L274.0,537.7 L275.0,538.2 L276.0,538.7 L277.0,539.4 L278.0,540.1 L279.0,540.8 L280.0,541.4 L281.0,542.1 L282.0,542.7 L283.0,543.4 L284.0,544.0 L285.0,544.7 L286.0,545.3 L287.0,545.9 L288.0,546.4 L289.0,546.9 L290.0,547.4 L291.0,547.8 L292.0,548.2 L293.0,548.6 L294.0,549.0 L295.0,549.4 L296.0,549.7 L297.0,550.0 L298.0,550.3 L299.0,550.5 L300.0,550.7 L301.0,551.0 L302.1,551.2 L303.1,551.5 L304.1,551.8 L305.2,552.1 L306.2,552.4 L307.2,552.6 L308.3,552.8 L309.3,552.9 L310.3,553.0 L311.3,553.0 L312.3,553.0 L313.3,552.9 L314.3,552.8 L315.4,552.7 L316.4,552.6 L317.4,552.5 L318.4,552.4 L319.4,552.3 L320.4,552.3 L321.4,552.2 L322.4,552.2 L323.4,552.1 L324.4,552.0 L325.4,551.8 L326.4,551.7 L327.4,551.4 L328.3,551.1 L329.3,550.8 L330.3,550.5 L331.3,550.1 L332.3,549.8 L333.3,549.5 L334.3,549.3 L335.3,549.0 L336.3,548.8 L337.2,548.6 L338.2,548.5 L339.2,548.3 L340.2,548.1 L341.1,547.9 L342.1,547.7 L343.1,547.5 L344.1,547.2 L345.0,546.9 L346.0,546.7 L347.0,546.4 L348.0,546.2 L348.9,546.0 L349.9,545.7 L350.9,545.5 L351.9,545.3 L352.9,545.0 L353.9,544.7 L354.9,544.4 L355.9,544.0 L357.0,543.6 L358.0,543.1 L359.0,542.6 L360.0,542.1 L361.0,541.5 L362.0,541.0 L363.0,540.4 L364.0,539.6 L365.0,538.9 L366.0,538.1 L367.0,537.6 L368.0,537.2 L369.0,537.0 L370.0,537.3 L371.0,537.8 L372.0,538.5 L372.9,539.4 L373.9,540.3 L374.9,541.2 L375.9,542.0 L376.9,542.7 L377.9,543.6 L378.9,544.4 L379.9,545.4 L380.9,546.3 L382.0,547.1 L383.0,547.9 L384.0,548.6 L385.0,549.1 L386.0,549.5 L387.0,549.6 L388.0,549.6 L389.0,549.6 L390.0,549.6 L391.0,549.9 L392.1,550.4 L393.1,551.0 L394.1,551.8 L395.2,552.6 L396.2,553.3 L397.3,553.7 L398.3,554.0 L399.3,553.9 L400.4,553.7 L401.4,553.4 L402.5,553.0 L403.5,552.6 L404.5,552.2 L405.6,552.0 L406.6,551.9 L407.6,552.0 L408.6,552.2 L409.6,552.4 L410.6,552.6 L411.6,552.8 L412.7,553.0 L413.7,553.1 L414.7,553.3 L415.7,553.3 L416.7,553.3 L417.7,553.2 L418.7,552.9 L419.7,552.2 L420.7,551.1 L421.7,549.9 L422.7,548.7 L423.7,547.3 L424.7,546.1 L425.7,544.8 L426.7,543.3 L427.7,541.7 L428.6,540.0 L429.6,538.3 L430.6,536.7 L431.6,535.3 L432.5,534.1 L433.4,532.8 L434.4,531.7 L435.3,530.7 L436.2,530.0 L437.1,529.8 L438.1,529.9 L439.1,530.1 L440.0,530.3 L441.0,530.5 L442.0,530.8 L443.0,531.0 L444.1,531.3 L445.1,531.6 L446.1,532.0 L447.2,532.4 L448.2,532.9 L449.1,533.8 L450.1,535.0 L451.0,536.4 L451.9,537.8 L452.9,538.8 L453.8,539.2 L454.8,539.2 L455.9,539.0 L456.9,538.7 L458.0,538.2 L459.0,537.6 L460.0,537.1 L461.1,536.5 L462.1,535.9 L463.1,535.4 L464.1,534.9 L465.1,534.4 L466.1,533.9 L467.0,533.3 L468.0,532.9 L469.0,532.4 L470.0,532.1 L471.1,531.7 L472.1,531.4 L473.2,531.1 L474.3,530.7 L475.3,530.3 L476.3,529.9 L477.3,529.5 L478.3,529.1 L479.3,528.7 L480.3,528.4 L481.2,528.1 L482.2,527.8 L483.2,527.4 L484.2,527.1 L485.2,526.8 L486.2,526.4 L487.2,526.0 L488.3,525.4 L489.4,524.7 L490.4,524.0 L491.5,523.3 L492.6,522.8 L493.7,522.7 L494.7,522.8 L495.6,523.2 L496.6,523.7 L497.6,524.4 L498.5,525.2 L499.5,526.0 L500.5,526.8 L501.5,527.6 L502.4,528.3 L503.4,529.0 L504.4,529.8 L505.4,530.6 L506.4,531.6 L507.4,532.6 L508.5,533.7 L509.5,534.9 L510.5,536.1 L511.5,537.3 L512.5,538.5 L513.5,539.6 L514.5,540.7 L515.5,541.6 L516.6,542.4 L517.6,543.0 L518.6,543.5 L519.6,543.8 L520.6,544.0 L521.6,544.2 L522.6,544.4 L523.5,544.7 L524.5,544.9 L525.5,545.1 L526.5,545.3 L527.5,545.5 L528.5,545.6 L529.5,545.7 L530.5,545.7 L531.4,545.8 L532.4,545.8 L533.4,545.8 L534.4,545.9 L535.4,545.9 L536.4,546.0 L537.4,546.1 L538.4,546.2 L539.3,546.4 L540.3,546.6 L541.3,546.8 L542.3,546.9 L543.3,547.1 L544.3,547.2 L545.3,547.3 L546.3,547.4 L547.4,547.5 L548.4,547.5 L549.4,547.6 L550.4,547.6 L551.4,547.7 L552.4,547.8 L553.4,547.9 L554.5,548.0 L555.5,548.1 L556.5,548.1 L557.5,548.2 L558.5,548.2 L559.5,548.2 L560.5,548.1 L561.5,548.1 L562.5,548.1 L563.6,548.1 L564.6,548.1 L565.6,548.2 L566.6,548.3" fill="none" stroke="#f05a2a" stroke-width="1" stroke-linejoin="round"/><path d="M21.0,564.6 L22.0,564.5 L23.0,564.5 L24.0,564.5 L25.0,564.4 L26.0,564.4 L27.0,564.4 L28.0,564.4 L29.0,564.5 L30.0,564.6 L31.0,564.6 L32.0,564.7 L33.0,564.7 L34.0,564.7 L35.0,564.7 L36.0,564.6 L37.0,564.6 L38.0,564.4 L39.0,564.3 L40.0,564.2 L41.0,564.1 L42.0,564.0 L43.0,564.0 L44.0,564.0 L45.0,564.0 L46.0,564.0 L47.0,564.1 L48.0,564.1 L49.0,564.1 L50.0,564.1 L51.0,564.1 L52.0,564.1 L53.0,564.1 L54.0,564.1 L55.0,564.0 L56.0,564.1 L57.0,564.1 L58.0,564.1 L59.0,564.2 L60.0,564.2 L61.0,564.3 L62.0,564.3 L63.0,564.3 L64.0,564.3 L65.0,564.2 L66.0,564.1 L67.0,564.0 L68.0,563.9 L69.0,563.8 L70.0,563.7 L71.0,563.6 L72.0,563.6 L73.0,563.6 L74.0,563.6 L75.0,563.6 L76.0,563.7 L77.0,563.7 L78.0,563.8 L79.0,563.8 L80.0,563.7 L81.0,563.7 L82.0,563.7 L83.0,563.7 L84.0,563.6 L85.0,563.6 L86.0,563.7 L87.0,563.7 L88.0,563.7 L89.0,563.8 L90.0,563.8 L91.0,563.8 L92.0,563.8 L93.0,563.8 L94.0,563.7 L95.0,563.6 L96.0,563.4 L97.0,563.3 L98.0,563.2 L99.0,563.1 L100.0,563.0 L101.0,563.0 L102.0,563.0 L103.0,563.0 L104.0,563.0 L105.0,563.0 L106.0,563.1 L107.0,563.1 L108.0,563.1 L109.0,563.1 L110.0,563.0 L111.0,562.9 L112.0,562.8 L113.0,562.7 L114.0,562.5 L115.0,562.3 L116.0,562.1 L117.0,561.9 L118.0,561.7 L119.0,561.4 L120.0,561.1 L121.0,560.8 L122.0,560.4 L123.0,559.9 L124.0,559.5 L125.0,559.0 L126.0,558.5 L127.0,558.0 L128.0,557.4 L129.0,556.9 L130.0,556.4 L131.0,555.8 L132.0,555.3 L133.0,554.7 L134.0,554.1 L135.0,553.5 L136.0,552.9 L137.0,552.2 L138.0,551.5 L139.0,550.8 L140.0,550.0 L141.0,549.2 L142.1,548.4 L143.1,547.6 L144.1,546.8 L145.2,545.9 L146.2,544.9 L147.2,543.9 L148.2,542.8 L149.3,541.6 L150.3,540.3 L151.4,538.6 L152.4,536.6 L153.4,534.3 L154.5,531.8 L155.6,529.2 L156.6,526.6 L157.6,524.1 L158.7,521.7 L159.6,519.6 L160.5,517.3 L161.4,515.1 L162.4,512.9 L163.3,511.1 L164.2,509.5 L165.2,507.9 L166.3,506.4 L167.3,505.3 L168.4,504.9 L169.4,505.1 L170.4,505.6 L171.4,506.5 L172.3,507.5 L173.3,508.7 L174.3,510.0 L175.3,511.2 L176.3,512.5 L177.4,513.9 L178.4,515.5 L179.4,517.2 L180.4,519.2 L181.4,521.4 L182.4,523.8 L183.5,526.3 L184.5,528.6 L185.5,530.7 L186.4,532.5 L187.4,534.4 L188.3,536.1 L189.2,537.8 L190.2,539.3 L191.1,540.6 L192.1,541.7 L193.1,542.6 L194.1,543.5 L195.0,544.2 L196.0,544.9 L197.0,545.6 L198.0,546.4 L199.1,547.3 L200.1,548.3 L201.1,549.2 L202.2,549.8 L203.2,550.2 L204.2,550.6 L205.2,550.9 L206.1,551.2 L207.1,551.5 L208.1,551.7 L209.1,551.8 L210.1,552.0 L211.1,552.1 L212.0,552.2 L213.0,552.3 L214.0,552.5 L215.0,552.7 L216.0,552.9 L217.0,553.2 L218.0,553.5 L219.0,553.8 L220.0,554.1 L221.0,554.5 L222.0,554.8 L223.0,555.1 L224.0,555.3 L225.0,555.6 L226.0,555.8 L227.0,556.0 L228.0,556.2 L229.0,556.4 L230.0,556.7 L231.0,556.9 L232.0,557.2 L233.0,557.5 L234.0,557.7 L235.0,557.9 L236.0,558.2 L237.0,558.4 L238.0,558.5 L239.0,558.6 L240.0,558.7 L241.0,558.9 L242.0,559.0 L243.0,559.2 L244.0,559.4 L245.0,559.6 L246.0,559.9 L247.0,560.1 L248.0,560.3 L249.0,560.5 L250.0,560.6 L251.0,560.7 L252.0,560.7 L253.0,560.7 L254.0,560.6 L255.0,560.5 L256.0,560.3 L257.0,560.1 L258.0,560.0 L259.0,559.6 L260.0,558.9 L261.0,558.1 L262.0,557.0 L263.0,556.0 L264.0,555.0 L265.0,554.2 L266.0,553.4 L267.0,552.5 L268.0,551.6 L269.0,550.8 L270.0,550.1 L271.0,549.6 L272.0,549.4 L273.0,549.4 L274.0,549.5 L275.0,549.8 L276.0,550.1 L277.0,550.5 L278.0,550.9 L279.0,551.4 L280.0,551.9 L281.0,552.4 L282.0,552.9 L283.0,553.3 L284.0,553.7 L285.0,554.1 L286.1,554.6 L287.1,555.2 L288.1,555.8 L289.2,556.5 L290.2,557.3 L291.3,558.0 L292.4,558.7 L293.4,559.4 L294.4,559.9 L295.5,560.3 L296.5,560.6 L297.5,560.8 L298.5,561.0 L299.5,561.2 L300.5,561.4 L301.6,561.6 L302.6,561.8 L303.6,562.1 L304.6,562.4 L305.6,562.7 L306.6,563.0 L307.6,563.3 L308.6,563.6 L309.6,563.8 L310.5,564.1 L311.5,564.3 L312.5,564.5 L313.5,564.7 L314.5,564.8 L315.5,564.9 L316.5,565.1 L317.4,565.2 L318.4,565.3 L319.4,565.4 L320.4,565.4 L321.4,565.4 L322.3,565.2 L323.3,564.9 L324.2,564.5 L325.2,564.0 L326.2,563.5 L327.1,563.0 L328.1,562.5 L329.0,562.0 L330.0,561.7 L331.0,561.3 L332.0,561.1 L333.0,560.8 L334.0,560.6 L335.0,560.5 L336.1,560.3 L337.1,560.1 L338.1,559.8 L339.1,559.6 L340.1,559.3 L341.1,558.9 L342.1,558.5 L343.1,558.0 L344.1,557.6 L345.2,557.1 L346.2,556.6 L347.2,556.1 L348.2,555.6 L349.2,555.1 L350.2,554.5 L351.2,554.0 L352.3,553.4 L353.3,552.9 L354.3,552.3 L355.3,551.7 L356.4,551.1 L357.4,550.5 L358.4,549.9 L359.4,549.3 L360.5,548.8 L361.5,548.2 L362.5,547.6 L363.5,546.8 L364.4,546.0 L365.4,545.4 L366.4,545.2 L367.3,545.3 L368.2,545.6 L369.1,545.9 L370.0,546.2 L371.0,546.8 L372.0,547.7 L373.1,548.7 L374.1,549.9 L375.1,551.1 L376.1,552.3 L377.1,553.5 L378.1,554.8 L379.0,556.2 L380.0,557.4 L381.0,558.4 L382.0,559.2 L383.1,560.0 L384.1,560.8 L385.1,561.5 L386.1,562.1 L387.2,562.5 L388.2,562.8 L389.2,563.0 L390.2,563.2 L391.1,563.4 L392.1,563.6 L393.1,563.9 L394.1,564.1 L395.1,564.2 L396.1,564.4 L397.1,564.5 L398.0,564.5 L399.0,564.5 L400.0,564.5 L401.0,564.5 L402.0,564.4 L403.0,564.4 L404.0,564.4 L405.0,564.4 L406.0,564.4 L407.0,564.4 L408.0,564.4 L409.0,564.5 L409.9,564.5 L410.9,564.6 L411.9,564.6 L412.9,564.7 L413.8,564.7 L414.8,564.7 L415.8,564.7 L416.7,564.8 L417.7,564.8 L418.7,564.6 L419.7,564.0 L420.7,563.2 L421.7,562.1 L422.7,561.0 L423.7,560.0 L424.7,559.1 L425.7,558.3 L426.7,557.4 L427.7,556.6 L428.6,555.7 L429.6,554.9 L430.6,554.1 L431.6,553.3 L432.6,552.6 L433.6,551.8 L434.6,551.0 L435.5,550.2 L436.5,549.7 L437.5,549.3 L438.5,549.1 L439.6,549.1 L440.6,549.2 L441.6,549.4 L442.7,549.6 L443.7,550.0 L444.8,550.8 L445.8,551.6 L446.8,552.3 L447.8,553.0 L448.8,553.7 L449.8,554.5 L450.8,555.2 L451.8,555.7 L452.8,556.1 L453.8,556.3 L454.8,556.3 L455.9,556.2 L456.9,556.0 L458.0,555.7 L459.0,555.5 L460.0,555.2 L461.1,554.9 L462.1,554.7 L463.1,554.4 L464.1,554.2 L465.1,554.0 L466.1,553.7 L467.0,553.4 L468.0,553.1 L469.0,552.8 L470.0,552.5 L471.0,552.2 L472.0,551.9 L473.0,551.6 L474.0,551.3 L475.0,551.1 L476.0,550.9 L477.0,550.7 L478.0,550.5 L479.0,550.3 L480.0,550.1 L481.0,549.9 L482.0,549.6 L482.9,549.2 L483.9,548.7 L484.9,548.2 L485.9,547.7 L486.9,547.1 L487.8,546.6 L488.8,546.1 L489.8,545.7 L490.8,545.4 L491.7,545.1 L492.7,545.0 L493.7,544.9 L494.7,545.0 L495.7,545.3 L496.7,545.6 L497.8,546.1 L498.8,546.6 L499.8,547.3 L500.8,547.9 L501.8,548.7 L502.8,549.5 L503.8,550.3 L504.8,551.1 L505.8,552.0 L506.9,552.8 L507.9,553.6 L508.9,554.3 L509.9,554.9 L510.9,555.5 L511.9,556.0 L512.9,556.4 L513.9,556.9 L514.9,557.3 L515.9,557.6 L516.9,557.9 L517.9,558.3 L518.9,558.6 L519.9,558.8 L520.9,559.1 L521.9,559.3 L522.9,559.5 L523.9,559.7 L524.9,559.8 L526.0,559.9 L527.0,560.0 L528.0,560.1 L529.0,560.1 L530.0,560.2 L531.1,560.2 L532.1,560.3 L533.1,560.4 L534.1,560.5 L535.2,560.6 L536.2,560.8 L537.2,561.0 L538.2,561.1 L539.2,561.3 L540.3,561.4 L541.3,561.5 L542.3,561.5 L543.3,561.5 L544.3,561.5 L545.3,561.5 L546.3,561.5 L547.4,561.5 L548.4,561.5 L549.4,561.6 L550.4,561.6 L551.4,561.7 L552.4,561.8 L553.4,561.9 L554.5,562.0 L555.5,562.0 L556.5,562.1 L557.5,562.1 L558.5,562.1 L559.5,562.1 L560.5,562.2 L561.5,562.3 L562.5,562.4 L563.6,562.5 L564.6,562.7 L565.6,562.8 L566.6,563.0" fill="none" stroke="#5aa9c0" stroke-width="1" stroke-linejoin="round"/><path d="M21.0,576.4 L22.0,576.4 L23.0,576.4 L24.0,576.4 L25.0,576.4 L26.0,576.4 L27.0,576.5 L28.0,576.5 L29.0,576.5 L30.0,576.5 L31.0,576.5 L32.0,576.5 L33.0,576.4 L34.0,576.3 L35.0,576.3 L36.0,576.2 L37.0,576.1 L38.0,576.1 L39.0,576.1 L40.0,576.2 L41.0,576.2 L42.0,576.3 L43.0,576.4 L44.0,576.5 L45.0,576.6 L46.0,576.7 L47.0,576.7 L48.0,576.7 L49.0,576.7 L50.0,576.7 L51.0,576.7 L52.0,576.7 L53.0,576.7 L54.0,576.7 L55.0,576.7 L56.0,576.7 L57.0,576.8 L58.0,576.8 L59.0,576.8 L60.0,576.8 L61.0,576.7 L62.0,576.7 L63.0,576.6 L64.0,576.5 L65.0,576.4 L66.0,576.4 L67.0,576.4 L68.0,576.4 L69.0,576.4 L70.0,576.5 L71.0,576.6 L72.0,576.7 L73.0,576.8 L74.0,576.9 L75.0,577.0 L76.0,577.0 L77.0,577.0 L78.0,577.0 L79.0,576.9 L80.0,576.9 L81.0,576.9 L82.0,576.8 L83.0,576.8 L84.0,576.9 L85.0,576.9 L86.0,576.9 L87.0,576.9 L88.0,576.9 L89.0,576.9 L90.0,576.8 L91.0,576.8 L92.0,576.7 L93.0,576.6 L94.0,576.5 L95.0,576.5 L96.1,576.5 L97.1,576.5 L98.1,576.5 L99.1,576.6 L100.1,576.7 L101.1,576.8 L102.1,576.9 L103.1,577.0 L104.1,577.0 L105.1,577.0 L106.1,577.0 L107.2,577.0 L108.2,576.9 L109.2,576.9 L110.2,576.9 L111.2,576.8 L112.2,576.8 L113.2,576.8 L114.2,576.6 L115.2,576.4 L116.1,576.0 L117.1,575.6 L118.1,575.0 L119.1,574.5 L120.1,573.9 L121.1,573.2 L122.1,572.7 L123.0,572.1 L124.0,571.6 L125.0,571.3 L126.0,571.0 L127.0,570.8 L128.0,570.7 L128.9,570.6 L129.9,570.5 L130.9,570.5 L131.9,570.4 L132.9,570.3 L133.9,570.2 L134.8,570.0 L135.8,569.9 L136.8,569.7 L137.8,569.5 L138.8,569.3 L139.8,569.2 L140.8,569.0 L141.7,568.9 L142.7,568.7 L143.7,568.6 L144.7,568.4 L145.7,568.2 L146.7,567.9 L147.6,567.7 L148.6,567.3 L149.6,567.0 L150.5,566.3 L151.5,565.3 L152.4,564.0 L153.3,562.6 L154.3,561.2 L155.2,559.9 L156.2,558.6 L157.2,557.2 L158.2,555.7 L159.1,554.2 L160.1,552.8 L161.1,551.7 L162.1,550.8 L163.1,550.0 L164.2,549.2 L165.2,548.5 L166.2,547.8 L167.3,547.2 L168.3,546.7 L169.4,546.4 L170.4,546.3 L171.4,546.4 L172.5,546.7 L173.5,547.1 L174.6,547.7 L175.6,548.3 L176.6,549.0 L177.7,549.7 L178.7,550.3 L179.7,551.2 L180.7,552.3 L181.7,553.7 L182.7,555.1 L183.7,556.5 L184.7,557.8 L185.7,558.7 L186.7,559.4 L187.6,560.0 L188.6,560.6 L189.6,561.1 L190.6,561.5 L191.5,561.9 L192.5,562.3 L193.5,562.6 L194.4,562.8 L195.4,563.1 L196.4,563.4 L197.4,563.7 L198.4,563.9 L199.3,564.2 L200.3,564.5 L201.3,564.8 L202.3,565.1 L203.3,565.4 L204.3,565.6 L205.3,565.9 L206.2,566.1 L207.2,566.3 L208.2,566.6 L209.2,566.8 L210.2,567.2 L211.2,567.6 L212.2,568.0 L213.2,568.5 L214.2,569.1 L215.3,569.6 L216.3,570.2 L217.3,570.7 L218.3,571.1 L219.3,571.4 L220.3,571.6 L221.3,571.8 L222.3,571.9 L223.2,572.0 L224.2,572.1 L225.2,572.2 L226.2,572.3 L227.2,572.4 L228.2,572.5 L229.1,572.6 L230.1,572.8 L231.1,572.9 L232.1,573.0 L233.1,573.0 L234.1,573.1 L235.0,573.1 L236.0,573.1 L237.0,573.0 L238.0,572.9 L239.0,572.8 L240.0,572.7 L241.0,572.6 L242.0,572.5 L243.0,572.3 L244.0,572.2 L245.0,572.0 L245.9,571.8 L246.9,571.6 L247.9,571.4 L248.9,571.1 L249.9,570.8 L250.9,570.4 L251.9,570.1 L252.9,569.7 L253.9,569.4 L254.9,569.1 L255.9,568.9 L256.9,568.6 L257.9,568.3 L258.9,568.1 L260.0,567.9 L261.0,567.7 L262.0,567.5 L263.0,567.2 L264.0,567.0 L265.0,566.9 L266.0,566.7 L267.0,566.5 L268.0,566.4 L269.0,566.3 L270.0,566.2 L271.0,566.2 L272.0,566.2 L273.0,566.2 L274.0,566.2 L275.0,566.2 L276.0,566.2 L277.0,566.2 L278.0,566.2 L279.0,566.1 L280.0,566.0 L281.0,566.0 L282.0,565.9 L282.9,566.0 L283.9,566.0 L284.9,566.1 L285.9,566.2 L286.8,566.4 L287.8,566.6 L288.8,566.8 L289.8,567.0 L290.7,567.2 L291.7,567.4 L292.7,567.6 L293.7,567.8 L294.7,568.0 L295.7,568.3 L296.7,568.6 L297.7,569.0 L298.8,569.4 L299.8,569.8 L300.8,570.3 L301.8,570.7 L302.8,571.2 L303.8,571.6 L304.8,571.9 L305.8,572.2 L306.8,572.5 L307.8,572.7 L308.8,572.9 L309.9,573.1 L310.9,573.2 L311.9,573.4 L312.9,573.6 L313.9,573.8 L314.9,574.0 L315.9,574.2 L317.0,574.4 L318.0,574.7 L319.0,574.9 L320.1,575.1 L321.1,575.3 L322.2,575.4 L323.2,575.4 L324.2,575.3 L325.2,575.2 L326.2,575.0 L327.2,574.8 L328.2,574.6 L329.3,574.4 L330.3,574.2 L331.3,573.9 L332.3,573.6 L333.3,573.4 L334.3,573.0 L335.3,572.6 L336.4,572.2 L337.4,571.6 L338.4,570.9 L339.5,570.2 L340.5,569.5 L341.6,568.8 L342.6,568.1 L343.6,567.4 L344.7,566.7 L345.7,566.1 L346.7,565.6 L347.8,565.0 L348.8,564.5 L349.8,564.1 L350.7,563.7 L351.7,563.3 L352.7,562.9 L353.6,562.5 L354.6,562.1 L355.6,561.8 L356.5,561.4 L357.5,561.0 L358.5,560.6 L359.5,560.1 L360.6,559.6 L361.6,559.0 L362.6,558.5 L363.6,557.9 L364.7,557.3 L365.8,556.6 L366.9,556.0 L368.0,555.6 L369.1,555.3 L370.2,555.0 L371.3,554.9 L372.4,554.8 L373.5,555.4 L374.6,556.8 L375.7,558.6 L376.8,560.2 L377.8,561.6 L378.9,563.0 L379.9,564.4 L381.0,565.5 L382.0,566.3 L383.0,566.7 L384.0,567.2 L385.0,567.5 L386.0,567.9 L387.0,568.2 L388.0,568.6 L389.0,569.0 L390.0,569.5 L391.0,570.0 L392.1,570.5 L393.1,571.1 L394.1,571.6 L395.2,572.1 L396.2,572.4 L397.3,572.6 L398.3,572.6 L399.3,572.5 L400.4,572.3 L401.4,572.0 L402.5,571.8 L403.5,571.6 L404.5,571.4 L405.6,571.3 L406.6,571.2 L407.6,571.4 L408.6,571.8 L409.6,572.4 L410.6,573.1 L411.6,573.9 L412.7,574.7 L413.7,575.5 L414.7,576.3 L415.7,577.0 L416.7,577.4 L417.7,577.7 L418.7,577.6 L419.7,577.4 L420.7,576.9 L421.7,576.3 L422.7,575.6 L423.7,574.9 L424.7,574.2 L425.7,573.6 L426.7,572.9 L427.7,572.1 L428.6,571.4 L429.6,570.8 L430.6,570.2 L431.6,569.7 L432.6,569.2 L433.5,568.8 L434.5,568.5 L435.4,568.1 L436.4,567.8 L437.5,567.3 L438.6,566.9 L439.6,566.5 L440.7,566.2 L441.8,565.9 L442.8,565.7 L443.8,565.5 L444.8,565.4 L445.8,565.3 L446.8,565.3 L447.8,565.5 L448.8,566.0 L449.8,566.7 L450.8,567.3 L451.8,567.9 L452.8,568.4 L453.8,568.6 L454.8,568.6 L455.9,568.6 L456.9,568.7 L458.0,568.7 L459.0,568.8 L460.0,568.9 L461.1,569.0 L462.1,569.0 L463.1,569.1 L464.1,569.1 L465.2,569.0 L466.2,568.9 L467.2,568.7 L468.2,568.5 L469.2,568.3 L470.2,568.1 L471.2,567.9 L472.3,567.8 L473.3,567.7 L474.3,567.6 L475.3,567.5 L476.3,567.5 L477.4,567.4 L478.4,567.3 L479.4,567.1 L480.4,567.0 L481.4,566.8 L482.5,566.5 L483.5,566.3 L484.5,566.1 L485.5,565.8 L486.6,565.7 L487.6,565.5 L488.6,565.4 L489.6,565.3 L490.6,565.3 L491.7,565.2 L492.7,565.2 L493.7,565.1 L494.7,565.0 L495.7,564.9 L496.7,564.7 L497.7,564.6 L498.7,564.4 L499.7,564.3 L500.7,564.2 L501.7,564.1 L502.7,564.1 L503.7,564.1 L504.7,564.1 L505.7,564.1 L506.7,564.1 L507.7,564.2 L508.7,564.4 L509.7,564.6 L510.7,565.0 L511.7,565.4 L512.7,565.8 L513.6,566.3 L514.6,566.8 L515.6,567.4 L516.6,567.9 L517.6,568.4 L518.6,568.8 L519.6,569.1 L520.6,569.4 L521.6,569.6 L522.6,569.9 L523.5,570.1 L524.5,570.2 L525.5,570.4 L526.5,570.5 L527.5,570.7 L528.5,570.8 L529.5,570.9 L530.5,571.1 L531.4,571.3 L532.4,571.4 L533.4,571.6 L534.4,571.8 L535.4,571.9 L536.4,572.0 L537.4,572.1 L538.4,572.2 L539.3,572.2 L540.3,572.3 L541.3,572.3 L542.3,572.3 L543.3,572.4 L544.3,572.5 L545.3,572.6 L546.3,572.8 L547.4,573.0 L548.4,573.2 L549.4,573.4 L550.4,573.6 L551.4,573.8 L552.4,573.9 L553.4,574.1 L554.5,574.2 L555.5,574.3 L556.5,574.5 L557.5,574.6 L558.5,574.7 L559.5,574.9 L560.5,575.1 L561.5,575.3 L562.5,575.5 L563.6,575.6 L564.6,575.8 L565.6,575.9 L566.6,576.0" fill="none" stroke="#2f4a88" stroke-width="1" stroke-linejoin="round"/><path d="M21.0,588.6 L22.0,588.7 L23.0,588.7 L24.0,588.6 L25.0,588.4 L26.0,588.1 L27.0,587.9 L28.0,587.7 L29.0,587.5 L30.0,587.4 L31.0,587.3 L32.0,587.4 L33.0,587.4 L34.0,587.5 L35.0,587.6 L36.0,587.6 L37.0,587.6 L38.0,587.5 L39.0,587.4 L40.0,587.3 L41.0,587.3 L42.0,587.2 L43.0,587.3 L44.0,587.4 L45.0,587.6 L46.0,587.8 L47.0,588.1 L48.0,588.4 L49.0,588.6 L50.0,588.8 L51.0,588.9 L52.0,588.8 L53.0,588.7 L54.0,588.5 L55.0,588.2 L56.0,588.0 L57.0,587.7 L58.0,587.6 L59.0,587.5 L60.0,587.4 L61.0,587.5 L62.0,587.5 L63.0,587.6 L64.0,587.7 L65.0,587.7 L66.0,587.7 L67.0,587.7 L68.0,587.6 L69.0,587.5 L70.0,587.5 L71.0,587.5 L72.0,587.5 L73.0,587.6 L74.0,587.8 L75.0,588.1 L76.0,588.4 L77.0,588.6 L78.0,588.8 L79.0,589.0 L80.0,589.0 L81.0,588.9 L82.0,588.7 L83.0,588.5 L84.0,588.2 L85.0,588.0 L86.0,587.7 L87.0,587.6 L88.0,587.5 L89.0,587.4 L90.0,587.5 L91.0,587.6 L92.0,587.6 L93.0,587.7 L94.0,587.7 L94.9,587.7 L95.9,587.6 L96.9,587.4 L97.9,587.3 L98.9,587.2 L99.9,587.1 L100.9,587.0 L101.9,587.1 L102.9,587.2 L103.8,587.3 L104.8,587.4 L105.8,587.6 L106.8,587.7 L107.8,587.7 L108.8,587.6 L109.8,587.5 L110.8,587.2 L111.8,586.9 L112.8,586.5 L113.7,586.2 L114.7,585.8 L115.7,585.6 L116.7,585.4 L117.7,585.4 L118.7,585.4 L119.7,585.4 L120.7,585.5 L121.7,585.6 L122.7,585.6 L123.7,585.7 L124.7,585.6 L125.7,585.6 L126.7,585.5 L127.7,585.4 L128.7,585.4 L129.7,585.4 L130.7,585.5 L131.7,585.7 L132.7,585.9 L133.7,586.1 L134.6,586.3 L135.6,586.5 L136.6,586.5 L137.6,586.5 L138.6,586.4 L139.6,586.2 L140.6,585.9 L141.6,585.6 L142.6,585.3 L143.6,585.0 L144.6,584.8 L145.6,584.7 L146.6,584.6 L147.6,584.6 L148.6,584.7 L149.6,584.8 L150.6,584.8 L151.7,584.6 L152.7,584.3 L153.8,583.8 L154.8,583.2 L155.8,582.6 L156.9,581.9 L157.9,581.3 L159.0,580.8 L160.0,580.4 L161.1,580.1 L162.1,580.0 L163.1,579.9 L164.2,579.8 L165.2,579.6 L166.3,579.3 L167.3,578.9 L168.3,578.4 L169.4,577.9 L170.4,577.3 L171.5,576.9 L172.5,576.4 L173.6,576.2 L174.6,576.0 L175.6,576.1 L176.7,576.4 L177.7,576.8 L178.8,577.3 L179.8,577.9 L180.8,578.4 L181.9,578.9 L182.9,579.4 L184.0,579.8 L185.0,580.2 L186.1,580.5 L187.1,580.8 L188.1,581.1 L189.1,581.5 L190.2,581.9 L191.2,582.3 L192.2,582.7 L193.2,583.1 L194.2,583.4 L195.3,583.5 L196.3,583.6 L197.3,583.6 L198.3,583.5 L199.4,583.3 L200.4,583.2 L201.4,583.1 L202.4,583.0 L203.4,583.1 L204.5,583.2 L205.5,583.5 L206.5,583.7 L207.5,584.0 L208.5,584.3 L209.5,584.6 L210.5,584.8 L211.5,584.9 L212.6,585.0 L213.6,585.1 L214.6,585.1 L215.6,585.2 L216.6,585.4 L217.6,585.6 L218.6,585.8 L219.6,586.1 L220.6,586.4 L221.6,586.7 L222.6,586.9 L223.7,587.0 L224.7,587.0 L225.7,586.9 L226.7,586.8 L227.7,586.6 L228.7,586.4 L229.7,586.2 L230.7,586.1 L231.7,586.1 L232.8,586.2 L233.8,586.4 L234.8,586.7 L235.8,587.0 L236.8,587.3 L237.8,587.6 L238.8,587.9 L239.9,588.1 L240.9,588.2 L241.9,588.3 L242.9,588.4 L243.9,588.5 L244.9,588.6 L245.9,588.7 L247.0,588.9 L248.0,589.1 L249.0,589.3 L250.0,589.5 L250.9,589.5 L251.9,589.3 L252.8,588.9 L253.8,588.4 L254.7,587.8 L255.7,587.2 L256.6,586.6 L257.6,586.0 L258.6,585.5 L259.5,585.0 L260.5,584.6 L261.5,584.3 L262.5,584.1 L263.5,584.0 L264.5,583.9 L265.4,583.9 L266.4,583.8 L267.4,583.7 L268.4,583.6 L269.4,583.4 L270.4,583.2 L271.3,582.9 L272.3,582.7 L273.3,582.5 L274.3,582.3 L275.3,582.2 L276.2,582.1 L277.2,582.1 L278.2,582.0 L279.2,582.0 L280.1,581.9 L281.1,581.8 L282.1,581.6 L283.1,581.3 L284.0,580.9 L285.0,580.5 L286.0,580.1 L287.0,579.6 L287.9,579.2 L288.9,578.9 L289.9,578.7 L290.9,578.5 L291.9,578.4 L292.9,578.3 L293.9,578.3 L294.9,578.2 L295.9,578.2 L296.9,578.0 L297.8,577.9 L298.8,577.6 L299.8,577.4 L300.8,577.2 L301.8,577.0 L302.8,576.9 L303.8,576.9 L304.8,577.0 L305.8,577.1 L306.8,577.3 L307.8,577.4 L308.8,577.5 L309.9,577.5 L310.9,577.5 L311.9,577.3 L312.9,577.1 L313.9,576.8 L314.9,576.5 L315.9,576.3 L317.0,576.2 L318.0,576.3 L319.0,576.5 L320.1,576.8 L321.1,577.2 L322.2,577.6 L323.2,578.0 L324.2,578.2 L325.2,578.4 L326.2,578.6 L327.2,578.7 L328.1,578.7 L329.1,578.7 L330.1,578.7 L331.1,578.6 L332.1,578.7 L333.1,578.7 L334.1,578.8 L335.1,578.9 L336.0,579.1 L337.0,579.2 L338.0,579.2 L339.0,579.2 L340.0,579.2 L341.0,578.8 L342.0,578.1 L342.9,577.1 L343.9,576.0 L344.9,574.9 L345.9,573.9 L346.8,573.1 L347.8,572.6 L348.8,572.5 L349.8,572.7 L350.7,572.9 L351.7,573.2 L352.7,573.5 L353.6,573.8 L354.6,574.0 L355.6,574.1 L356.5,574.2 L357.5,574.2 L358.5,574.0 L359.5,573.7 L360.6,573.2 L361.6,572.8 L362.6,572.3 L363.6,571.9 L364.7,571.4 L365.8,570.8 L366.9,570.1 L368.0,569.6 L368.9,569.2 L369.8,568.7 L370.6,568.3 L371.5,568.0 L372.4,568.0 L373.2,568.5 L374.1,569.2 L375.0,569.9 L376.1,570.8 L377.1,572.1 L378.2,573.4 L379.2,574.7 L380.3,575.7 L381.3,576.4 L382.2,577.1 L383.2,577.6 L384.2,578.0 L385.1,578.4 L386.1,578.6 L387.1,578.9 L388.1,579.1 L389.0,579.4 L390.0,579.8 L391.0,580.4 L392.1,581.2 L393.1,582.1 L394.1,583.0 L395.2,583.9 L396.2,584.7 L397.3,585.2 L398.3,585.5 L399.3,585.6 L400.4,585.6 L401.4,585.5 L402.5,585.5 L403.5,585.5 L404.5,585.5 L405.6,585.6 L406.6,585.7 L407.6,585.9 L408.6,586.2 L409.6,586.5 L410.6,586.7 L411.6,587.0 L412.7,587.1 L413.7,587.2 L414.7,587.1 L415.7,587.1 L416.7,587.0 L417.7,586.9 L418.7,586.8 L419.7,586.7 L420.7,586.6 L421.7,586.5 L422.7,586.3 L423.8,586.2 L424.8,586.0 L425.8,585.7 L426.8,585.3 L427.8,584.9 L428.8,584.4 L429.8,583.9 L430.7,583.4 L431.7,582.8 L432.7,582.4 L433.6,582.0 L434.6,581.6 L435.6,581.4 L436.6,581.2 L437.5,581.1 L438.5,581.0 L439.5,580.7 L440.5,580.3 L441.5,579.8 L442.5,579.3 L443.5,579.1 L444.5,579.2 L445.6,579.5 L446.6,580.0 L447.6,580.6 L448.6,581.3 L449.7,582.1 L450.7,582.9 L451.7,583.5 L452.8,584.0 L453.8,584.1 L454.8,584.1 L455.9,583.9 L456.9,583.6 L458.0,583.3 L459.0,582.9 L460.0,582.6 L461.1,582.3 L462.1,582.1 L463.1,582.1 L464.1,582.1 L465.2,582.3 L466.2,582.5 L467.2,582.7 L468.2,583.0 L469.2,583.1 L470.2,583.2 L471.2,583.2 L472.3,583.1 L473.3,583.0 L474.3,582.8 L475.3,582.6 L476.3,582.4 L477.2,582.2 L478.2,582.1 L479.2,582.0 L480.2,582.0 L481.2,582.0 L482.2,581.9 L483.1,581.8 L484.1,581.7 L485.1,581.4 L486.1,581.2 L487.1,580.9 L488.1,580.5 L489.0,580.2 L490.0,580.0 L491.0,579.8 L492.0,579.7 L493.0,579.8 L494.0,579.8 L494.9,580.0 L495.9,580.1 L496.9,580.3 L497.9,580.3 L498.9,580.2 L499.8,580.0 L500.8,579.6 L501.8,579.2 L502.8,578.7 L503.8,578.3 L504.7,577.9 L505.7,577.6 L506.7,577.5 L507.7,577.5 L508.7,577.8 L509.7,578.1 L510.7,578.5 L511.7,579.0 L512.7,579.5 L513.6,579.9 L514.6,580.3 L515.6,580.6 L516.6,580.8 L517.6,581.1 L518.6,581.2 L519.6,581.4 L520.6,581.6 L521.6,581.8 L522.6,582.2 L523.6,582.6 L524.6,583.1 L525.6,583.5 L526.6,583.9 L527.6,584.2 L528.6,584.4 L529.6,584.5 L530.6,584.5 L531.6,584.5 L532.6,584.4 L533.6,584.4 L534.6,584.4 L535.6,584.4 L536.6,584.4 L537.6,584.6 L538.6,584.7 L539.6,584.8 L540.6,584.9 L541.6,585.0 L542.6,585.0 L543.6,584.9 L544.6,584.8 L545.6,584.7 L546.6,584.6 L547.6,584.6 L548.6,584.6 L549.6,584.8 L550.6,585.0 L551.6,585.3 L552.6,585.7 L553.6,586.1 L554.6,586.4 L555.6,586.7 L556.6,587.0 L557.6,587.1 L558.6,587.2 L559.6,587.2 L560.6,587.1 L561.6,587.0 L562.6,586.9 L563.6,586.9 L564.6,586.9 L565.6,586.9 L566.6,587.0" fill="none" stroke="#2f8f6a" stroke-width="1" stroke-linejoin="round"/><path d="M21.0,599.0 L22.0,599.1 L23.0,599.2 L24.0,599.5 L25.0,599.7 L26.0,600.0 L27.0,600.3 L28.0,600.4 L29.0,600.5 L30.0,600.6 L31.0,600.6 L32.0,600.5 L33.0,600.4 L34.0,600.3 L35.0,600.3 L36.0,600.3 L37.0,600.4 L38.0,600.4 L39.0,600.5 L40.0,600.6 L41.0,600.6 L42.0,600.6 L43.0,600.4 L44.0,600.2 L45.0,600.0 L46.0,599.8 L47.0,599.5 L48.0,599.3 L49.0,599.2 L50.0,599.2 L51.0,599.3 L52.0,599.5 L53.0,599.8 L54.0,600.0 L55.0,600.3 L56.0,600.6 L57.0,600.8 L58.0,600.9 L59.0,600.9 L60.0,600.8 L61.0,600.7 L62.0,600.6 L63.0,600.6 L64.0,600.5 L65.0,600.5 L66.0,600.5 L67.0,600.6 L68.0,600.7 L69.0,600.7 L70.0,600.7 L71.0,600.7 L72.0,600.5 L73.0,600.3 L74.0,600.1 L75.0,599.9 L76.0,599.6 L77.0,599.5 L78.0,599.4 L79.0,599.4 L80.0,599.5 L81.0,599.7 L82.0,600.0 L83.0,600.3 L84.0,600.6 L85.0,600.8 L86.0,601.0 L87.0,601.1 L88.0,601.1 L89.0,601.0 L90.0,600.9 L91.0,600.8 L92.0,600.6 L93.0,600.5 L94.0,600.5 L94.9,600.4 L95.9,600.4 L96.9,600.4 L97.9,600.4 L98.9,600.3 L99.9,600.2 L100.9,600.0 L101.9,599.8 L102.9,599.4 L103.8,599.1 L104.8,598.8 L105.8,598.6 L106.8,598.4 L107.8,598.4 L108.8,598.4 L109.8,598.5 L110.8,598.7 L111.8,598.9 L112.8,599.1 L113.7,599.2 L114.7,599.3 L115.7,599.4 L116.7,599.3 L117.7,599.2 L118.7,599.0 L119.7,598.8 L120.7,598.6 L121.7,598.4 L122.7,598.3 L123.7,598.3 L124.7,598.3 L125.6,598.3 L126.6,598.3 L127.6,598.2 L128.6,598.1 L129.6,598.0 L130.6,597.8 L131.6,597.5 L132.6,597.3 L133.6,597.0 L134.6,596.8 L135.6,596.7 L136.6,596.7 L137.6,596.8 L138.6,596.9 L139.5,597.2 L140.5,597.4 L141.5,597.6 L142.5,597.8 L143.5,597.9 L144.5,598.0 L145.5,597.9 L146.5,597.7 L147.5,597.5 L148.6,597.2 L149.6,596.9 L150.6,596.7 L151.6,596.4 L152.6,596.3 L153.7,596.1 L154.7,596.0 L155.7,595.9 L156.7,595.7 L157.8,595.5 L158.8,595.3 L159.8,595.0 L160.8,594.7 L161.8,594.4 L162.9,594.2 L163.9,594.0 L164.9,594.0 L165.9,594.1 L166.9,594.3 L167.9,594.5 L168.9,594.8 L169.9,595.1 L171.0,595.4 L172.0,595.6 L173.0,595.7 L174.0,595.7 L175.0,595.7 L176.0,595.5 L177.0,595.4 L178.0,595.2 L179.0,595.1 L180.0,595.0 L181.0,595.0 L182.0,595.0 L183.0,595.1 L184.0,595.1 L185.0,595.2 L186.0,595.3 L187.0,595.3 L188.0,595.2 L188.9,595.1 L189.9,595.0 L190.9,594.9 L191.9,594.8 L192.9,594.8 L193.9,594.9 L194.9,595.1 L195.9,595.4 L196.9,595.7 L197.9,596.1 L198.9,596.5 L199.9,596.8 L200.9,597.1 L201.9,597.3 L202.9,597.3 L203.9,597.3 L204.9,597.3 L205.9,597.2 L206.9,597.1 L207.8,597.0 L208.8,597.0 L209.8,597.0 L210.8,597.1 L211.8,597.2 L212.8,597.4 L213.8,597.5 L214.8,597.6 L215.8,597.7 L216.8,597.7 L217.8,597.6 L218.8,597.6 L219.8,597.5 L220.8,597.5 L221.8,597.6 L222.7,597.7 L223.7,597.9 L224.7,598.2 L225.7,598.5 L226.7,598.9 L227.7,599.3 L228.7,599.6 L229.7,599.9 L230.7,600.1 L231.7,600.2 L232.8,600.2 L233.8,600.1 L234.8,599.9 L235.8,599.8 L236.8,599.7 L237.8,599.7 L238.8,599.7 L239.9,599.7 L240.9,599.9 L241.9,600.0 L242.9,600.1 L243.9,600.1 L244.9,600.1 L245.9,600.1 L247.0,600.0 L248.0,599.9 L249.0,599.8 L250.0,599.7 L251.0,599.6 L252.0,599.6 L253.0,599.7 L254.0,599.7 L255.0,599.9 L256.0,600.0 L257.0,600.1 L258.0,600.1 L259.0,600.1 L260.0,600.1 L261.0,599.9 L262.0,599.7 L263.0,599.4 L264.0,599.0 L265.0,598.7 L266.0,598.5 L267.0,598.3 L268.0,598.1 L269.0,598.0 L270.0,598.0 L271.0,598.0 L272.0,598.0 L273.0,597.9 L274.0,597.8 L275.0,597.6 L276.0,597.5 L277.0,597.3 L278.0,597.1 L279.0,596.9 L280.0,596.8 L281.0,596.8 L282.0,596.9 L283.0,597.1 L284.0,597.3 L285.0,597.5 L286.0,597.6 L287.0,597.7 L288.0,597.7 L289.0,597.6 L290.0,597.4 L291.0,597.1 L292.0,596.7 L293.0,596.2 L294.0,595.7 L295.0,595.3 L296.0,594.9 L297.0,594.5 L298.0,594.2 L299.0,593.9 L300.0,593.6 L301.0,593.3 L302.0,592.7 L303.0,592.0 L304.0,591.4 L305.0,590.9 L306.0,590.6 L307.0,590.2 L308.0,590.0 L309.0,589.9 L310.0,589.9 L311.0,590.1 L312.0,590.4 L313.0,590.8 L314.0,591.2 L315.0,591.5 L316.0,591.9 L317.0,592.1 L318.0,592.3 L319.0,592.4 L320.0,592.6 L321.0,592.8 L322.0,593.1 L323.0,593.3 L324.0,593.4 L325.0,593.5 L326.0,593.6 L327.0,593.6 L328.0,593.8 L329.0,593.9 L330.0,594.0 L331.0,594.0 L332.0,593.9 L333.0,593.7 L334.0,593.5 L335.0,593.3 L336.0,593.0 L337.0,592.8 L338.0,592.6 L339.0,592.5 L340.0,592.5 L341.0,592.5 L342.0,592.5 L342.9,592.5 L343.9,592.4 L344.9,592.2 L345.9,592.0 L346.8,591.6 L347.8,591.2 L348.8,590.6 L349.8,590.1 L350.7,589.6 L351.7,589.1 L352.7,588.6 L353.6,588.2 L354.6,587.9 L355.6,587.6 L356.5,587.3 L357.5,587.0 L358.5,586.6 L359.5,586.0 L360.6,585.3 L361.6,584.5 L362.6,583.8 L363.6,583.1 L364.6,582.6 L365.6,582.2 L366.6,581.8 L367.6,581.5 L368.6,581.4 L369.6,581.4 L370.6,581.6 L371.7,582.0 L372.8,582.7 L373.9,583.4 L375.0,584.0 L376.0,584.6 L377.1,585.4 L378.1,586.2 L379.1,586.9 L380.2,587.5 L381.2,588.0 L382.2,588.3 L383.2,588.6 L384.1,589.0 L385.1,589.4 L386.1,589.8 L387.1,590.2 L388.0,590.6 L389.0,590.9 L390.0,591.2 L391.0,591.5 L392.1,591.7 L393.1,591.9 L394.1,592.1 L395.2,592.4 L396.2,592.7 L397.3,593.1 L398.3,593.5 L399.3,594.1 L400.4,594.6 L401.4,595.0 L402.5,595.5 L403.5,595.8 L404.5,596.0 L405.6,596.1 L406.6,596.1 L407.6,596.2 L408.6,596.2 L409.6,596.4 L410.6,596.6 L411.6,596.8 L412.7,597.2 L413.7,597.6 L414.7,598.0 L415.7,598.4 L416.7,598.7 L417.7,598.8 L418.7,598.8 L419.7,598.6 L420.7,598.3 L421.7,598.0 L422.7,597.5 L423.8,597.1 L424.8,596.8 L425.8,596.5 L426.8,596.2 L427.8,596.1 L428.8,596.1 L429.8,596.0 L430.8,596.0 L431.8,595.8 L432.8,595.5 L433.8,595.1 L434.8,594.7 L435.8,594.2 L436.7,593.6 L437.7,593.2 L438.7,592.7 L439.7,592.4 L440.7,592.2 L441.7,592.1 L442.7,592.1 L443.6,592.3 L444.5,592.5 L445.4,592.7 L446.4,593.0 L447.3,593.2 L448.2,593.4 L449.2,593.6 L450.3,593.9 L451.4,594.2 L452.4,594.5 L453.4,594.9 L454.5,595.2 L455.6,595.6 L456.6,595.9 L457.6,596.1 L458.6,596.3 L459.6,596.4 L460.5,596.4 L461.5,596.3 L462.5,596.2 L463.5,595.9 L464.5,595.5 L465.5,595.1 L466.4,594.7 L467.4,594.4 L468.4,594.1 L469.4,593.8 L470.4,593.7 L471.4,593.6 L472.3,593.6 L473.3,593.7 L474.3,593.7 L475.3,593.7 L476.3,593.7 L477.2,593.6 L478.2,593.5 L479.2,593.3 L480.2,593.1 L481.2,592.9 L482.2,592.8 L483.1,592.7 L484.1,592.7 L485.1,592.7 L486.1,592.7 L487.1,592.7 L488.1,592.7 L489.0,592.6 L490.0,592.5 L491.0,592.2 L492.0,591.9 L493.0,591.5 L494.0,591.0 L494.9,590.5 L495.9,590.1 L496.9,589.7 L497.9,589.4 L498.9,589.2 L499.8,589.0 L500.8,588.9 L501.8,588.8 L502.8,588.8 L503.8,588.8 L504.7,588.8 L505.7,588.7 L506.7,588.7 L507.7,588.8 L508.7,589.1 L509.7,589.4 L510.7,590.0 L511.7,590.6 L512.7,591.4 L513.6,592.2 L514.6,593.1 L515.6,594.0 L516.6,594.7 L517.6,595.4 L518.6,595.8 L519.6,596.0 L520.6,596.0 L521.6,595.9 L522.6,595.8 L523.6,595.7 L524.6,595.5 L525.6,595.4 L526.6,595.4 L527.6,595.5 L528.6,595.7 L529.6,595.9 L530.6,596.2 L531.6,596.6 L532.6,596.9 L533.6,597.1 L534.6,597.3 L535.6,597.5 L536.6,597.6 L537.6,597.6 L538.6,597.7 L539.6,597.8 L540.6,597.9 L541.6,598.0 L542.6,598.3 L543.6,598.5 L544.6,598.8 L545.6,599.0 L546.6,599.1 L547.6,599.2 L548.6,599.2 L549.6,599.1 L550.6,599.0 L551.6,598.8 L552.6,598.5 L553.6,598.3 L554.6,598.2 L555.6,598.2 L556.6,598.2 L557.6,598.4 L558.6,598.6 L559.6,598.9 L560.6,599.2 L561.6,599.5 L562.6,599.8 L563.6,600.0 L564.6,600.1 L565.6,600.2 L566.6,600.2" fill="none" stroke="#c8343c" stroke-width="1" stroke-linejoin="round"/><path d="M21.0,612.6 L22.0,612.7 L23.0,612.6 L24.0,612.5 L25.0,612.3 L26.0,612.0 L27.0,611.7 L28.0,611.4 L29.0,611.2 L30.0,611.0 L31.0,610.9 L32.0,610.9 L33.0,611.0 L34.0,611.1 L35.0,611.3 L36.0,611.4 L37.0,611.5 L38.0,611.6 L39.0,611.6 L40.0,611.5 L41.0,611.5 L42.0,611.4 L43.0,611.4 L44.0,611.5 L45.0,611.6 L46.0,611.8 L47.0,612.0 L48.0,612.2 L49.0,612.4 L50.0,612.5 L51.0,612.6 L52.0,612.5 L53.0,612.4 L54.0,612.2 L55.0,611.9 L56.0,611.6 L57.0,611.3 L58.0,611.0 L59.0,610.9 L60.0,610.8 L61.0,610.8 L62.0,610.9 L63.0,611.1 L64.0,611.2 L65.0,611.4 L66.0,611.5 L67.0,611.5 L68.0,611.6 L69.0,611.5 L70.0,611.5 L71.0,611.4 L72.0,611.4 L73.0,611.5 L74.0,611.6 L75.0,611.8 L76.0,612.0 L77.0,612.1 L78.0,612.3 L79.0,612.4 L80.0,612.4 L81.0,612.4 L82.0,612.2 L83.0,612.0 L84.0,611.7 L85.0,611.4 L86.0,611.1 L87.0,610.8 L88.0,610.7 L89.0,610.7 L90.0,610.7 L91.0,610.8 L92.0,611.0 L93.0,611.1 L94.0,611.3 L95.0,611.4 L95.9,611.4 L96.9,611.4 L97.9,611.3 L98.9,611.3 L99.9,611.2 L100.9,611.1 L101.9,611.1 L102.9,611.2 L103.9,611.3 L104.9,611.4 L105.8,611.5 L106.8,611.6 L107.8,611.6 L108.8,611.6 L109.8,611.5 L110.8,611.2 L111.8,610.9 L112.8,610.6 L113.8,610.2 L114.8,609.8 L115.8,609.6 L116.7,609.4 L117.7,609.2 L118.7,609.2 L119.7,609.3 L120.7,609.4 L121.7,609.5 L122.7,609.6 L123.7,609.7 L124.7,609.8 L125.7,609.7 L126.6,609.7 L127.6,609.6 L128.6,609.5 L129.6,609.4 L130.6,609.4 L131.6,609.4 L132.6,609.5 L133.6,609.6 L134.6,609.7 L135.6,609.8 L136.5,609.9 L137.5,609.9 L138.5,609.8 L139.5,609.6 L140.5,609.3 L141.5,609.0 L142.5,608.7 L143.5,608.4 L144.5,608.1 L145.4,607.9 L146.4,607.9 L147.4,607.9 L148.4,608.0 L149.4,608.1 L150.4,608.3 L151.4,608.5 L152.4,608.6 L153.4,608.7 L154.4,608.7 L155.3,608.6 L156.3,608.5 L157.3,608.4 L158.3,608.3 L159.3,608.3 L160.3,608.3 L161.3,608.2 L162.2,608.2 L163.2,608.2 L164.2,608.1 L165.2,608.0 L166.2,607.8 L167.2,607.5 L168.1,607.1 L169.1,606.7 L170.1,606.2 L171.1,605.7 L172.1,605.2 L173.1,604.9 L174.0,604.6 L175.0,604.5 L176.0,604.5 L177.0,604.6 L178.0,604.8 L179.0,605.1 L180.0,605.4 L181.0,605.7 L182.0,606.0 L183.0,606.2 L184.0,606.3 L185.0,606.5 L186.0,606.6 L187.0,606.7 L188.0,606.8 L188.9,607.0 L189.9,607.3 L190.9,607.6 L191.9,607.9 L192.9,608.2 L193.9,608.4 L194.9,608.6 L195.9,608.7 L196.9,608.7 L197.9,608.7 L198.9,608.5 L199.9,608.3 L200.9,608.1 L201.9,608.0 L202.9,607.9 L203.9,608.0 L204.9,608.1 L205.9,608.3 L206.9,608.6 L207.9,608.9 L208.9,609.2 L209.9,609.5 L210.9,609.7 L211.9,609.8 L212.9,609.9 L213.9,609.9 L214.9,609.9 L215.9,609.9 L216.9,610.0 L217.9,610.0 L218.9,610.1 L219.9,610.3 L220.9,610.4 L221.9,610.6 L222.9,610.7 L223.9,610.8 L224.9,610.7 L226.0,610.6 L227.0,610.5 L228.0,610.2 L229.0,610.0 L230.0,609.8 L231.0,609.6 L232.0,609.6 L233.0,609.6 L234.0,609.8 L235.0,610.0 L236.0,610.3 L237.0,610.6 L238.0,610.9 L239.0,611.1 L240.0,611.3 L241.0,611.4 L242.0,611.5 L243.0,611.5 L244.0,611.5 L245.0,611.5 L246.0,611.5 L247.0,611.5 L248.0,611.6 L249.0,611.8 L250.0,611.9 L251.0,612.1 L252.0,612.2 L253.0,612.2 L254.0,612.2 L255.0,612.1 L256.0,612.0 L257.0,611.8 L258.0,611.6 L259.0,611.4 L260.0,611.2 L261.0,611.1 L262.0,611.1 L263.0,611.2 L264.0,611.4 L265.0,611.6 L266.0,611.8 L267.0,612.0 L268.0,612.1 L269.0,612.2 L270.0,612.1 L271.0,612.0 L272.0,611.8 L273.0,611.6 L274.0,611.4 L275.0,611.3 L276.0,611.1 L277.0,611.0 L278.0,610.9 L279.0,610.8 L280.0,610.8 L281.0,610.6 L282.0,610.4 L283.0,610.2 L284.0,609.8 L285.0,609.4 L286.0,609.0 L287.0,608.6 L288.0,608.2 L289.0,607.8 L290.0,607.6 L291.0,607.4 L292.0,607.3 L293.0,607.1 L294.0,607.0 L295.0,606.8 L296.0,606.6 L297.0,606.3 L298.0,605.9 L299.0,605.4 L300.0,604.9 L301.0,604.3 L302.0,603.6 L303.0,602.8 L304.0,602.1 L305.0,601.4 L306.0,600.9 L307.0,600.5 L308.0,600.2 L309.0,600.0 L310.0,599.8 L311.0,599.6 L312.0,599.4 L313.0,599.2 L314.0,599.1 L315.0,599.1 L316.0,599.3 L317.0,599.5 L318.0,599.8 L319.0,600.3 L320.0,600.9 L321.0,601.7 L322.0,602.5 L323.0,603.3 L324.0,604.1 L325.0,604.6 L326.0,605.1 L327.0,605.4 L328.0,605.6 L329.0,605.7 L330.0,605.6 L331.0,605.4 L332.0,605.0 L333.0,604.5 L334.0,604.0 L335.0,603.6 L336.0,603.1 L337.0,602.7 L338.0,602.2 L339.0,601.9 L340.0,601.7 L341.0,601.6 L342.0,601.4 L343.0,601.2 L343.9,601.0 L344.9,600.7 L345.9,600.6 L346.9,600.5 L347.9,600.4 L348.9,600.5 L349.9,600.7 L350.9,601.0 L351.9,601.3 L352.8,601.5 L353.8,601.8 L354.8,602.0 L355.8,602.1 L356.8,601.9 L357.8,601.2 L358.8,600.2 L359.8,598.9 L360.8,597.6 L361.8,596.4 L362.8,595.4 L363.8,594.5 L364.8,593.5 L365.8,592.6 L366.8,591.7 L367.8,590.9 L368.8,590.4 L369.8,590.1 L370.8,590.1 L371.8,590.2 L372.8,590.4 L373.8,590.8 L374.8,591.2 L375.8,591.9 L376.8,592.6 L377.8,593.7 L378.9,595.3 L379.9,597.1 L381.0,598.7 L382.0,600.0 L383.0,600.9 L384.0,601.6 L385.0,602.2 L386.0,602.7 L387.0,603.1 L388.0,603.3 L389.0,603.4 L390.0,603.4 L391.0,603.5 L392.0,603.5 L393.1,603.6 L394.1,603.8 L395.1,603.9 L396.1,604.0 L397.1,604.1 L398.2,604.1 L399.2,604.0 L400.2,603.9 L401.2,603.8 L402.3,603.7 L403.3,603.6 L404.3,603.6 L405.3,603.6 L406.3,603.8 L407.4,604.1 L408.4,604.5 L409.4,604.9 L410.4,605.4 L411.4,606.0 L412.4,606.6 L413.4,607.2 L414.4,607.7 L415.4,608.2 L416.4,608.5 L417.4,608.9 L418.4,609.1 L419.4,609.4 L420.4,609.6 L421.4,609.7 L422.4,609.8 L423.4,609.7 L424.4,609.7 L425.4,609.5 L426.4,609.2 L427.4,608.9 L428.4,608.4 L429.4,607.8 L430.4,607.2 L431.4,606.6 L432.4,606.0 L433.5,605.5 L434.5,605.0 L435.5,604.7 L436.5,604.5 L437.5,604.4 L438.5,604.3 L439.5,604.3 L440.5,604.3 L441.5,604.3 L442.5,604.2 L443.5,604.2 L444.5,604.1 L445.6,604.1 L446.6,604.1 L447.6,604.1 L448.7,604.3 L449.7,604.5 L450.8,604.8 L451.8,605.2 L452.8,605.6 L453.9,605.9 L454.9,606.2 L455.9,606.4 L457.0,606.4 L458.0,606.3 L459.0,606.2 L460.0,606.0 L461.0,605.8 L462.0,605.8 L463.0,605.7 L464.0,605.8 L465.0,606.0 L466.1,606.2 L467.1,606.5 L468.1,606.7 L469.1,606.9 L470.1,607.1 L471.1,607.1 L472.1,607.0 L473.1,606.9 L474.1,606.7 L475.1,606.4 L476.1,606.1 L477.1,605.8 L478.1,605.6 L479.1,605.5 L480.2,605.4 L481.2,605.3 L482.2,605.3 L483.2,605.2 L484.2,605.2 L485.2,605.0 L486.2,604.9 L487.2,604.7 L488.2,604.4 L489.1,604.2 L490.1,603.9 L491.1,603.7 L492.1,603.5 L493.1,603.5 L494.0,603.4 L495.0,603.5 L496.0,603.5 L496.9,603.6 L497.9,603.6 L498.9,603.6 L499.9,603.5 L500.8,603.3 L501.8,603.0 L502.8,602.7 L503.8,602.3 L504.8,602.0 L505.7,601.8 L506.7,601.6 L507.7,601.5 L508.7,601.6 L509.7,601.8 L510.7,602.1 L511.7,602.4 L512.7,602.8 L513.6,603.1 L514.6,603.5 L515.6,603.7 L516.6,603.9 L517.6,604.1 L518.6,604.2 L519.6,604.3 L520.6,604.5 L521.6,604.7 L522.6,605.0 L523.6,605.4 L524.6,605.8 L525.6,606.2 L526.6,606.6 L527.6,606.9 L528.6,607.1 L529.6,607.3 L530.6,607.3 L531.6,607.2 L532.6,607.1 L533.6,606.9 L534.6,606.8 L535.6,606.7 L536.6,606.7 L537.6,606.8 L538.6,606.9 L539.6,607.0 L540.6,607.2 L541.6,607.3 L542.6,607.4 L543.6,607.5 L544.6,607.5 L545.6,607.5 L546.6,607.5 L547.6,607.5 L548.6,607.5 L549.6,607.6 L550.6,607.8 L551.6,608.1 L552.6,608.5 L553.6,608.8 L554.6,609.2 L555.6,609.5 L556.6,609.8 L557.6,609.9 L558.6,610.0 L559.6,609.9 L560.6,609.8 L561.6,609.7 L562.6,609.5 L563.6,609.4 L564.6,609.3 L565.6,609.3 L566.6,609.4" fill="none" stroke="#f8c14a" stroke-width="1" stroke-linejoin="round"/><path d="M21.0,622.3 L22.0,622.4 L23.0,622.4 L24.0,622.4 L25.0,622.3 L26.0,622.2 L27.0,622.2 L28.0,622.1 L29.0,622.1 L30.0,622.1 L31.0,622.2 L32.0,622.3 L33.0,622.3 L34.0,622.3 L35.0,622.3 L36.0,622.2 L37.0,622.0 L38.0,621.8 L39.0,621.6 L40.0,621.4 L41.0,621.2 L42.0,621.1 L43.0,621.1 L44.0,621.3 L45.0,621.5 L46.0,621.7 L47.0,622.0 L48.0,622.3 L49.0,622.6 L50.0,622.8 L51.0,622.9 L52.0,622.9 L53.0,622.9 L54.0,622.8 L55.0,622.7 L56.0,622.6 L57.0,622.5 L58.0,622.5 L59.0,622.5 L60.0,622.5 L61.0,622.6 L62.0,622.7 L63.0,622.7 L64.0,622.6 L65.0,622.5 L66.0,622.4 L67.0,622.2 L68.0,622.0 L69.0,621.8 L70.0,621.6 L71.0,621.5 L72.0,621.6 L73.0,621.7 L74.0,621.9 L75.0,622.2 L76.0,622.5 L77.0,622.8 L78.0,623.1 L79.0,623.2 L80.0,623.3 L81.0,623.3 L82.0,623.2 L83.0,623.1 L84.0,623.0 L85.0,622.8 L86.0,622.7 L87.0,622.7 L88.0,622.7 L89.0,622.7 L90.0,622.8 L91.0,622.8 L92.0,622.8 L93.0,622.7 L94.0,622.6 L95.0,622.4 L95.9,622.2 L96.9,621.9 L97.9,621.7 L98.9,621.5 L99.9,621.4 L100.9,621.4 L101.9,621.4 L102.9,621.6 L103.9,621.8 L104.9,622.0 L105.8,622.2 L106.8,622.4 L107.8,622.5 L108.8,622.5 L109.8,622.4 L110.8,622.2 L111.8,622.0 L112.8,621.7 L113.8,621.5 L114.8,621.3 L115.8,621.1 L116.7,621.0 L117.7,620.9 L118.7,620.9 L119.7,620.8 L120.7,620.7 L121.7,620.6 L122.7,620.4 L123.7,620.2 L124.7,619.9 L125.7,619.7 L126.6,619.4 L127.6,619.2 L128.6,619.1 L129.6,619.1 L130.6,619.1 L131.6,619.3 L132.6,619.5 L133.6,619.8 L134.6,620.0 L135.6,620.2 L136.6,620.3 L137.7,620.3 L138.7,620.2 L139.7,620.0 L140.7,619.8 L141.7,619.5 L142.7,619.3 L143.7,619.1 L144.7,618.9 L145.7,618.8 L146.7,618.8 L147.7,618.8 L148.8,618.7 L149.8,618.7 L150.8,618.6 L151.8,618.4 L152.8,618.2 L153.8,618.0 L154.8,617.7 L155.8,617.5 L156.8,617.4 L157.8,617.3 L158.8,617.3 L159.9,617.5 L160.9,617.7 L161.9,617.9 L162.9,618.2 L163.9,618.4 L164.9,618.6 L165.9,618.7 L166.9,618.7 L167.9,618.5 L168.9,618.4 L169.9,618.2 L171.0,617.9 L172.0,617.7 L173.0,617.6 L174.0,617.5 L175.0,617.5 L176.0,617.5 L177.0,617.5 L178.0,617.6 L179.0,617.7 L180.0,617.7 L181.0,617.7 L182.0,617.6 L183.0,617.6 L184.0,617.5 L185.0,617.5 L186.0,617.6 L187.0,617.8 L188.0,618.0 L188.9,618.4 L189.9,618.8 L190.9,619.2 L191.9,619.7 L192.9,620.1 L193.9,620.4 L194.9,620.7 L195.9,620.8 L196.9,620.8 L197.9,620.8 L198.9,620.7 L199.9,620.5 L200.9,620.4 L201.9,620.4 L202.9,620.4 L203.9,620.4 L204.9,620.5 L205.9,620.6 L206.9,620.7 L207.9,620.8 L208.9,620.9 L209.9,620.9 L210.9,620.8 L211.9,620.7 L212.9,620.7 L213.9,620.6 L214.9,620.7 L215.9,620.8 L216.9,621.0 L217.9,621.3 L218.9,621.6 L219.9,622.0 L220.9,622.3 L221.9,622.6 L222.9,622.8 L223.9,623.0 L224.9,623.0 L226.0,622.9 L227.0,622.8 L228.0,622.6 L229.0,622.4 L230.0,622.3 L231.0,622.2 L232.0,622.2 L233.0,622.2 L234.0,622.3 L235.0,622.4 L236.0,622.5 L237.0,622.6 L238.0,622.6 L239.0,622.6 L240.0,622.5 L241.0,622.4 L242.0,622.3 L243.0,622.3 L244.0,622.3 L245.0,622.4 L246.0,622.6 L247.0,622.9 L248.0,623.2 L249.0,623.5 L250.0,623.8 L251.0,624.1 L252.0,624.2 L253.0,624.3 L254.0,624.2 L255.0,624.1 L256.0,623.8 L257.0,623.5 L258.0,623.2 L259.0,622.9 L260.0,622.7 L261.0,622.5 L262.0,622.4 L263.0,622.3 L264.0,622.2 L265.0,622.1 L266.0,622.0 L267.0,621.8 L268.0,621.6 L269.0,621.4 L270.0,621.2 L271.0,620.9 L272.0,620.8 L273.0,620.7 L274.0,620.6 L275.0,620.7 L276.0,620.8 L277.0,621.0 L278.0,621.1 L279.0,621.3 L280.0,621.4 L281.0,621.4 L282.0,621.2 L283.0,621.0 L284.0,620.7 L285.0,620.3 L286.0,619.9 L287.0,619.5 L288.0,619.1 L289.0,618.8 L290.0,618.5 L291.0,618.3 L292.0,618.0 L293.0,617.7 L294.0,617.4 L295.0,616.9 L296.0,616.4 L297.0,615.9 L298.0,615.3 L299.0,614.8 L300.0,614.2 L301.0,613.7 L302.0,613.3 L303.0,612.9 L304.0,612.6 L305.0,612.3 L306.0,612.2 L307.0,612.0 L308.0,612.0 L309.0,611.8 L310.0,611.6 L311.0,611.4 L312.0,611.1 L313.0,611.0 L314.0,610.8 L315.0,610.7 L316.0,610.6 L317.0,610.6 L318.0,610.7 L319.0,610.9 L320.0,611.3 L321.0,611.8 L322.0,612.3 L323.0,612.8 L324.0,613.3 L325.0,613.6 L326.0,613.8 L327.0,614.0 L328.0,614.1 L329.0,614.2 L330.0,614.3 L331.0,614.2 L332.0,614.2 L333.0,614.3 L334.0,614.3 L335.0,614.3 L336.0,614.3 L337.0,614.3 L338.0,614.2 L339.0,614.0 L340.0,613.7 L341.0,613.4 L342.0,613.0 L342.9,612.6 L343.9,612.1 L344.9,611.7 L345.9,611.3 L346.8,610.9 L347.8,610.6 L348.8,610.4 L349.8,610.1 L350.7,609.8 L351.7,609.5 L352.7,609.1 L353.6,608.6 L354.6,608.0 L355.6,607.5 L356.5,606.9 L357.5,606.4 L358.6,605.8 L359.6,605.3 L360.6,604.8 L361.7,604.4 L362.8,604.0 L363.8,603.8 L364.9,603.6 L365.9,603.4 L366.9,603.3 L368.0,603.3 L369.0,603.2 L370.0,603.2 L371.0,603.2 L372.0,603.2 L373.0,603.2 L374.0,603.3 L375.0,603.4 L376.0,603.8 L377.0,604.3 L378.0,605.1 L379.0,605.9 L380.0,606.7 L381.0,607.5 L382.0,608.2 L383.0,608.8 L384.0,609.3 L385.0,609.7 L386.0,610.1 L387.0,610.5 L388.0,610.9 L389.0,611.3 L390.0,611.8 L391.0,612.3 L392.0,612.9 L393.0,613.5 L394.0,614.1 L395.0,614.6 L396.0,615.1 L397.0,615.5 L398.0,615.8 L399.0,616.0 L400.0,616.1 L401.0,616.2 L402.0,616.3 L402.9,616.4 L403.9,616.5 L404.9,616.8 L405.9,617.1 L406.9,617.4 L407.9,617.8 L408.9,618.2 L409.9,618.6 L410.9,618.9 L411.9,619.1 L412.9,619.2 L413.9,619.3 L414.9,619.3 L415.9,619.3 L416.9,619.3 L417.9,619.3 L418.9,619.3 L419.9,619.4 L420.9,619.5 L421.9,619.6 L422.9,619.7 L423.9,619.6 L424.9,619.6 L425.9,619.4 L426.9,619.1 L427.9,618.7 L428.9,618.2 L429.9,617.7 L430.8,617.0 L431.8,616.3 L432.8,615.7 L433.8,615.0 L434.7,614.4 L435.7,613.9 L436.7,613.4 L437.7,613.0 L438.6,612.6 L439.6,612.2 L440.6,611.9 L441.6,611.7 L442.5,611.4 L443.5,611.3 L444.5,611.4 L445.5,611.5 L446.5,611.8 L447.5,612.2 L448.4,612.7 L449.4,613.3 L450.4,614.0 L451.4,614.8 L452.4,615.4 L453.4,616.1 L454.4,616.6 L455.4,617.0 L456.4,617.3 L457.3,617.4 L458.3,617.5 L459.3,617.4 L460.3,617.3 L461.3,617.2 L462.3,617.1 L463.3,617.0 L464.3,617.0 L465.3,617.1 L466.3,617.2 L467.3,617.3 L468.3,617.4 L469.3,617.4 L470.3,617.3 L471.3,617.2 L472.3,617.1 L473.3,616.9 L474.2,616.7 L475.2,616.6 L476.2,616.5 L477.2,616.4 L478.2,616.4 L479.2,616.4 L480.2,616.4 L481.2,616.4 L482.2,616.3 L483.2,616.1 L484.2,615.9 L485.2,615.5 L486.2,615.1 L487.2,614.7 L488.2,614.2 L489.1,613.8 L490.1,613.4 L491.1,613.1 L492.1,612.9 L493.1,612.8 L494.0,612.7 L495.0,612.6 L496.0,612.6 L496.9,612.6 L497.9,612.5 L498.9,612.4 L499.9,612.2 L500.8,612.1 L501.8,611.9 L502.8,611.7 L503.8,611.6 L504.8,611.5 L505.7,611.5 L506.7,611.6 L507.7,611.9 L508.7,612.3 L509.7,612.9 L510.7,613.5 L511.7,614.1 L512.7,614.7 L513.6,615.3 L514.6,615.8 L515.6,616.1 L516.6,616.5 L517.6,616.7 L518.6,616.9 L519.6,617.0 L520.6,617.1 L521.6,617.4 L522.6,617.7 L523.6,618.0 L524.6,618.4 L525.6,618.7 L526.6,619.0 L527.6,619.3 L528.6,619.5 L529.6,619.6 L530.6,619.7 L531.6,619.7 L532.6,619.8 L533.6,619.9 L534.6,620.1 L535.6,620.3 L536.6,620.5 L537.6,620.8 L538.6,621.0 L539.6,621.2 L540.6,621.3 L541.6,621.3 L542.6,621.2 L543.6,621.0 L544.6,620.8 L545.6,620.6 L546.6,620.4 L547.6,620.3 L548.6,620.3 L549.6,620.3 L550.6,620.5 L551.6,620.8 L552.6,621.1 L553.6,621.4 L554.6,621.7 L555.6,621.9 L556.6,622.1 L557.6,622.3 L558.6,622.3 L559.6,622.4 L560.6,622.4 L561.6,622.5 L562.6,622.6 L563.6,622.7 L564.6,622.9 L565.6,623.1 L566.6,623.3" fill="none" stroke="#5fc3a1" stroke-width="1" stroke-linejoin="round"/><path d="M21.0,635.2 L22.0,635.0 L23.0,634.7 L24.0,634.5 L25.0,634.4 L26.0,634.3 L27.0,634.2 L28.0,634.2 L29.0,634.3 L30.0,634.3 L31.0,634.3 L32.0,634.3 L33.0,634.2 L34.0,634.1 L35.0,634.0 L36.0,633.9 L37.0,633.8 L38.0,633.7 L39.0,633.8 L40.0,633.9 L41.0,634.1 L42.0,634.3 L43.0,634.6 L44.0,634.9 L45.0,635.1 L46.0,635.2 L47.0,635.3 L48.0,635.2 L49.0,635.1 L50.0,634.8 L51.0,634.6 L52.0,634.3 L53.0,634.1 L54.0,633.9 L55.0,633.8 L56.0,633.8 L57.0,633.8 L58.0,633.9 L59.0,633.9 L60.0,634.0 L61.0,633.9 L62.0,633.9 L63.0,633.8 L64.0,633.7 L65.0,633.6 L66.0,633.5 L67.0,633.5 L68.0,633.5 L69.0,633.6 L70.0,633.8 L71.0,634.1 L72.0,634.4 L73.0,634.6 L74.0,634.8 L75.0,634.9 L76.0,634.9 L77.0,634.8 L78.0,634.6 L79.0,634.4 L80.0,634.1 L81.0,633.9 L82.0,633.6 L83.0,633.5 L84.0,633.4 L85.0,633.3 L86.0,633.4 L87.0,633.4 L88.0,633.5 L89.0,633.5 L90.0,633.5 L91.0,633.5 L92.0,633.4 L93.0,633.3 L94.0,633.1 L95.0,633.1 L95.9,633.0 L96.9,633.1 L97.9,633.2 L98.9,633.4 L99.9,633.6 L100.9,633.9 L101.9,634.1 L102.9,634.3 L103.9,634.3 L104.9,634.3 L105.8,634.2 L106.8,634.0 L107.8,633.7 L108.8,633.4 L109.8,633.1 L110.8,632.9 L111.8,632.7 L112.8,632.5 L113.8,632.5 L114.8,632.5 L115.8,632.5 L116.7,632.6 L117.7,632.6 L118.7,632.6 L119.7,632.6 L120.7,632.5 L121.7,632.4 L122.7,632.3 L123.7,632.2 L124.7,632.1 L125.7,632.2 L126.6,632.3 L127.6,632.4 L128.6,632.6 L129.6,632.8 L130.6,633.0 L131.6,633.2 L132.6,633.2 L133.6,633.2 L134.6,633.0 L135.6,632.8 L136.6,632.5 L137.7,632.1 L138.7,631.8 L139.7,631.5 L140.7,631.2 L141.7,631.1 L142.7,631.0 L143.7,631.0 L144.7,631.0 L145.7,631.0 L146.7,631.0 L147.7,631.0 L148.8,630.9 L149.8,630.8 L150.8,630.6 L151.8,630.5 L152.8,630.4 L153.8,630.3 L154.8,630.3 L155.8,630.4 L156.8,630.5 L157.8,630.7 L158.8,630.8 L159.9,631.0 L160.9,631.0 L161.9,631.0 L162.9,630.9 L163.9,630.7 L164.9,630.4 L165.9,630.1 L166.9,629.7 L167.9,629.4 L168.9,629.1 L169.9,629.0 L171.0,628.9 L172.0,628.9 L173.0,629.0 L174.0,629.1 L175.0,629.2 L176.0,629.3 L177.0,629.3 L178.0,629.4 L179.0,629.3 L180.0,629.3 L181.0,629.2 L182.0,629.2 L183.0,629.3 L184.0,629.4 L185.0,629.6 L186.0,629.8 L187.0,630.0 L188.0,630.3 L189.0,630.5 L190.0,630.6 L191.0,630.7 L192.0,630.6 L193.0,630.4 L194.0,630.2 L195.0,630.0 L196.0,629.7 L197.0,629.5 L198.0,629.3 L199.0,629.3 L200.0,629.3 L201.0,629.4 L202.0,629.5 L203.0,629.7 L204.0,629.9 L205.0,630.1 L206.0,630.2 L207.0,630.3 L208.0,630.3 L209.0,630.3 L210.0,630.3 L211.0,630.4 L212.0,630.5 L213.0,630.6 L214.0,630.8 L215.0,631.1 L216.0,631.4 L217.0,631.6 L218.0,631.9 L219.0,632.0 L220.0,632.1 L221.0,632.0 L222.0,631.9 L223.0,631.7 L224.0,631.5 L225.0,631.2 L226.0,631.1 L227.0,631.0 L228.0,630.9 L229.0,631.0 L230.0,631.2 L231.0,631.4 L232.0,631.7 L233.0,631.9 L234.0,632.1 L235.0,632.3 L236.0,632.4 L237.0,632.5 L238.0,632.5 L239.0,632.6 L240.0,632.6 L241.0,632.8 L242.0,632.9 L243.0,633.2 L244.0,633.5 L245.0,633.8 L246.0,634.0 L247.0,634.3 L248.0,634.4 L249.0,634.5 L250.0,634.4 L251.0,634.4 L252.0,634.6 L253.0,634.8 L254.0,634.9 L255.0,634.9 L256.0,634.7 L257.0,634.6 L258.0,634.5 L259.0,634.6 L260.0,634.6 L261.0,634.7 L262.0,634.7 L263.0,634.7 L264.0,634.6 L265.0,634.5 L266.0,634.3 L267.0,634.1 L268.0,633.9 L269.0,633.8 L270.0,633.7 L271.0,633.7 L272.0,633.7 L273.0,633.8 L274.0,633.8 L275.0,633.9 L276.0,633.9 L277.0,633.8 L278.0,633.7 L279.0,633.4 L280.0,633.1 L281.0,632.7 L282.0,632.2 L283.0,631.8 L284.0,631.4 L285.0,631.1 L286.0,630.9 L287.0,630.7 L288.0,630.4 L289.0,630.2 L290.0,630.0 L291.0,629.6 L292.0,629.1 L293.0,628.4 L294.0,627.6 L295.0,626.7 L296.0,625.9 L297.0,625.1 L298.0,624.4 L299.0,623.8 L300.0,623.2 L301.0,622.7 L302.0,622.4 L303.0,622.2 L303.9,622.1 L304.8,621.9 L305.8,621.8 L306.7,621.6 L307.6,621.3 L308.5,621.1 L309.6,620.9 L310.7,620.8 L311.8,620.8 L312.8,620.9 L313.9,621.2 L315.0,621.6 L316.0,622.1 L317.0,622.7 L318.0,623.4 L319.0,624.2 L320.0,624.9 L321.0,625.6 L322.0,626.1 L323.0,626.5 L324.0,626.8 L325.0,627.0 L326.0,626.8 L327.0,626.5 L328.0,626.1 L329.0,625.8 L330.0,625.6 L331.0,625.5 L332.0,625.6 L333.0,625.7 L334.0,625.7 L335.0,625.6 L336.0,625.5 L337.0,625.3 L338.0,625.0 L339.0,624.6 L340.0,624.3 L341.0,623.9 L342.1,623.4 L343.1,622.9 L344.1,622.5 L345.1,622.2 L346.1,622.0 L347.2,621.9 L348.2,621.8 L349.2,621.9 L350.2,621.8 L351.2,621.8 L352.2,621.7 L353.2,621.6 L354.2,621.4 L355.2,621.2 L356.2,621.1 L357.2,620.9 L358.2,620.8 L359.2,620.7 L360.2,620.5 L361.2,620.2 L362.1,619.7 L363.1,619.1 L364.1,618.4 L365.1,617.7 L366.1,616.9 L367.0,616.2 L368.0,615.6 L369.0,615.2 L370.0,615.0 L371.1,615.1 L372.1,615.4 L373.1,616.0 L374.2,616.7 L375.2,617.5 L376.2,618.4 L377.3,619.3 L378.3,620.1 L379.3,620.8 L380.4,621.3 L381.4,621.6 L382.4,621.7 L383.3,621.8 L384.3,621.9 L385.2,622.0 L386.2,622.1 L387.1,622.3 L388.1,622.5 L389.0,622.7 L390.0,623.0 L391.0,623.3 L392.0,623.6 L393.0,623.9 L394.0,624.1 L395.0,624.2 L396.0,624.3 L397.0,624.5 L398.1,624.6 L399.1,624.9 L400.1,625.2 L401.1,625.6 L402.1,626.2 L403.1,626.8 L404.1,627.5 L405.1,628.2 L406.1,628.9 L407.1,629.6 L408.1,630.2 L409.1,630.7 L410.1,631.1 L411.1,631.4 L412.2,631.6 L413.2,631.9 L414.2,632.1 L415.2,632.3 L416.2,632.5 L417.2,632.7 L418.2,632.9 L419.2,633.0 L420.2,633.0 L421.2,632.9 L422.2,632.7 L423.2,632.3 L424.3,631.8 L425.3,631.3 L426.3,630.7 L427.3,630.1 L428.3,629.5 L429.3,629.1 L430.3,628.7 L431.4,628.4 L432.4,628.2 L433.4,628.1 L434.4,628.0 L435.4,627.8 L436.4,627.7 L437.4,627.5 L438.4,627.3 L439.4,627.0 L440.5,626.7 L441.5,626.5 L442.5,626.3 L443.5,626.2 L444.5,626.2 L445.5,626.4 L446.5,626.7 L447.5,627.0 L448.4,627.4 L449.4,627.7 L450.4,628.1 L451.4,628.4 L452.4,628.6 L453.4,628.8 L454.4,628.9 L455.4,629.0 L456.4,629.2 L457.3,629.3 L458.3,629.5 L459.3,629.8 L460.3,630.1 L461.3,630.3 L462.3,630.6 L463.3,630.8 L464.3,631.0 L465.3,631.1 L466.3,631.1 L467.3,631.0 L468.3,630.9 L469.3,630.6 L470.3,630.3 L471.3,630.0 L472.3,629.7 L473.3,629.4 L474.2,629.2 L475.2,629.0 L476.2,628.8 L477.2,628.6 L478.2,628.4 L479.2,628.1 L480.2,627.8 L481.2,627.4 L482.2,626.9 L483.2,626.4 L484.2,626.0 L485.2,625.6 L486.2,625.2 L487.2,625.0 L488.2,624.9 L489.1,624.9 L490.1,624.9 L491.1,625.0 L492.1,625.0 L493.1,625.1 L494.0,625.1 L495.0,625.0 L496.0,624.9 L496.9,624.6 L497.9,624.4 L498.9,624.1 L499.9,623.8 L500.8,623.5 L501.8,623.3 L502.8,623.2 L503.8,623.1 L504.8,623.1 L505.7,623.1 L506.7,623.1 L507.7,623.1 L508.7,623.2 L509.8,623.2 L510.8,623.3 L511.8,623.4 L512.8,623.5 L513.8,623.7 L514.9,624.0 L515.9,624.4 L516.9,625.0 L517.9,625.6 L519.0,626.3 L520.0,627.1 L521.0,627.8 L522.0,628.5 L523.0,629.1 L524.1,629.5 L525.1,629.8 L526.1,630.0 L527.1,630.0 L528.1,630.1 L529.1,630.1 L530.1,630.1 L531.2,630.2 L532.2,630.4 L533.2,630.5 L534.2,630.7 L535.2,630.9 L536.2,631.0 L537.2,631.1 L538.2,631.1 L539.3,631.1 L540.3,631.0 L541.3,630.9 L542.3,630.8 L543.3,630.8 L544.3,630.8 L545.3,631.0 L546.4,631.2 L547.4,631.6 L548.4,631.9 L549.4,632.3 L550.4,632.7 L551.4,633.1 L552.4,633.3 L553.4,633.5 L554.5,633.6 L555.5,633.6 L556.5,633.5 L557.5,633.5 L558.5,633.4 L559.5,633.4 L560.5,633.5 L561.5,633.6 L562.6,633.7 L563.6,633.8 L564.6,634.0 L565.6,634.1 L566.6,634.2" fill="none" stroke="#7a7a7a" stroke-width="1" stroke-linejoin="round"/><path d="M21.0,647.0 L22.0,647.2 L23.0,647.2 L24.0,647.2 L25.0,647.0 L26.0,646.8 L27.0,646.6 L28.0,646.3 L29.0,646.1 L30.0,645.9 L31.0,645.8 L32.0,645.8 L33.0,645.8 L34.0,645.8 L35.0,645.8 L36.0,645.8 L37.0,645.8 L38.0,645.7 L39.0,645.6 L40.0,645.5 L41.0,645.3 L42.0,645.2 L43.0,645.2 L44.0,645.2 L45.0,645.3 L46.0,645.5 L47.0,645.8 L48.0,646.0 L49.0,646.3 L50.0,646.5 L51.0,646.6 L52.0,646.6 L53.0,646.6 L54.0,646.4 L55.0,646.2 L56.0,645.9 L57.0,645.6 L58.0,645.4 L59.0,645.2 L60.0,645.1 L61.0,645.1 L62.0,645.1 L63.0,645.1 L64.0,645.2 L65.0,645.2 L66.0,645.2 L67.0,645.1 L68.0,645.0 L69.0,644.9 L70.0,644.8 L71.0,644.7 L72.0,644.6 L73.0,644.7 L74.0,644.8 L75.0,645.0 L76.0,645.3 L77.0,645.5 L78.0,645.8 L79.0,645.9 L80.0,646.0 L81.0,646.0 L82.0,645.9 L83.0,645.7 L84.0,645.4 L85.0,645.2 L86.0,644.9 L87.0,644.6 L88.0,644.5 L89.0,644.4 L90.0,644.3 L91.0,644.4 L92.0,644.4 L93.0,644.5 L94.0,644.5 L95.0,644.5 L96.0,644.4 L97.0,644.3 L98.0,644.2 L99.0,644.1 L100.0,644.0 L101.0,643.9 L102.0,644.0 L103.0,644.1 L104.0,644.3 L105.0,644.5 L106.0,644.8 L107.0,645.0 L108.0,645.1 L109.0,645.1 L110.0,645.1 L111.0,644.9 L112.0,644.7 L113.0,644.4 L114.0,644.1 L115.0,643.8 L116.0,643.5 L117.0,643.3 L118.0,643.2 L119.0,643.2 L120.0,643.2 L121.0,643.3 L122.0,643.3 L123.0,643.3 L124.0,643.3 L125.0,643.3 L126.0,643.2 L127.0,643.0 L128.0,642.9 L129.0,642.8 L130.0,642.8 L131.0,642.9 L132.0,643.0 L133.0,643.2 L134.0,643.4 L135.0,643.6 L136.0,643.8 L137.0,643.9 L138.0,643.9 L139.0,643.8 L140.0,643.6 L141.0,643.4 L142.0,643.1 L143.0,642.7 L144.0,642.4 L145.0,642.2 L146.0,642.0 L147.0,642.0 L148.0,641.9 L149.0,642.0 L150.0,642.1 L151.0,642.1 L152.0,642.2 L153.0,642.2 L154.0,642.2 L155.0,642.1 L156.0,642.0 L157.0,641.9 L158.0,641.9 L159.0,641.9 L160.0,642.0 L161.0,642.1 L162.0,642.3 L163.0,642.5 L164.0,642.7 L165.0,642.9 L166.0,643.0 L167.0,643.0 L168.0,643.0 L169.0,642.8 L170.0,642.5 L171.0,642.2 L172.0,641.9 L173.0,641.7 L174.0,641.5 L175.0,641.3 L176.0,641.3 L177.0,641.4 L178.0,641.5 L179.0,641.6 L180.0,641.7 L181.0,641.8 L182.0,641.9 L183.0,641.9 L184.0,641.9 L185.0,641.8 L186.0,641.8 L187.0,641.8 L188.0,641.8 L189.0,642.0 L190.0,642.1 L191.0,642.4 L192.0,642.6 L193.0,642.9 L194.0,643.1 L195.0,643.2 L196.0,643.2 L197.0,643.1 L198.0,643.0 L199.0,642.7 L200.0,642.5 L201.0,642.2 L202.0,642.0 L203.0,641.8 L204.0,641.8 L205.0,641.8 L206.0,641.9 L207.0,642.0 L208.0,642.2 L209.0,642.4 L210.0,642.5 L211.0,642.6 L212.0,642.7 L213.0,642.7 L214.0,642.7 L215.0,642.7 L216.0,642.8 L217.0,642.8 L218.0,643.0 L219.0,643.2 L220.0,643.4 L221.0,643.7 L222.0,644.0 L223.0,644.2 L224.0,644.3 L225.0,644.3 L226.0,644.2 L227.0,644.1 L228.0,643.9 L229.0,643.6 L230.0,643.4 L231.0,643.2 L232.0,643.1 L233.0,643.1 L234.0,643.1 L235.0,643.3 L236.0,643.5 L237.0,643.7 L238.0,643.9 L239.0,644.1 L240.0,644.3 L241.0,644.4 L242.0,644.4 L243.0,644.4 L244.0,644.5 L245.0,644.5 L246.0,644.6 L247.0,644.8 L248.0,645.0 L249.0,645.3 L250.0,645.5 L251.0,645.9 L252.0,646.5 L253.0,647.0 L254.0,647.4 L255.0,647.4 L256.0,647.2 L257.0,646.9 L258.0,646.6 L259.0,646.2 L260.0,646.0 L261.0,645.8 L262.0,645.7 L263.0,645.7 L264.0,645.7 L265.0,645.8 L266.0,645.9 L267.0,646.0 L268.0,646.1 L269.0,646.1 L270.0,646.0 L271.0,645.9 L272.0,645.8 L273.0,645.7 L274.0,645.5 L275.0,645.5 L276.0,645.4 L277.0,645.4 L278.0,645.5 L279.0,645.5 L280.0,645.5 L281.0,645.5 L282.0,645.4 L283.0,645.2 L284.0,644.9 L285.0,644.5 L286.0,643.9 L287.0,643.2 L288.0,642.3 L289.0,641.3 L290.0,640.4 L291.0,639.5 L292.0,638.7 L293.0,638.0 L294.0,637.4 L295.0,636.9 L296.0,636.4 L297.0,635.9 L298.0,635.3 L299.0,634.7 L300.0,634.1 L301.0,633.5 L302.0,633.1 L303.1,632.6 L304.2,632.2 L305.2,631.9 L306.3,631.7 L307.4,631.7 L308.5,631.7 L309.4,631.9 L310.4,632.0 L311.4,632.1 L312.3,632.1 L313.2,632.2 L314.2,632.1 L315.1,632.1 L316.1,632.0 L317.1,632.0 L318.0,632.1 L319.0,632.3 L320.0,632.7 L321.0,633.3 L322.0,634.0 L323.0,634.6 L324.0,635.1 L325.0,635.4 L326.0,635.6 L327.0,635.7 L328.0,635.7 L329.0,635.7 L330.0,635.7 L331.0,635.6 L332.0,635.6 L333.0,635.6 L334.0,635.7 L335.0,635.8 L336.0,635.9 L337.0,636.1 L338.0,636.2 L339.0,636.2 L340.0,636.2 L341.0,636.0 L342.1,635.7 L343.1,635.2 L344.1,634.7 L345.1,634.1 L346.1,633.5 L347.2,633.1 L348.2,632.7 L349.2,632.5 L350.2,632.4 L351.2,632.3 L352.2,632.2 L353.2,632.1 L354.1,631.9 L355.1,631.7 L356.1,631.5 L357.1,631.1 L358.1,630.8 L359.1,630.4 L360.1,630.0 L361.1,629.7 L362.1,629.4 L363.1,629.2 L364.0,629.1 L365.0,629.0 L366.0,629.0 L367.0,628.9 L368.0,628.9 L369.0,628.8 L370.0,628.8 L371.1,628.7 L372.1,628.7 L373.1,628.8 L374.2,628.9 L375.2,629.1 L376.2,629.5 L377.3,629.9 L378.3,630.4 L379.3,631.0 L380.4,631.5 L381.4,632.0 L382.4,632.4 L383.3,632.8 L384.3,633.0 L385.2,633.2 L386.2,633.3 L387.1,633.4 L388.1,633.5 L389.0,633.6 L390.0,633.7 L391.0,633.9 L392.0,634.2 L393.0,634.5 L394.0,634.9 L395.0,635.4 L396.0,635.8 L397.0,636.1 L398.1,636.5 L399.1,636.7 L400.1,636.9 L401.1,637.0 L402.1,637.1 L403.1,637.3 L404.1,637.5 L405.1,637.8 L406.1,638.1 L407.1,638.6 L408.1,639.2 L409.1,639.7 L410.1,640.3 L411.1,640.9 L412.2,641.4 L413.2,641.8 L414.2,642.1 L415.2,642.3 L416.2,642.4 L417.2,642.4 L418.2,642.4 L419.2,642.4 L420.2,642.4 L421.2,642.3 L422.2,642.2 L423.2,642.1 L424.3,641.9 L425.3,641.7 L426.3,641.4 L427.3,640.9 L428.3,640.4 L429.3,639.8 L430.3,639.1 L431.4,638.4 L432.4,637.8 L433.4,637.2 L434.4,636.8 L435.4,636.4 L436.4,636.2 L437.4,636.1 L438.4,636.1 L439.4,636.1 L440.5,636.2 L441.5,636.2 L442.5,636.2 L443.5,636.2 L444.5,636.3 L445.5,636.3 L446.5,636.4 L447.5,636.6 L448.4,636.8 L449.4,637.2 L450.4,637.6 L451.4,638.0 L452.4,638.5 L453.4,639.0 L454.4,639.4 L455.4,639.7 L456.4,640.0 L457.3,640.1 L458.3,640.1 L459.3,640.1 L460.3,640.0 L461.3,639.8 L462.3,639.6 L463.3,639.6 L464.3,639.6 L465.3,639.7 L466.3,639.8 L467.3,640.0 L468.3,640.2 L469.3,640.4 L470.3,640.5 L471.3,640.5 L472.3,640.4 L473.3,640.2 L474.2,640.0 L475.2,639.7 L476.2,639.4 L477.2,639.2 L478.2,639.0 L479.2,638.9 L480.2,638.7 L481.2,638.6 L482.2,638.5 L483.2,638.4 L484.2,638.2 L485.2,637.9 L486.2,637.6 L487.2,637.2 L488.2,636.9 L489.1,636.5 L490.1,636.1 L491.1,635.8 L492.1,635.5 L493.1,635.4 L494.0,635.3 L495.0,635.3 L496.0,635.4 L496.9,635.4 L497.9,635.5 L498.9,635.5 L499.9,635.4 L500.8,635.3 L501.8,635.2 L502.8,634.9 L503.8,634.7 L504.8,634.5 L505.7,634.4 L506.7,634.3 L507.7,634.3 L508.7,634.4 L509.8,634.7 L510.8,635.0 L511.8,635.3 L512.8,635.7 L513.8,636.0 L514.9,636.3 L515.9,636.5 L516.9,636.8 L517.9,637.0 L519.0,637.3 L520.0,637.6 L521.0,638.0 L522.0,638.5 L523.0,639.1 L524.1,639.7 L525.1,640.3 L526.1,640.8 L527.1,641.2 L528.1,641.6 L529.1,641.8 L530.1,642.0 L531.2,642.1 L532.2,642.1 L533.2,642.1 L534.2,642.1 L535.2,642.2 L536.2,642.2 L537.2,642.4 L538.2,642.5 L539.3,642.7 L540.3,642.8 L541.3,643.0 L542.3,643.0 L543.3,643.0 L544.3,643.0 L545.3,642.9 L546.4,642.8 L547.4,642.7 L548.4,642.7 L549.4,642.7 L550.4,642.9 L551.4,643.1 L552.4,643.5 L553.4,643.9 L554.5,644.3 L555.5,644.7 L556.5,645.0 L557.5,645.2 L558.5,645.4 L559.5,645.5 L560.5,645.5 L561.5,645.4 L562.6,645.4 L563.6,645.3 L564.6,645.3 L565.6,645.4 L566.6,645.5" fill="none" stroke="#c4c4c4" stroke-width="1" stroke-linejoin="round"/><path d="M21.0,658.4 L22.0,658.4 L23.0,658.3 L24.0,658.0 L25.0,657.8 L26.0,657.4 L27.0,657.2 L28.0,656.9 L29.0,656.8 L30.0,656.7 L31.0,656.7 L32.0,656.8 L33.0,656.9 L34.0,657.1 L35.0,657.2 L36.0,657.3 L37.0,657.4 L38.0,657.4 L39.0,657.4 L40.0,657.4 L41.0,657.3 L42.0,657.3 L43.0,657.4 L44.0,657.5 L45.0,657.6 L46.0,657.8 L47.0,658.0 L48.0,658.2 L49.0,658.3 L50.0,658.3 L51.0,658.3 L52.0,658.1 L53.0,657.9 L54.0,657.6 L55.0,657.3 L56.0,657.0 L57.0,656.8 L58.0,656.6 L59.0,656.6 L60.0,656.6 L61.0,656.7 L62.0,656.9 L63.0,657.1 L64.0,657.2 L65.0,657.3 L66.0,657.4 L67.0,657.4 L68.0,657.4 L69.0,657.4 L70.0,657.3 L71.0,657.3 L72.0,657.4 L73.0,657.5 L74.0,657.6 L75.0,657.8 L76.0,658.0 L77.0,658.1 L78.0,658.2 L79.0,658.2 L80.0,658.1 L81.0,657.9 L82.0,657.7 L83.0,657.4 L84.0,657.1 L85.0,656.8 L86.0,656.6 L87.0,656.5 L88.0,656.4 L89.0,656.5 L90.0,656.6 L91.0,656.8 L92.0,657.0 L93.0,657.2 L94.0,657.3 L95.0,657.3 L96.0,657.4 L97.0,657.3 L98.0,657.3 L99.0,657.2 L100.0,657.2 L101.0,657.2 L102.0,657.3 L103.0,657.4 L104.0,657.5 L105.0,657.6 L106.0,657.7 L107.0,657.8 L108.0,657.7 L109.0,657.6 L110.0,657.3 L111.0,657.0 L112.0,656.7 L113.0,656.4 L114.0,656.1 L115.0,655.8 L116.0,655.7 L117.0,655.7 L118.0,655.7 L119.0,655.8 L120.0,656.0 L121.0,656.2 L122.0,656.3 L123.0,656.4 L124.0,656.4 L125.0,656.4 L126.0,656.4 L127.0,656.3 L128.0,656.2 L129.0,656.1 L130.0,656.1 L131.0,656.1 L132.0,656.2 L133.0,656.3 L134.0,656.4 L135.0,656.5 L136.0,656.5 L137.0,656.4 L138.0,656.2 L139.0,655.9 L140.0,655.6 L141.0,655.3 L142.0,654.9 L143.0,654.7 L144.0,654.4 L145.0,654.3 L146.0,654.3 L147.0,654.4 L148.0,654.5 L149.0,654.7 L150.0,654.9 L151.0,655.1 L152.0,655.2 L153.0,655.2 L154.0,655.2 L155.0,655.2 L156.0,655.1 L157.0,655.0 L158.0,654.9 L159.0,654.9 L160.0,655.0 L161.0,655.0 L162.0,655.1 L163.0,655.2 L164.0,655.3 L165.0,655.3 L166.0,655.2 L167.0,655.1 L168.0,654.8 L169.0,654.6 L170.0,654.2 L171.0,654.0 L172.0,653.7 L173.0,653.6 L174.0,653.5 L175.0,653.6 L176.0,653.7 L177.0,653.9 L178.0,654.2 L179.0,654.4 L180.0,654.6 L181.0,654.8 L182.0,654.9 L183.0,654.9 L184.0,654.9 L185.0,654.8 L186.0,654.8 L187.0,654.7 L188.0,654.8 L189.0,654.8 L190.0,654.9 L191.0,655.1 L192.0,655.2 L193.0,655.3 L194.0,655.3 L195.0,655.2 L196.0,655.1 L197.0,654.9 L198.0,654.7 L199.0,654.4 L200.0,654.2 L201.0,654.0 L202.0,653.9 L203.0,653.9 L204.0,654.0 L205.0,654.2 L206.0,654.5 L207.0,654.8 L208.0,655.1 L209.0,655.3 L210.0,655.5 L211.0,655.6 L212.0,655.7 L213.0,655.6 L214.0,655.6 L215.0,655.6 L216.0,655.6 L217.0,655.6 L218.0,655.7 L219.0,655.8 L220.0,656.0 L221.0,656.1 L222.0,656.2 L223.0,656.2 L224.0,656.2 L225.0,656.1 L226.0,655.9 L227.0,655.7 L228.0,655.5 L229.0,655.3 L230.0,655.1 L231.0,655.1 L232.0,655.2 L233.0,655.4 L234.0,655.6 L235.0,655.9 L236.0,656.2 L237.0,656.6 L238.0,656.8 L239.0,657.0 L240.0,657.2 L241.0,657.2 L242.0,657.2 L243.0,657.2 L244.0,657.2 L245.0,657.2 L246.0,657.2 L247.0,657.3 L248.0,657.4 L249.0,657.6 L250.0,657.7 L251.0,658.1 L252.0,658.6 L253.0,659.2 L254.0,659.6 L255.0,659.7 L256.0,659.4 L257.0,659.1 L258.0,658.9 L259.0,658.7 L260.0,658.6 L261.0,658.6 L262.0,658.7 L263.0,658.8 L264.0,659.0 L265.0,659.2 L266.0,659.4 L267.0,659.6 L268.0,659.6 L269.0,659.6 L270.0,659.5 L271.0,659.3 L272.0,659.1 L273.0,658.9 L274.0,658.7 L275.0,658.5 L276.0,658.4 L277.0,658.3 L278.0,658.1 L279.0,658.0 L280.0,657.8 L281.0,657.6 L282.0,657.3 L283.0,656.9 L284.0,656.4 L285.0,655.9 L286.0,655.4 L287.0,654.8 L288.0,654.2 L289.0,653.6 L290.0,653.1 L291.0,652.7 L292.0,652.3 L293.0,651.8 L294.0,651.2 L295.0,650.5 L296.0,649.6 L297.0,648.7 L298.0,647.8 L299.0,647.1 L300.0,646.4 L301.1,645.9 L302.1,645.4 L303.2,644.9 L304.2,644.6 L305.3,644.3 L306.4,644.2 L307.4,644.1 L308.5,644.1 L309.6,644.1 L310.7,644.2 L311.8,644.3 L312.8,644.3 L313.9,644.3 L315.0,644.3 L316.0,644.4 L317.0,644.5 L318.0,644.7 L319.0,645.0 L320.0,645.4 L321.0,646.0 L322.0,646.6 L323.0,647.5 L324.0,648.5 L325.0,649.1 L326.0,649.0 L327.0,648.3 L328.0,647.5 L329.0,646.6 L330.0,645.9 L331.0,645.4 L332.0,645.0 L333.0,644.7 L334.0,644.6 L335.0,644.7 L336.0,644.8 L337.0,645.0 L338.0,645.1 L339.0,645.1 L340.0,645.1 L341.0,644.8 L342.1,644.2 L343.1,643.5 L344.1,642.8 L345.1,642.1 L346.1,641.5 L347.2,641.2 L348.2,641.2 L349.2,641.5 L350.2,641.7 L351.2,642.1 L352.2,642.3 L353.2,642.6 L354.2,642.7 L355.2,642.8 L356.2,642.8 L357.2,642.7 L358.2,642.5 L359.2,642.4 L360.2,642.1 L361.2,641.7 L362.1,641.2 L363.1,640.6 L364.1,640.0 L365.1,639.4 L366.1,638.9 L367.0,638.5 L368.0,638.1 L369.0,637.9 L370.0,637.8 L371.1,637.8 L372.1,638.0 L373.1,638.2 L374.2,638.6 L375.2,639.2 L376.2,639.9 L377.3,640.7 L378.3,641.5 L379.3,642.4 L380.4,643.2 L381.4,643.9 L382.4,644.4 L383.3,644.9 L384.3,645.2 L385.2,645.4 L386.2,645.6 L387.1,645.7 L388.1,645.8 L389.0,645.9 L390.0,646.1 L391.0,646.3 L392.0,646.6 L393.0,647.0 L394.0,647.4 L395.0,647.8 L396.0,648.2 L397.0,648.6 L398.1,648.9 L399.1,649.2 L400.1,649.5 L401.1,649.7 L402.1,650.0 L403.1,650.3 L404.1,650.7 L405.1,651.2 L406.1,651.7 L407.1,652.3 L408.1,653.0 L409.1,653.6 L410.1,654.2 L411.1,654.7 L412.2,655.1 L413.2,655.4 L414.2,655.5 L415.2,655.5 L416.2,655.5 L417.2,655.4 L418.2,655.3 L419.2,655.2 L420.2,655.1 L421.2,654.9 L422.2,654.8 L423.2,654.6 L424.3,654.4 L425.3,654.1 L426.3,653.7 L427.3,653.2 L428.3,652.6 L429.3,652.0 L430.3,651.4 L431.4,650.8 L432.4,650.3 L433.4,649.9 L434.4,649.6 L435.4,649.4 L436.4,649.3 L437.4,649.3 L438.4,649.3 L439.4,649.2 L440.5,649.2 L441.5,649.1 L442.5,648.9 L443.5,648.8 L444.5,648.6 L445.5,648.5 L446.5,648.5 L447.5,648.5 L448.4,648.6 L449.4,648.8 L450.4,649.1 L451.4,649.5 L452.4,649.8 L453.4,650.2 L454.4,650.5 L455.4,650.8 L456.4,651.0 L457.3,651.1 L458.3,651.1 L459.3,651.1 L460.3,651.1 L461.3,651.1 L462.3,651.2 L463.3,651.3 L464.3,651.5 L465.3,651.8 L466.3,652.0 L467.3,652.3 L468.3,652.5 L469.3,652.6 L470.3,652.6 L471.3,652.5 L472.3,652.3 L473.3,652.1 L474.2,651.8 L475.2,651.5 L476.2,651.2 L477.2,651.0 L478.2,650.8 L479.2,650.7 L480.2,650.7 L481.2,650.6 L482.2,650.6 L483.2,650.5 L484.2,650.4 L485.2,650.3 L486.2,650.1 L487.2,649.8 L488.2,649.6 L489.1,649.4 L490.1,649.2 L491.1,649.1 L492.1,649.0 L493.1,649.1 L494.0,649.1 L495.0,649.2 L496.0,649.2 L496.9,649.2 L497.9,649.2 L498.9,649.0 L499.9,648.8 L500.8,648.5 L501.8,648.2 L502.8,647.8 L503.8,647.4 L504.8,647.1 L505.7,646.9 L506.7,646.8 L507.7,646.8 L508.7,646.9 L509.8,647.1 L510.8,647.3 L511.8,647.6 L512.8,647.8 L513.8,648.1 L514.9,648.3 L515.9,648.5 L516.9,648.8 L517.9,649.0 L519.0,649.3 L520.0,649.7 L521.0,650.2 L522.0,650.7 L523.0,651.3 L524.1,651.8 L525.1,652.3 L526.1,652.7 L527.1,653.0 L528.1,653.2 L529.1,653.3 L530.1,653.3 L531.2,653.2 L532.2,653.0 L533.2,652.9 L534.2,652.9 L535.2,652.9 L536.2,652.9 L537.2,653.0 L538.2,653.2 L539.3,653.4 L540.3,653.6 L541.3,653.8 L542.3,653.9 L543.3,654.0 L544.3,654.0 L545.3,654.0 L546.4,654.1 L547.4,654.1 L548.4,654.3 L549.4,654.5 L550.4,654.8 L551.4,655.1 L552.4,655.5 L553.4,655.9 L554.5,656.2 L555.5,656.5 L556.5,656.7 L557.5,656.7 L558.5,656.7 L559.5,656.6 L560.5,656.4 L561.5,656.3 L562.6,656.1 L563.6,656.1 L564.6,656.1 L565.6,656.2 L566.6,656.3" fill="none" stroke="#4472c4" stroke-width="1" stroke-linejoin="round"/>
<line x1="162.9" y1="210.5" x2="162.9" y2="234.4" stroke="#4a72c0" stroke-width="1.5"/><line x1="332.7" y1="182.4" x2="332.7" y2="206.9" stroke="#4a72c0" stroke-width="1.5"/><line x1="372.3" y1="242.7" x2="372.3" y2="266.2" stroke="#4a72c0" stroke-width="1.5"/><line x1="388.9" y1="246.8" x2="388.9" y2="271.3" stroke="#4a72c0" stroke-width="1.5"/><line x1="170.8" y1="203.2" x2="170.8" y2="226.7" stroke="#f4a030" stroke-width="1.5"/><line x1="340.4" y1="177.3" x2="340.4" y2="202.8" stroke="#f4a030" stroke-width="1.5"/><line x1="380.5" y1="232.5" x2="380.5" y2="255" stroke="#f4a030" stroke-width="1.5"/><line x1="397.1" y1="237.6" x2="397.1" y2="261.1" stroke="#f4a030" stroke-width="1.5"/><line x1="178.8" y1="195.3" x2="178.8" y2="219.8" stroke="#f0501e" stroke-width="1.5"/><line x1="348.2" y1="172.2" x2="348.2" y2="202.8" stroke="#f0501e" stroke-width="1.5"/><line x1="388.5" y1="226.3" x2="388.5" y2="248.8" stroke="#f0501e" stroke-width="1.5"/><line x1="404.8" y1="226.3" x2="404.8" y2="248.8" stroke="#f0501e" stroke-width="1.5"/><line x1="186.5" y1="196.2" x2="186.5" y2="220.5" stroke="#3aa8c0" stroke-width="1.5"/><line x1="267.7" y1="215.3" x2="267.7" y2="239.1" stroke="#3aa8c0" stroke-width="1.5"/><line x1="356.4" y1="181.4" x2="356.4" y2="205.9" stroke="#3aa8c0" stroke-width="1.5"/><line x1="380.7" y1="214.1" x2="380.7" y2="234.5" stroke="#3aa8c0" stroke-width="1.5"/><line x1="396.1" y1="220.2" x2="396.1" y2="240.6" stroke="#3aa8c0" stroke-width="1.5"/><line x1="419.6" y1="219.2" x2="419.6" y2="242.7" stroke="#3aa8c0" stroke-width="1.5"/><line x1="194.6" y1="195.3" x2="194.6" y2="219.4" stroke="#24407e" stroke-width="1.5"/><line x1="276.1" y1="200" x2="276.1" y2="224.8" stroke="#24407e" stroke-width="1.5"/><line x1="364.6" y1="190" x2="364.6" y2="213" stroke="#24407e" stroke-width="1.5"/><line x1="388.9" y1="194.6" x2="388.9" y2="218.2" stroke="#24407e" stroke-width="1.5"/><line x1="405.9" y1="202.8" x2="405.9" y2="226.3" stroke="#24407e" stroke-width="1.5"/><line x1="427.7" y1="205.9" x2="427.7" y2="230.4" stroke="#24407e" stroke-width="1.5"/><line x1="482.4" y1="206.9" x2="482.4" y2="230.4" stroke="#24407e" stroke-width="1.5"/><line x1="505.9" y1="205.9" x2="505.9" y2="227.4" stroke="#24407e" stroke-width="1.5"/><line x1="80.2" y1="195.4" x2="80.2" y2="218.2" stroke="#1f8060" stroke-width="1.5"/><line x1="206.9" y1="188" x2="206.9" y2="212.2" stroke="#1f8060" stroke-width="1.5"/><line x1="283.9" y1="188" x2="283.9" y2="212.4" stroke="#1f8060" stroke-width="1.5"/><line x1="372.7" y1="189.5" x2="372.7" y2="213" stroke="#1f8060" stroke-width="1.5"/><line x1="396.6" y1="182.2" x2="396.6" y2="206" stroke="#1f8060" stroke-width="1.5"/><line x1="414.5" y1="189.5" x2="414.5" y2="214.1" stroke="#1f8060" stroke-width="1.5"/><line x1="431.2" y1="195.7" x2="431.2" y2="219.2" stroke="#1f8060" stroke-width="1.5"/><line x1="454.3" y1="194.6" x2="454.3" y2="219.2" stroke="#1f8060" stroke-width="1.5"/><line x1="485.4" y1="192.6" x2="485.4" y2="215.1" stroke="#1f8060" stroke-width="1.5"/><line x1="515.1" y1="191.6" x2="515.1" y2="214.1" stroke="#1f8060" stroke-width="1.5"/><line x1="91.2" y1="179.8" x2="91.2" y2="203.7" stroke="#c0202a" stroke-width="1.5"/><line x1="104.7" y1="179" x2="104.7" y2="203" stroke="#c0202a" stroke-width="1.5"/><line x1="118.7" y1="179" x2="118.7" y2="203" stroke="#c0202a" stroke-width="1.5"/><line x1="214.9" y1="175.8" x2="214.9" y2="199.7" stroke="#c0202a" stroke-width="1.5"/><line x1="291" y1="170.3" x2="291" y2="195" stroke="#c0202a" stroke-width="1.5"/><line x1="379.3" y1="178.3" x2="379.3" y2="202.8" stroke="#c0202a" stroke-width="1.5"/><line x1="404.9" y1="166.4" x2="404.9" y2="189.4" stroke="#c0202a" stroke-width="1.5"/><line x1="421.2" y1="172.2" x2="421.2" y2="197.7" stroke="#c0202a" stroke-width="1.5"/><line x1="439.4" y1="179.3" x2="439.4" y2="202.8" stroke="#c0202a" stroke-width="1.5"/><line x1="482.8" y1="180.3" x2="482.8" y2="203.8" stroke="#c0202a" stroke-width="1.5"/><line x1="495" y1="179.3" x2="495" y2="203.8" stroke="#c0202a" stroke-width="1.5"/><line x1="521.2" y1="177.3" x2="521.2" y2="201.8" stroke="#c0202a" stroke-width="1.5"/><line x1="535.1" y1="178.1" x2="535.1" y2="202" stroke="#c0202a" stroke-width="1.5"/><line x1="222.8" y1="159.6" x2="222.8" y2="183.4" stroke="#f8bc30" stroke-width="1.5"/><line x1="298.6" y1="158.5" x2="298.6" y2="182" stroke="#f8bc30" stroke-width="1.5"/><line x1="388.7" y1="162" x2="388.7" y2="185.8" stroke="#f8bc30" stroke-width="1.5"/><line x1="412.3" y1="148.6" x2="412.3" y2="172" stroke="#f8bc30" stroke-width="1.5"/><line x1="531.4" y1="157" x2="531.4" y2="181" stroke="#f8bc30" stroke-width="1.5"/><line x1="542.7" y1="160.8" x2="542.7" y2="184" stroke="#f8bc30" stroke-width="1.5"/><line x1="104.1" y1="147.8" x2="104.1" y2="170.4" stroke="#4cc098" stroke-width="1.5"/><line x1="137" y1="152" x2="137" y2="170" stroke="#4cc098" stroke-width="1.5"/><line x1="231" y1="143.3" x2="231" y2="167.2" stroke="#4cc098" stroke-width="1.5"/><line x1="306.2" y1="143.6" x2="306.2" y2="166.5" stroke="#4cc098" stroke-width="1.5"/><line x1="396.7" y1="147" x2="396.7" y2="171" stroke="#4cc098" stroke-width="1.5"/><line x1="420.5" y1="133.4" x2="420.5" y2="157" stroke="#4cc098" stroke-width="1.5"/><line x1="437.1" y1="140" x2="437.1" y2="163" stroke="#4cc098" stroke-width="1.5"/><line x1="466.3" y1="144.8" x2="466.3" y2="168" stroke="#4cc098" stroke-width="1.5"/><line x1="506.1" y1="145.5" x2="506.1" y2="169" stroke="#4cc098" stroke-width="1.5"/><line x1="537.2" y1="140.8" x2="537.2" y2="164" stroke="#4cc098" stroke-width="1.5"/><line x1="111.6" y1="131.2" x2="111.6" y2="155" stroke="#6e6e6e" stroke-width="1.5"/><line x1="136.5" y1="130.2" x2="136.5" y2="154" stroke="#6e6e6e" stroke-width="1.5"/><line x1="239" y1="128.4" x2="239" y2="152.2" stroke="#6e6e6e" stroke-width="1.5"/><line x1="314.8" y1="126.4" x2="314.8" y2="150.3" stroke="#6e6e6e" stroke-width="1.5"/><line x1="404.3" y1="130.5" x2="404.3" y2="154.3" stroke="#6e6e6e" stroke-width="1.5"/><line x1="428.2" y1="118.7" x2="428.2" y2="141.9" stroke="#6e6e6e" stroke-width="1.5"/><line x1="445.7" y1="124.8" x2="445.7" y2="148.6" stroke="#6e6e6e" stroke-width="1.5"/><line x1="475.8" y1="131.5" x2="475.8" y2="155.3" stroke="#6e6e6e" stroke-width="1.5"/><line x1="521.3" y1="129.3" x2="521.3" y2="152.2" stroke="#6e6e6e" stroke-width="1.5"/><line x1="546.7" y1="126.5" x2="546.7" y2="149.3" stroke="#6e6e6e" stroke-width="1.5"/><line x1="144.2" y1="122.9" x2="144.2" y2="138.5" stroke="#bcbcbc" stroke-width="1.5"/><line x1="246.8" y1="112.2" x2="246.8" y2="135" stroke="#bcbcbc" stroke-width="1.5"/><line x1="322.4" y1="110.5" x2="322.4" y2="134.1" stroke="#bcbcbc" stroke-width="1.5"/><line x1="412.3" y1="115.3" x2="412.3" y2="144.8" stroke="#bcbcbc" stroke-width="1.5"/><line x1="436.3" y1="99" x2="436.3" y2="124.8" stroke="#bcbcbc" stroke-width="1.5"/><line x1="453.5" y1="109.5" x2="453.5" y2="133.4" stroke="#bcbcbc" stroke-width="1.5"/><line x1="523.2" y1="116" x2="523.2" y2="138.9" stroke="#bcbcbc" stroke-width="1.5"/><line x1="550.3" y1="115" x2="550.3" y2="138.9" stroke="#bcbcbc" stroke-width="1.5"/><line x1="143.8" y1="109.4" x2="143.8" y2="121.8" stroke="#4a72c0" stroke-width="1.5"/><line x1="156.1" y1="109.4" x2="156.1" y2="122" stroke="#4a72c0" stroke-width="1.5"/><line x1="254.9" y1="95.5" x2="254.9" y2="118.9" stroke="#4a72c0" stroke-width="1.5"/><line x1="330.6" y1="98.1" x2="330.6" y2="122" stroke="#4a72c0" stroke-width="1.5"/><line x1="420.5" y1="99.1" x2="420.5" y2="122.9" stroke="#4a72c0" stroke-width="1.5"/><line x1="444.4" y1="82.5" x2="444.4" y2="107.7" stroke="#4a72c0" stroke-width="1.5"/><line x1="461.1" y1="91.5" x2="461.1" y2="116.2" stroke="#4a72c0" stroke-width="1.5"/><line x1="558.1" y1="98.8" x2="558.1" y2="122.6" stroke="#4a72c0" stroke-width="1.5"/><line x1="167.1" y1="382.2" x2="167.1" y2="394.7" stroke="#4a72c0" stroke-width="1.6"/><line x1="168.2" y1="407.1" x2="168.2" y2="418.2" stroke="#f4a030" stroke-width="1.6"/><line x1="168.2" y1="431.5" x2="168.2" y2="461.2" stroke="#f0501e" stroke-width="1.6"/><line x1="169" y1="472.3" x2="169" y2="500" stroke="#3aa8c0" stroke-width="1.6"/><line x1="173.3" y1="512.3" x2="173.3" y2="533.1" stroke="#24407e" stroke-width="1.6"/><line x1="175.1" y1="544.4" x2="175.1" y2="574.1" stroke="#1f8060" stroke-width="1.6"/><line x1="271.2" y1="505.5" x2="271.2" y2="508" stroke="#f4a030" stroke-width="1.6"/><line x1="270.5" y1="519" x2="270.5" y2="526.3" stroke="#f4a030" stroke-width="1.6"/><line x1="270.8" y1="530" x2="270.8" y2="534.3" stroke="#f0501e" stroke-width="1.6"/><line x1="272.4" y1="516.8" x2="272.4" y2="547.5" stroke="#3aa8c0" stroke-width="1.6"/><line x1="277.8" y1="532.1" x2="277.8" y2="562.8" stroke="#24407e" stroke-width="1.6"/><line x1="367" y1="485.8" x2="367" y2="510.7" stroke="#4a72c0" stroke-width="1.6"/><line x1="368.1" y1="535.7" x2="368.1" y2="545.4" stroke="#1f8060" stroke-width="1.6"/><line x1="369.7" y1="556.7" x2="369.7" y2="568.4" stroke="#f8bc30" stroke-width="1.6"/><line x1="368.4" y1="582.4" x2="368.4" y2="612.9" stroke="#6e6e6e" stroke-width="1.6"/><line x1="308.8" y1="556.5" x2="308.8" y2="565.8" stroke="#c0202a" stroke-width="1.6"/><line x1="310" y1="585.2" x2="310" y2="607.4" stroke="#4cc098" stroke-width="1.6"/><line x1="307.6" y1="588.7" x2="307.6" y2="618.3" stroke="#6e6e6e" stroke-width="1.6"/><line x1="369.8" y1="582" x2="369.8" y2="588" stroke="#f8bc30" stroke-width="1.6"/><line x1="332.1" y1="612.9" x2="332.1" y2="642" stroke="#4a72c0" stroke-width="1.6"/><line x1="348.7" y1="608.7" x2="348.7" y2="639.2" stroke="#4a72c0" stroke-width="1.6"/><line x1="440.5" y1="481.2" x2="440.5" y2="504.8" stroke="#f4a030" stroke-width="1.6"/><line x1="441" y1="515.3" x2="441" y2="546" stroke="#3aa8c0" stroke-width="1.6"/><line x1="447.1" y1="532.5" x2="447.1" y2="552.1" stroke="#24407e" stroke-width="1.6"/><line x1="443.5" y1="567.9" x2="443.5" y2="579.5" stroke="#f8bc30" stroke-width="1.6"/><line x1="443.5" y1="592" x2="443.5" y2="600" stroke="#6e6e6e" stroke-width="1.6"/><line x1="444.1" y1="613" x2="444.1" y2="645.5" stroke="#4a72c0" stroke-width="1.6"/><line x1="491.8" y1="456.6" x2="491.8" y2="463.6" stroke="#4a72c0" stroke-width="1.6"/><line x1="491.8" y1="474.2" x2="491.8" y2="479.4" stroke="#f4a030" stroke-width="1.6"/><line x1="491.8" y1="490.8" x2="491.8" y2="498.7" stroke="#f0501e" stroke-width="1.6"/><line x1="492.0" y1="512.7" x2="492.0" y2="522.3" stroke="#f0501e" stroke-width="1.6"/><line x1="492.7" y1="510" x2="492.7" y2="541.6" stroke="#3aa8c0" stroke-width="1.6"/><line x1="507.3" y1="556.3" x2="507.3" y2="564.4" stroke="#c0202a" stroke-width="1.6"/><line x1="507.0" y1="579" x2="507.0" y2="588" stroke="#c0202a" stroke-width="1.6"/><line x1="506" y1="579" x2="506" y2="603.3" stroke="#4cc098" stroke-width="1.6"/><line x1="506.7" y1="611.4" x2="506.7" y2="643.8" stroke="#4a72c0" stroke-width="1.6"/>
<g transform="translate(161.3,209.6) rotate(-62) scale(0.84,1)"><rect x="-0.5" y="-4.3" width="12.7" height="5.0" fill="#fff"/><text class="la">2917</text></g><g transform="translate(331.1,181.5) rotate(-62) scale(0.84,1)"><rect x="-0.5" y="-4.3" width="12.7" height="5.0" fill="#fff"/><text class="la">1711</text></g><g transform="translate(370.7,241.8) rotate(-62) scale(0.84,1)"><rect x="-0.5" y="-4.3" width="12.7" height="5.0" fill="#fff"/><text class="la">1461</text></g><g transform="translate(387.3,245.9) rotate(-62) scale(0.84,1)"><rect x="-0.5" y="-4.3" width="12.7" height="5.0" fill="#fff"/><text class="la">1416</text></g><g transform="translate(169.2,202.3) rotate(-62) scale(0.84,1)"><rect x="-0.5" y="-4.3" width="12.7" height="5.0" fill="#fff"/><text class="la">2917</text></g><g transform="translate(338.8,176.4) rotate(-62) scale(0.84,1)"><rect x="-0.5" y="-4.3" width="12.7" height="5.0" fill="#fff"/><text class="la">1710</text></g><g transform="translate(378.9,231.6) rotate(-62) scale(0.84,1)"><rect x="-0.5" y="-4.3" width="12.7" height="5.0" fill="#fff"/><text class="la">1462</text></g><g transform="translate(395.5,236.7) rotate(-62) scale(0.84,1)"><rect x="-0.5" y="-4.3" width="12.7" height="5.0" fill="#fff"/><text class="la">1415</text></g><g transform="translate(177.2,194.4) rotate(-62) scale(0.84,1)"><rect x="-0.5" y="-4.3" width="12.7" height="5.0" fill="#fff"/><text class="la">2917</text></g><g transform="translate(346.6,171.3) rotate(-62) scale(0.84,1)"><rect x="-0.5" y="-4.3" width="12.7" height="5.0" fill="#fff"/><text class="la">1710</text></g><g transform="translate(386.9,225.4) rotate(-62) scale(0.84,1)"><rect x="-0.5" y="-4.3" width="12.7" height="5.0" fill="#fff"/><text class="la">1462</text></g><g transform="translate(403.2,225.4) rotate(-62) scale(0.84,1)"><rect x="-0.5" y="-4.3" width="12.7" height="5.0" fill="#fff"/><text class="la">1415</text></g><g transform="translate(184.9,195.3) rotate(-62) scale(0.84,1)"><rect x="-0.5" y="-4.3" width="12.7" height="5.0" fill="#fff"/><text class="la">2916</text></g><g transform="translate(266.1,214.4) rotate(-62) scale(0.84,1)"><rect x="-0.5" y="-4.3" width="12.7" height="5.0" fill="#fff"/><text class="la">2361</text></g><g transform="translate(354.8,180.5) rotate(-62) scale(0.84,1)"><rect x="-0.5" y="-4.3" width="12.7" height="5.0" fill="#fff"/><text class="la">1709</text></g><g transform="translate(379.1,213.2) rotate(-62) scale(0.84,1)"><rect x="-0.5" y="-4.3" width="12.7" height="5.0" fill="#fff"/><text class="la">1529</text></g><g transform="translate(394.5,219.3) rotate(-62) scale(0.84,1)"><rect x="-0.5" y="-4.3" width="12.7" height="5.0" fill="#fff"/><text class="la">1461</text></g><g transform="translate(418.0,218.3) rotate(-62) scale(0.84,1)"><rect x="-0.5" y="-4.3" width="12.7" height="5.0" fill="#fff"/><text class="la">1384</text></g><g transform="translate(193.0,194.4) rotate(-62) scale(0.84,1)"><rect x="-0.5" y="-4.3" width="12.7" height="5.0" fill="#fff"/><text class="la">2916</text></g><g transform="translate(274.5,199.1) rotate(-62) scale(0.84,1)"><rect x="-0.5" y="-4.3" width="12.7" height="5.0" fill="#fff"/><text class="la">2360</text></g><g transform="translate(363.0,189.1) rotate(-62) scale(0.84,1)"><rect x="-0.5" y="-4.3" width="12.7" height="5.0" fill="#fff"/><text class="la">1705</text></g><g transform="translate(387.3,193.7) rotate(-62) scale(0.84,1)"><rect x="-0.5" y="-4.3" width="12.7" height="5.0" fill="#fff"/><text class="la">1597</text></g><g transform="translate(404.3,201.9) rotate(-62) scale(0.84,1)"><rect x="-0.5" y="-4.3" width="12.7" height="5.0" fill="#fff"/><text class="la">1461</text></g><g transform="translate(426.1,205.0) rotate(-62) scale(0.84,1)"><rect x="-0.5" y="-4.3" width="12.7" height="5.0" fill="#fff"/><text class="la">1260</text></g><g transform="translate(480.8,206.0) rotate(-62) scale(0.84,1)"><rect x="-0.5" y="-4.3" width="9.7" height="5.0" fill="#fff"/><text class="la">956</text></g><g transform="translate(504.3,205.0) rotate(-62) scale(0.84,1)"><rect x="-0.5" y="-4.3" width="14.2" height="5.0" fill="#fff"/><text class="la">866.1</text></g><g transform="translate(78.6,194.5) rotate(-62) scale(0.84,1)"><rect x="-0.5" y="-4.3" width="12.7" height="5.0" fill="#fff"/><text class="la">3569</text></g><g transform="translate(205.3,187.1) rotate(-62) scale(0.84,1)"><rect x="-0.5" y="-4.3" width="12.7" height="5.0" fill="#fff"/><text class="la">2915</text></g><g transform="translate(282.3,187.1) rotate(-62) scale(0.84,1)"><rect x="-0.5" y="-4.3" width="12.7" height="5.0" fill="#fff"/><text class="la">2360</text></g><g transform="translate(371.1,188.6) rotate(-62) scale(0.84,1)"><rect x="-0.5" y="-4.3" width="12.7" height="5.0" fill="#fff"/><text class="la">1704</text></g><g transform="translate(395.0,181.3) rotate(-62) scale(0.84,1)"><rect x="-0.5" y="-4.3" width="12.7" height="5.0" fill="#fff"/><text class="la">1529</text></g><g transform="translate(412.9,188.6) rotate(-62) scale(0.84,1)"><rect x="-0.5" y="-4.3" width="12.7" height="5.0" fill="#fff"/><text class="la">1396</text></g><g transform="translate(429.6,194.8) rotate(-62) scale(0.84,1)"><rect x="-0.5" y="-4.3" width="12.7" height="5.0" fill="#fff"/><text class="la">1260</text></g><g transform="translate(452.7,193.7) rotate(-62) scale(0.84,1)"><rect x="-0.5" y="-4.3" width="12.7" height="5.0" fill="#fff"/><text class="la">1101</text></g><g transform="translate(483.8,191.7) rotate(-62) scale(0.84,1)"><rect x="-0.5" y="-4.3" width="9.7" height="5.0" fill="#fff"/><text class="la">872</text></g><g transform="translate(513.5,190.7) rotate(-62) scale(0.84,1)"><rect x="-0.5" y="-4.3" width="14.2" height="5.0" fill="#fff"/><text class="la">855.9</text></g><g transform="translate(89.6,178.9) rotate(-62) scale(0.84,1)"><rect x="-0.5" y="-4.3" width="12.7" height="5.0" fill="#fff"/><text class="la">3500</text></g><g transform="translate(103.1,178.1) rotate(-62) scale(0.84,1)"><rect x="-0.5" y="-4.3" width="12.7" height="5.0" fill="#fff"/><text class="la">3378</text></g><g transform="translate(117.1,178.1) rotate(-62) scale(0.84,1)"><rect x="-0.5" y="-4.3" width="12.7" height="5.0" fill="#fff"/><text class="la">3305</text></g><g transform="translate(213.3,174.9) rotate(-62) scale(0.84,1)"><rect x="-0.5" y="-4.3" width="12.7" height="5.0" fill="#fff"/><text class="la">2922</text></g><g transform="translate(289.4,169.4) rotate(-62) scale(0.84,1)"><rect x="-0.5" y="-4.3" width="12.7" height="5.0" fill="#fff"/><text class="la">2360</text></g><g transform="translate(377.7,177.4) rotate(-62) scale(0.84,1)"><rect x="-0.5" y="-4.3" width="12.7" height="5.0" fill="#fff"/><text class="la">1714</text></g><g transform="translate(403.3,165.5) rotate(-62) scale(0.84,1)"><rect x="-0.5" y="-4.3" width="12.7" height="5.0" fill="#fff"/><text class="la">1460</text></g><g transform="translate(419.6,171.3) rotate(-62) scale(0.84,1)"><rect x="-0.5" y="-4.3" width="12.7" height="5.0" fill="#fff"/><text class="la">1386</text></g><g transform="translate(437.8,178.4) rotate(-62) scale(0.84,1)"><rect x="-0.5" y="-4.3" width="12.7" height="5.0" fill="#fff"/><text class="la">1260</text></g><g transform="translate(481.2,179.4) rotate(-62) scale(0.84,1)"><rect x="-0.5" y="-4.3" width="14.2" height="5.0" fill="#fff"/><text class="la">957.4</text></g><g transform="translate(493.4,178.4) rotate(-62) scale(0.84,1)"><rect x="-0.5" y="-4.3" width="9.7" height="5.0" fill="#fff"/><text class="la">862</text></g><g transform="translate(519.6,176.4) rotate(-62) scale(0.84,1)"><rect x="-0.5" y="-4.3" width="14.2" height="5.0" fill="#fff"/><text class="la">865.3</text></g><g transform="translate(533.5,177.2) rotate(-62) scale(0.84,1)"><rect x="-0.5" y="-4.3" width="14.2" height="5.0" fill="#fff"/><text class="la">861.1</text></g><g transform="translate(221.2,158.7) rotate(-62) scale(0.84,1)"><rect x="-0.5" y="-4.3" width="12.7" height="5.0" fill="#fff"/><text class="la">2925</text></g><g transform="translate(297.0,157.6) rotate(-62) scale(0.84,1)"><rect x="-0.5" y="-4.3" width="12.7" height="5.0" fill="#fff"/><text class="la">2360</text></g><g transform="translate(387.1,161.1) rotate(-62) scale(0.84,1)"><rect x="-0.5" y="-4.3" width="12.7" height="5.0" fill="#fff"/><text class="la">1702</text></g><g transform="translate(410.7,147.7) rotate(-62) scale(0.84,1)"><rect x="-0.5" y="-4.3" width="12.7" height="5.0" fill="#fff"/><text class="la">1520</text></g><g transform="translate(529.8,156.1) rotate(-62) scale(0.84,1)"><rect x="-0.5" y="-4.3" width="14.2" height="5.0" fill="#fff"/><text class="la">848.7</text></g><g transform="translate(541.1,159.9) rotate(-62) scale(0.84,1)"><rect x="-0.5" y="-4.3" width="14.2" height="5.0" fill="#fff"/><text class="la">867.3</text></g><g transform="translate(102.5,146.9) rotate(-62) scale(0.84,1)"><rect x="-0.5" y="-4.3" width="12.7" height="5.0" fill="#fff"/><text class="la">3569</text></g><g transform="translate(135.4,151.1) rotate(-62) scale(0.84,1)"><rect x="-0.5" y="-4.3" width="12.7" height="5.0" fill="#fff"/><text class="la">3272</text></g><g transform="translate(229.4,142.4) rotate(-62) scale(0.84,1)"><rect x="-0.5" y="-4.3" width="12.7" height="5.0" fill="#fff"/><text class="la">2902</text></g><g transform="translate(304.6,142.7) rotate(-62) scale(0.84,1)"><rect x="-0.5" y="-4.3" width="12.7" height="5.0" fill="#fff"/><text class="la">2355</text></g><g transform="translate(395.1,146.1) rotate(-62) scale(0.84,1)"><rect x="-0.5" y="-4.3" width="12.7" height="5.0" fill="#fff"/><text class="la">1701</text></g><g transform="translate(418.9,132.5) rotate(-62) scale(0.84,1)"><rect x="-0.5" y="-4.3" width="12.7" height="5.0" fill="#fff"/><text class="la">1550</text></g><g transform="translate(435.5,139.1) rotate(-62) scale(0.84,1)"><rect x="-0.5" y="-4.3" width="12.7" height="5.0" fill="#fff"/><text class="la">1461</text></g><g transform="translate(464.7,143.9) rotate(-62) scale(0.84,1)"><rect x="-0.5" y="-4.3" width="12.7" height="5.0" fill="#fff"/><text class="la">1188</text></g><g transform="translate(504.5,144.6) rotate(-62) scale(0.84,1)"><rect x="-0.5" y="-4.3" width="14.2" height="5.0" fill="#fff"/><text class="la">894.5</text></g><g transform="translate(535.6,139.9) rotate(-62) scale(0.84,1)"><rect x="-0.5" y="-4.3" width="9.7" height="5.0" fill="#fff"/><text class="la">837</text></g><g transform="translate(110.0,130.3) rotate(-62) scale(0.84,1)"><rect x="-0.5" y="-4.3" width="12.7" height="5.0" fill="#fff"/><text class="la">3660</text></g><g transform="translate(134.9,129.3) rotate(-62) scale(0.84,1)"><rect x="-0.5" y="-4.3" width="12.7" height="5.0" fill="#fff"/><text class="la">3272</text></g><g transform="translate(237.4,127.5) rotate(-62) scale(0.84,1)"><rect x="-0.5" y="-4.3" width="12.7" height="5.0" fill="#fff"/><text class="la">2922</text></g><g transform="translate(313.2,125.5) rotate(-62) scale(0.84,1)"><rect x="-0.5" y="-4.3" width="12.7" height="5.0" fill="#fff"/><text class="la">2361</text></g><g transform="translate(402.7,129.6) rotate(-62) scale(0.84,1)"><rect x="-0.5" y="-4.3" width="12.7" height="5.0" fill="#fff"/><text class="la">1702</text></g><g transform="translate(426.6,117.8) rotate(-62) scale(0.84,1)"><rect x="-0.5" y="-4.3" width="12.7" height="5.0" fill="#fff"/><text class="la">1520</text></g><g transform="translate(444.1,123.9) rotate(-62) scale(0.84,1)"><rect x="-0.5" y="-4.3" width="12.7" height="5.0" fill="#fff"/><text class="la">1460</text></g><g transform="translate(474.2,130.6) rotate(-62) scale(0.84,1)"><rect x="-0.5" y="-4.3" width="12.7" height="5.0" fill="#fff"/><text class="la">1116</text></g><g transform="translate(519.7,128.4) rotate(-62) scale(0.84,1)"><rect x="-0.5" y="-4.3" width="14.2" height="5.0" fill="#fff"/><text class="la">944.1</text></g><g transform="translate(545.1,125.6) rotate(-62) scale(0.84,1)"><rect x="-0.5" y="-4.3" width="14.2" height="5.0" fill="#fff"/><text class="la">855.6</text></g><g transform="translate(245.2,111.3) rotate(-62) scale(0.84,1)"><rect x="-0.5" y="-4.3" width="12.7" height="5.0" fill="#fff"/><text class="la">2905</text></g><g transform="translate(320.8,109.6) rotate(-62) scale(0.84,1)"><rect x="-0.5" y="-4.3" width="12.7" height="5.0" fill="#fff"/><text class="la">2361</text></g><g transform="translate(410.7,114.4) rotate(-62) scale(0.84,1)"><rect x="-0.5" y="-4.3" width="12.7" height="5.0" fill="#fff"/><text class="la">1702</text></g><g transform="translate(434.7,98.1) rotate(-62) scale(0.84,1)"><rect x="-0.5" y="-4.3" width="12.7" height="5.0" fill="#fff"/><text class="la">1536</text></g><g transform="translate(451.9,108.6) rotate(-62) scale(0.84,1)"><rect x="-0.5" y="-4.3" width="12.7" height="5.0" fill="#fff"/><text class="la">1386</text></g><g transform="translate(521.6,115.1) rotate(-62) scale(0.84,1)"><rect x="-0.5" y="-4.3" width="14.2" height="5.0" fill="#fff"/><text class="la">863.7</text></g><g transform="translate(548.7,114.1) rotate(-62) scale(0.84,1)"><rect x="-0.5" y="-4.3" width="14.2" height="5.0" fill="#fff"/><text class="la">864.2</text></g><g transform="translate(253.3,94.6) rotate(-62) scale(0.84,1)"><rect x="-0.5" y="-4.3" width="12.7" height="5.0" fill="#fff"/><text class="la">2922</text></g><g transform="translate(329.0,97.2) rotate(-62) scale(0.84,1)"><rect x="-0.5" y="-4.3" width="12.7" height="5.0" fill="#fff"/><text class="la">2361</text></g><g transform="translate(418.9,98.2) rotate(-62) scale(0.84,1)"><rect x="-0.5" y="-4.3" width="12.7" height="5.0" fill="#fff"/><text class="la">1701</text></g><g transform="translate(442.8,81.6) rotate(-62) scale(0.84,1)"><rect x="-0.5" y="-4.3" width="12.7" height="5.0" fill="#fff"/><text class="la">1536</text></g><g transform="translate(459.5,90.6) rotate(-62) scale(0.84,1)"><rect x="-0.5" y="-4.3" width="12.7" height="5.0" fill="#fff"/><text class="la">1461</text></g><g transform="translate(556.5,97.9) rotate(-62) scale(0.84,1)"><rect x="-0.5" y="-4.3" width="14.2" height="5.0" fill="#fff"/><text class="la">866.9</text></g><g transform="translate(162.3,380.4) rotate(-45)"><rect x="-0.9" y="-5.3" width="15.4" height="6.5" fill="#fff"/><text class="lb">1711</text></g><g transform="translate(163.4,405.3) rotate(-45)"><rect x="-0.9" y="-5.3" width="12.0" height="6.5" fill="#fff"/><text class="lb">171</text></g><g transform="translate(163.4,429.7) rotate(-45)"><rect x="-0.9" y="-5.3" width="12.0" height="6.5" fill="#fff"/><text class="lb">171</text></g><g transform="translate(164.2,470.5) rotate(-45)"><rect x="-0.9" y="-5.3" width="15.4" height="6.5" fill="#fff"/><text class="lb">1709</text></g><g transform="translate(168.5,510.5) rotate(-45)"><rect x="-0.9" y="-5.3" width="15.4" height="6.5" fill="#fff"/><text class="lb">1705</text></g><g transform="translate(170.3,542.6) rotate(-45)"><rect x="-0.9" y="-5.3" width="15.4" height="6.5" fill="#fff"/><text class="lb">1704</text></g><g transform="translate(266.4,503.7) rotate(-45)"><rect x="-0.9" y="-5.3" width="15.4" height="6.5" fill="#fff"/><text class="lb">1616</text></g><g transform="translate(267.6,515.0) rotate(-45)"><rect x="-0.9" y="-5.3" width="15.4" height="6.5" fill="#fff"/><text class="lb">1615</text></g><g transform="translate(273.0,530.3) rotate(-45)"><rect x="-0.9" y="-5.3" width="15.4" height="6.5" fill="#fff"/><text class="lb">1611</text></g><g transform="translate(362.2,484.0) rotate(-45)"><rect x="-0.9" y="-5.3" width="15.4" height="6.5" fill="#fff"/><text class="lb">1529</text></g><g transform="translate(363.3,533.9) rotate(-45)"><rect x="-0.9" y="-5.3" width="15.4" height="6.5" fill="#fff"/><text class="lb">1527</text></g><g transform="translate(364.9,554.9) rotate(-45)"><rect x="-0.9" y="-5.3" width="15.4" height="6.5" fill="#fff"/><text class="lb">1526</text></g><g transform="translate(363.6,580.6) rotate(-45)"><rect x="-0.9" y="-5.3" width="15.4" height="6.5" fill="#fff"/><text class="lb">1527</text></g><g transform="translate(304.0,554.7) rotate(-45)"><rect x="-0.9" y="-5.3" width="15.4" height="6.5" fill="#fff"/><text class="lb">1582</text></g><g transform="translate(302.8,586.9) rotate(-45)"><rect x="-0.9" y="-5.3" width="15.4" height="6.5" fill="#fff"/><text class="lb">1583</text></g><g transform="translate(327.3,611.1) rotate(-45)"><rect x="-0.9" y="-5.3" width="15.4" height="6.5" fill="#fff"/><text class="lb">1561</text></g><g transform="translate(343.9,606.9) rotate(-45)"><rect x="-0.9" y="-5.3" width="15.4" height="6.5" fill="#fff"/><text class="lb">1545</text></g><g transform="translate(435.7,479.4) rotate(-45)"><rect x="-0.9" y="-5.3" width="15.4" height="6.5" fill="#fff"/><text class="lb">1462</text></g><g transform="translate(436.2,513.5) rotate(-45)"><rect x="-0.9" y="-5.3" width="15.4" height="6.5" fill="#fff"/><text class="lb">1461</text></g><g transform="translate(442.3,530.7) rotate(-45)"><rect x="-0.9" y="-5.3" width="15.4" height="6.5" fill="#fff"/><text class="lb">1457</text></g><g transform="translate(438.7,566.1) rotate(-45)"><rect x="-0.9" y="-5.3" width="15.4" height="6.5" fill="#fff"/><text class="lb">1459</text></g><g transform="translate(438.7,590.2) rotate(-45)"><rect x="-0.9" y="-5.3" width="15.4" height="6.5" fill="#fff"/><text class="lb">1458</text></g><g transform="translate(439.3,611.2) rotate(-45)"><rect x="-0.9" y="-5.3" width="15.4" height="6.5" fill="#fff"/><text class="lb">1458</text></g><g transform="translate(487.0,454.8) rotate(-45)"><rect x="-0.9" y="-5.3" width="15.4" height="6.5" fill="#fff"/><text class="lb">1415</text></g><g transform="translate(487.0,472.4) rotate(-45)"><rect x="-0.9" y="-5.3" width="15.4" height="6.5" fill="#fff"/><text class="lb">1414</text></g><g transform="translate(487.0,489.0) rotate(-45)"><rect x="-0.9" y="-5.3" width="15.4" height="6.5" fill="#fff"/><text class="lb">1415</text></g><g transform="translate(487.9,508.2) rotate(-45)"><rect x="-0.9" y="-5.3" width="15.4" height="6.5" fill="#fff"/><text class="lb">1414</text></g><g transform="translate(502.5,554.5) rotate(-45)"><rect x="-0.9" y="-5.3" width="15.4" height="6.5" fill="#fff"/><text class="lb">1401</text></g><g transform="translate(501.2,577.2) rotate(-45)"><rect x="-0.9" y="-5.3" width="15.4" height="6.5" fill="#fff"/><text class="lb">1402</text></g><g transform="translate(501.9,609.6) rotate(-45)"><rect x="-0.9" y="-5.3" width="15.4" height="6.5" fill="#fff"/><text class="lb">1401</text></g><g transform="translate(265.2,495.7) rotate(-45)"><rect x="-0.9" y="-5.3" width="15.4" height="6.5" fill="#fff"/><text class="lb">1617</text></g><g transform="translate(304.2,575.2) rotate(-45)"><rect x="-0.9" y="-5.3" width="15.4" height="6.5" fill="#fff"/><text class="lb">1581</text></g>
<text x="31.5" y="298.5" fill="#2e75b6" stroke="#2e75b6" class="tt" textLength="28.6" lengthAdjust="spacingAndGlyphs">t=0:00</text><text x="66.3" y="524.0" fill="#2e75b6" stroke="#2e75b6" class="tt" textLength="28.4" lengthAdjust="spacingAndGlyphs">t=0:00</text><text x="31.2" y="283.7" fill="#ffc000" stroke="#ffc000" class="tt" textLength="28.6" lengthAdjust="spacingAndGlyphs">t=0:06</text><text x="60.2" y="536.9" fill="#ffc000" stroke="#ffc000" class="tt" textLength="28.4" lengthAdjust="spacingAndGlyphs">t=0:06</text><text x="31.5" y="268.5" fill="#ff1f1f" stroke="#ff1f1f" class="tt" textLength="28.6" lengthAdjust="spacingAndGlyphs">t=0:09</text><text x="60.9" y="549.7" fill="#ff1f1f" stroke="#ff1f1f" class="tt" textLength="28.4" lengthAdjust="spacingAndGlyphs">t=0:09</text><text x="31.2" y="254.7" fill="#1aa3a3" stroke="#1aa3a3" class="tt" textLength="28.6" lengthAdjust="spacingAndGlyphs">t=0:12</text><text x="59.3" y="562.2" fill="#1aa3a3" stroke="#1aa3a3" class="tt" textLength="28.4" lengthAdjust="spacingAndGlyphs">t=0:12</text><text x="32.5" y="239.1" fill="#203864" stroke="#203864" class="tt" textLength="28.6" lengthAdjust="spacingAndGlyphs">t=0:16</text><text x="32.5" y="574.7" fill="#203864" stroke="#203864" class="tt" textLength="28.4" lengthAdjust="spacingAndGlyphs">t=0:16</text><text x="30.3" y="223.6" fill="#2c9a2c" stroke="#2c9a2c" class="tt" textLength="28.6" lengthAdjust="spacingAndGlyphs">t=0:21</text><text x="26.2" y="586.8" fill="#2c9a2c" stroke="#2c9a2c" class="tt" textLength="28.4" lengthAdjust="spacingAndGlyphs">t=0:21</text><text x="29.9" y="209.8" fill="#b01c1c" stroke="#b01c1c" class="tt" textLength="28.6" lengthAdjust="spacingAndGlyphs">t=0:28</text><text x="26.2" y="597.9" fill="#b01c1c" stroke="#b01c1c" class="tt" textLength="28.4" lengthAdjust="spacingAndGlyphs">t=0:28</text><text x="30.5" y="193.4" fill="#ffc000" stroke="#ffc000" class="tt" textLength="28.6" lengthAdjust="spacingAndGlyphs">t=0:32</text><text x="26.2" y="610.3" fill="#ffc000" stroke="#ffc000" class="tt" textLength="28.4" lengthAdjust="spacingAndGlyphs">t=0:32</text><text x="30.2" y="176.7" fill="#1db25a" stroke="#1db25a" class="tt" textLength="28.6" lengthAdjust="spacingAndGlyphs">t=0:36</text><text x="26.2" y="621.6" fill="#1db25a" stroke="#1db25a" class="tt" textLength="28.4" lengthAdjust="spacingAndGlyphs">t=0:36</text><text x="29.8" y="158.8" fill="#111111" stroke="#111111" class="tt" textLength="28.6" lengthAdjust="spacingAndGlyphs">t=0:39</text><text x="26.2" y="634.0" fill="#111111" stroke="#111111" class="tt" textLength="28.4" lengthAdjust="spacingAndGlyphs">t=0:39</text><text x="30.2" y="142.2" fill="#bfbfbf" stroke="#bfbfbf" class="tt" textLength="28.6" lengthAdjust="spacingAndGlyphs">t=0:43</text><text x="26.2" y="645.4" fill="#bfbfbf" stroke="#bfbfbf" class="tt" textLength="28.4" lengthAdjust="spacingAndGlyphs">t=0:43</text><text x="31.6" y="127.7" fill="#1f3c88" stroke="#1f3c88" class="tt" textLength="28.6" lengthAdjust="spacingAndGlyphs">t=0:55</text><text x="26.2" y="657.4" fill="#1f3c88" stroke="#1f3c88" class="tt" textLength="28.4" lengthAdjust="spacingAndGlyphs">t=0:55</text>
</svg></body></html>
